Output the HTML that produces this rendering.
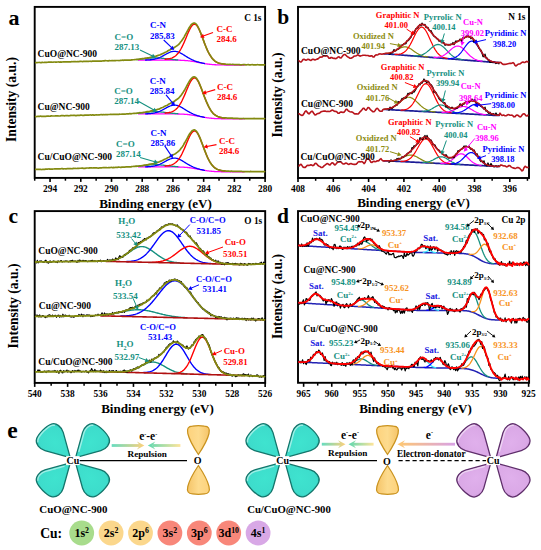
<!DOCTYPE html>
<html><head><meta charset="utf-8"><style>
html,body{margin:0;padding:0;background:#fff;}
svg{display:block;}
</style></head><body>
<svg width="541" height="550" viewBox="0 0 541 550">
<rect x="0" y="0" width="541" height="550" fill="#fff"/>
<g font-family="Liberation Serif" font-weight="bold">
<text x="8.4" y="24.6" font-size="22" fill="#000" text-anchor="start">a</text>
<text x="277.3" y="24.3" font-size="21.5" fill="#000" text-anchor="start">b</text>
<text x="8.6" y="222.8" font-size="21.5" fill="#000" text-anchor="start">c</text>
<text x="277.1" y="223.2" font-size="21.5" fill="#000" text-anchor="start">d</text>
<text x="7.3" y="437.8" font-size="23.5" fill="#000" text-anchor="start">e</text>
<rect x="34.7" y="6.9" width="230.4" height="171" fill="none" stroke="#000" stroke-width="1.9"/>
<line x1="50.06" y1="177.9" x2="50.06" y2="181.9" stroke="#000" stroke-width="1.6"/>
<text x="50.06" y="192" font-size="9.4" fill="#000" text-anchor="middle">294</text>
<line x1="80.78" y1="177.9" x2="80.78" y2="181.9" stroke="#000" stroke-width="1.6"/>
<text x="80.78" y="192" font-size="9.4" fill="#000" text-anchor="middle">292</text>
<line x1="111.5" y1="177.9" x2="111.5" y2="181.9" stroke="#000" stroke-width="1.6"/>
<text x="111.5" y="192" font-size="9.4" fill="#000" text-anchor="middle">290</text>
<line x1="142.22" y1="177.9" x2="142.22" y2="181.9" stroke="#000" stroke-width="1.6"/>
<text x="142.22" y="192" font-size="9.4" fill="#000" text-anchor="middle">288</text>
<line x1="172.94" y1="177.9" x2="172.94" y2="181.9" stroke="#000" stroke-width="1.6"/>
<text x="172.94" y="192" font-size="9.4" fill="#000" text-anchor="middle">286</text>
<line x1="203.66" y1="177.9" x2="203.66" y2="181.9" stroke="#000" stroke-width="1.6"/>
<text x="203.66" y="192" font-size="9.4" fill="#000" text-anchor="middle">284</text>
<line x1="234.38" y1="177.9" x2="234.38" y2="181.9" stroke="#000" stroke-width="1.6"/>
<text x="234.38" y="192" font-size="9.4" fill="#000" text-anchor="middle">282</text>
<line x1="265.1" y1="177.9" x2="265.1" y2="181.9" stroke="#000" stroke-width="1.6"/>
<text x="265.1" y="192" font-size="9.4" fill="#000" text-anchor="middle">280</text>
<line x1="34.7" y1="177.9" x2="34.7" y2="180.7" stroke="#000" stroke-width="1.5"/>
<line x1="65.42" y1="177.9" x2="65.42" y2="180.7" stroke="#000" stroke-width="1.5"/>
<line x1="96.14" y1="177.9" x2="96.14" y2="180.7" stroke="#000" stroke-width="1.5"/>
<line x1="126.86" y1="177.9" x2="126.86" y2="180.7" stroke="#000" stroke-width="1.5"/>
<line x1="157.58" y1="177.9" x2="157.58" y2="180.7" stroke="#000" stroke-width="1.5"/>
<line x1="188.3" y1="177.9" x2="188.3" y2="180.7" stroke="#000" stroke-width="1.5"/>
<line x1="219.02" y1="177.9" x2="219.02" y2="180.7" stroke="#000" stroke-width="1.5"/>
<line x1="249.74" y1="177.9" x2="249.74" y2="180.7" stroke="#000" stroke-width="1.5"/>
<text x="155.5" y="207.6" font-size="13.1" fill="#000" text-anchor="middle">Binding energy (eV)</text>
<text x="16.3" y="99.5" font-size="13.6" fill="#000" text-anchor="middle" transform="rotate(-90 16.3 99.5)">Intensity (a.u.)</text>
<text x="261.5" y="20.6" font-size="9.3" fill="#000" text-anchor="end">C 1s</text>
<polyline points="138.6,60.13 139.3,60.12 140,60.1 140.7,60.1 141.4,60.1 142.1,60.1 142.8,60.1 143.5,60.1 144.2,60.1 144.9,60.1 145.6,60.1 146.3,60.1 147,60.1 147.7,60.1 148.4,60.1 149.1,60.1 149.8,60.1 150.5,60.1 151.2,60.1 151.9,60.1 152.6,60.1 153.3,60.1 154,60.1 154.7,60.1 155.4,60.1 156.1,60.1 156.8,60.1 157.5,60.1 158.2,60.1 158.9,60.1 159.6,60.1 160.3,60.1 161,60.1 161.7,60.1 162.4,60.1 163.1,60.1 163.8,60.1 164.5,60.1 165.2,60.1 165.9,60.1 166.6,60.1 167.3,60.1 168,60.1 168.7,60.11 169.4,60.11 170.1,60.11 170.8,60.11 171.5,60.11 172.2,60.12 172.9,60.12 173.6,60.13 174.3,60.13 175,60.14 175.7,60.15 176.4,60.16 177.1,60.17 177.8,60.18 178.5,60.2 179.2,60.22 179.9,60.24 180.6,60.26 181.3,60.29 182,60.32 182.7,60.35 183.4,60.39 184.1,60.43 184.8,60.48 185.5,60.53 186.2,60.59 186.9,60.65 187.6,60.72 188.3,60.8 189,60.88 189.7,60.96 190.4,61.05 191.1,61.15 191.8,61.26 192.5,61.36 193.2,61.48 193.9,61.59 194.6,61.72 195.3,61.84 196,61.97 196.7,62.1 197.4,62.24 198.1,62.37 198.8,62.51 199.5,62.65 200.2,62.78 200.9,62.92 201.6,63.05 202.3,63.18 203,63.31 203.7,63.44 204.4,63.56 205.1,63.67 205.8,63.78 206.5,63.89 207.2,63.99 207.9,64.09 208.6,64.17 209.3,64.26 210,64.34 210.7,64.41 211.4,64.47 212.1,64.53 212.8,64.59 213.5,64.64 214.2,64.69 214.9,64.73 215.6,64.76 216.3,64.8 217,64.82 217.7,64.85 218.4,64.87 219.1,64.89 219.8,64.91 220.5,64.92 221.2,64.94 221.9,64.95 222.6,64.96 223.3,64.96 224,64.97 224.7,64.98 225.4,64.98 226.1,64.98 226.8,64.99 227.5,64.99 228.2,64.99 228.9,64.99 229.6,64.99 230.3,65 231,65 231.7,65 232.4,65 233.1,65 233.8,65 234.5,65 235.2,65 235.9,65 236.6,65 237.3,65 238,65 238.7,65 239.4,65 240.1,65 240.8,65 241.5,65 242.2,65 242.9,65 243.6,65 244.3,65" fill="none" stroke="#ff00ff" stroke-width="1.3" stroke-linejoin="round" stroke-linecap="round"/>
<polyline points="136.5,59.68 137.2,59.6 137.9,59.52 138.6,59.44 139.3,59.35 140,59.26 140.7,59.19 141.4,59.11 142.1,59.03 142.8,58.95 143.5,58.86 144.2,58.78 144.9,58.69 145.6,58.61 146.3,58.53 147,58.45 147.7,58.37 148.4,58.29 149.1,58.22 149.8,58.16 150.5,58.1 151.2,58.05 151.9,58 152.6,57.97 153.3,57.94 154,57.92 154.7,57.9 155.4,57.9 156.1,57.91 156.8,57.92 157.5,57.94 158.2,57.98 158.9,58.01 159.6,58.06 160.3,58.12 161,58.18 161.7,58.24 162.4,58.31 163.1,58.39 163.8,58.47 164.5,58.55 165.2,58.63 165.9,58.72 166.6,58.8 167.3,58.89 168,58.98 168.7,59.06 169.4,59.14 170.1,59.22 170.8,59.3 171.5,59.37 172.2,59.44 172.9,59.51 173.6,59.58 174.3,59.64 175,59.7 175.7,59.75 176.4,59.81 177.1,59.86 177.8,59.91" fill="none" stroke="#15907f" stroke-width="1.3" stroke-linejoin="round" stroke-linecap="round"/>
<polyline points="145.6,60.01 146.3,59.99 147,59.97 147.7,59.94 148.4,59.9 149.1,59.85 149.8,59.8 150.5,59.74 151.2,59.67 151.9,59.58 152.6,59.48 153.3,59.37 154,59.24 154.7,59.1 155.4,58.93 156.1,58.75 156.8,58.55 157.5,58.33 158.2,58.08 158.9,57.81 159.6,57.53 160.3,57.22 161,56.89 161.7,56.55 162.4,56.19 163.1,55.82 163.8,55.43 164.5,55.04 165.2,54.65 165.9,54.26 166.6,53.88 167.3,53.5 168,53.14 168.7,52.8 169.4,52.49 170.1,52.2 170.8,51.95 171.5,51.74 172.2,51.57 172.9,51.45 173.6,51.37 174.3,51.34 175,51.35 175.7,51.42 176.4,51.53 177.1,51.69 177.8,51.9 178.5,52.15 179.2,52.43 179.9,52.75 180.6,53.1 181.3,53.48 182,53.87 182.7,54.29 183.4,54.72 184.1,55.15 184.8,55.59 185.5,56.03 186.2,56.47 186.9,56.9 187.6,57.32 188.3,57.73 189,58.13 189.7,58.52 190.4,58.89 191.1,59.24 191.8,59.58 192.5,59.9 193.2,60.21 193.9,60.5 194.6,60.78 195.3,61.04 196,61.29 196.7,61.53 197.4,61.76 198.1,61.97 198.8,62.18 199.5,62.37 200.2,62.56 200.9,62.73 201.6,62.9 202.3,63.06 203,63.21 203.7,63.36 204.4,63.49" fill="none" stroke="#0000ff" stroke-width="1.3" stroke-linejoin="round" stroke-linecap="round"/>
<polyline points="165.2,59.26 165.9,59.19 166.6,59.12 167.3,59.03 168,58.93 168.7,58.81 169.4,58.66 170.1,58.5 170.8,58.3 171.5,58.07 172.2,57.8 172.9,57.49 173.6,57.13 174.3,56.71 175,56.23 175.7,55.69 176.4,55.06 177.1,54.36 177.8,53.58 178.5,52.71 179.2,51.74 179.9,50.68 180.6,49.52 181.3,48.27 182,46.93 182.7,45.51 183.4,44.01 184.1,42.44 184.8,40.81 185.5,39.15 186.2,37.46 186.9,35.77 187.6,34.1 188.3,32.47 189,30.91 189.7,29.45 190.4,28.11 191.1,26.93 191.8,25.92 192.5,25.12 193.2,24.54 193.9,24.21 194.6,24.13 195.3,24.31 196,24.75 196.7,25.43 197.4,26.36 198.1,27.49 198.8,28.81 199.5,30.3 200.2,31.92 200.9,33.65 201.6,35.45 202.3,37.3 203,39.18 203.7,41.05 204.4,42.91 205.1,44.73 205.8,46.49 206.5,48.18 207.2,49.78 207.9,51.3 208.6,52.72 209.3,54.04 210,55.25 210.7,56.36 211.4,57.37 212.1,58.28 212.8,59.1 213.5,59.83 214.2,60.47 214.9,61.03 215.6,61.53 216.3,61.96 217,62.33 217.7,62.66 218.4,62.93 219.1,63.17 219.8,63.37 220.5,63.54 221.2,63.69 221.9,63.81 222.6,63.92 223.3,64.01 224,64.09 224.7,64.15" fill="none" stroke="#ff0000" stroke-width="1.4" stroke-linejoin="round" stroke-linecap="round"/>
<polyline points="35.7,62.64 36.4,62.64 37.1,62.61 37.8,62.52 38.5,62.49 39.2,62.47 39.9,62.48 40.6,62.6 41.3,62.55 42,62.42 42.7,62.46 43.4,62.5 44.1,62.46 44.8,62.36 45.5,62.34 46.2,62.42 46.9,62.32 47.6,62.24 48.3,62.18 49,62.12 49.7,62.1 50.4,62.15 51.1,62.17 51.8,62.18 52.5,62.25 53.2,62.2 53.9,62.02 54.6,61.98 55.3,62.12 56,62.14 56.7,62.03 57.4,61.98 58.1,61.99 58.8,61.95 59.5,62.06 60.2,62.04 60.9,61.96 61.6,62.04 62.3,61.99 63,61.91 63.7,61.94 64.4,61.93 65.1,61.83 65.8,61.82 66.5,61.95 67.2,61.84 67.9,61.79 68.6,61.87 69.3,61.77 70,61.86 70.7,61.93 71.4,61.72 72.1,61.66 72.8,61.75 73.5,61.71 74.2,61.7 74.9,61.69 75.6,61.67 76.3,61.74 77,61.65 77.7,61.55 78.4,61.55 79.1,61.53 79.8,61.47 80.5,61.41 81.2,61.45 81.9,61.52 82.6,61.58 83.3,61.43 84,61.29 84.7,61.39 85.4,61.3 86.1,61.22 86.8,61.32 87.5,61.4 88.2,61.43 88.9,61.32 89.6,61.24 90.3,61.22 91,61.32 91.7,61.29 92.4,61.16 93.1,61.19 93.8,61.18 94.5,61.13 95.2,61.05 95.9,61.05 96.6,61.07 97.3,61.12 98,61.17 98.7,61.08 99.4,61.06 100.1,61.02 100.8,61.03 101.5,61.03 102.2,60.98 102.9,60.89 103.6,60.85 104.3,60.81 105,60.65 105.7,60.71 106.4,60.76 107.1,60.77 107.8,60.94 108.5,60.86 109.2,60.67 109.9,60.72 110.6,60.76 111.3,60.72 112,60.66 112.7,60.7 113.4,60.72 114.1,60.6 114.8,60.54 115.5,60.58 116.2,60.51 116.9,60.5 117.6,60.49 118.3,60.51 119,60.55 119.7,60.48 120.4,60.41 121.1,60.37 121.8,60.27 122.5,60.18 123.2,60.3 123.9,60.21 124.6,60.21 125.3,60.21 126,60.17 126.7,60.19 127.4,60.16 128.1,60.18 128.8,60.01 129.5,60.03 130.2,60.17 130.9,60.05 131.6,59.89 132.3,59.84 133,59.74 133.7,59.75 134.4,59.71 135.1,59.58 135.8,59.49 136.5,59.38 137.2,59.27 137.9,59.3 138.6,59.28 139.3,59.16 140,59.08 140.7,58.89 141.4,58.78 142.1,58.7 142.8,58.62 143.5,58.53 144.2,58.41 144.9,58.24 145.6,58.1 146.3,58.17 147,58.07 147.7,57.79 148.4,57.73 149.1,57.75 149.8,57.52 150.5,57.29 151.2,57.2 151.9,56.97 152.6,56.9 153.3,56.85 154,56.65 154.7,56.44 155.4,56.28 156.1,56.1 156.8,55.86 157.5,55.61 158.2,55.31 158.9,55.21 159.6,54.99 160.3,54.65 161,54.39 161.7,54.03 162.4,53.68 163.1,53.41 163.8,53.08 164.5,52.68 165.2,52.33 165.9,52.04 166.6,51.7 167.3,51.28 168,50.82 168.7,50.34 169.4,50.05 170.1,49.82 170.8,49.38 171.5,48.98 172.2,48.66 172.9,48.3 173.6,47.92 174.3,47.45 175,47.07 175.7,46.58 176.4,46.07 177.1,45.66 177.8,45.1 178.5,44.58 179.2,43.95 179.9,43.03 180.6,42.04 181.3,41.28 182,40.36 182.7,39.29 183.4,38.3 184.1,37.04 184.8,35.64 185.5,34.48 186.2,33.31 186.9,31.97 187.6,30.65 188.3,29.33 189,28 189.7,26.89 190.4,25.86 191.1,24.85 191.8,24.17 192.5,23.67 193.2,23.29 193.9,23.07 194.6,23.09 195.3,23.41 196,23.95 196.7,24.82 197.4,25.84 198.1,27.06 198.8,28.52 199.5,30.17 200.2,31.73 200.9,33.43 201.6,35.35 202.3,37.17 203,38.99 203.7,40.86 204.4,42.86 205.1,44.72 205.8,46.45 206.5,48.13 207.2,49.81 207.9,51.35 208.6,52.57 209.3,53.85 210,55.08 210.7,56.04 211.4,57.14 212.1,58.33 212.8,59.18 213.5,59.76 214.2,60.34 214.9,61.04 215.6,61.61 216.3,61.97 217,62.33 217.7,62.65 218.4,62.98 219.1,63.25 219.8,63.42 220.5,63.49 221.2,63.66 221.9,63.8 222.6,63.94 223.3,64 224,64 224.7,64.14 225.4,64.13 226.1,64.28 226.8,64.49 227.5,64.4 228.2,64.39 228.9,64.47 229.6,64.3 230.3,64.31 231,64.49 231.7,64.5 232.4,64.46 233.1,64.45 233.8,64.52 234.5,64.63 235.2,64.67 235.9,64.61 236.6,64.7 237.3,64.68 238,64.57 238.7,64.51 239.4,64.64 240.1,64.82 240.8,64.79 241.5,64.78 242.2,64.74 242.9,64.72 243.6,64.71 244.3,64.69 245,64.71 245.7,64.82 246.4,64.86 247.1,64.77 247.8,64.71 248.5,64.68 249.2,64.82 249.9,64.9 250.6,64.81 251.3,64.76 252,64.7 252.7,64.72 253.4,64.84 254.1,64.83 254.8,64.77 255.5,64.78 256.2,64.81 256.9,64.73 257.6,64.71 258.3,64.76 259,64.83 259.7,64.84 260.4,64.82 261.1,64.96 261.8,64.91 262.5,64.79 263.2,64.82 263.9,64.86 264.6,64.79" fill="none" stroke="#838a10" stroke-width="1.7" stroke-linejoin="round" stroke-linecap="round"/>
<polyline points="138.6,113.93 139.3,113.92 140,113.9 140.7,113.9 141.4,113.9 142.1,113.9 142.8,113.9 143.5,113.9 144.2,113.9 144.9,113.9 145.6,113.9 146.3,113.9 147,113.9 147.7,113.9 148.4,113.9 149.1,113.9 149.8,113.9 150.5,113.9 151.2,113.9 151.9,113.9 152.6,113.9 153.3,113.9 154,113.9 154.7,113.9 155.4,113.9 156.1,113.9 156.8,113.9 157.5,113.9 158.2,113.9 158.9,113.9 159.6,113.9 160.3,113.9 161,113.9 161.7,113.9 162.4,113.9 163.1,113.9 163.8,113.9 164.5,113.9 165.2,113.9 165.9,113.9 166.6,113.9 167.3,113.9 168,113.9 168.7,113.91 169.4,113.91 170.1,113.91 170.8,113.91 171.5,113.91 172.2,113.92 172.9,113.92 173.6,113.93 174.3,113.93 175,113.94 175.7,113.95 176.4,113.96 177.1,113.97 177.8,113.98 178.5,114 179.2,114.02 179.9,114.04 180.6,114.06 181.3,114.09 182,114.12 182.7,114.15 183.4,114.19 184.1,114.23 184.8,114.28 185.5,114.33 186.2,114.39 186.9,114.45 187.6,114.52 188.3,114.6 189,114.68 189.7,114.76 190.4,114.85 191.1,114.95 191.8,115.06 192.5,115.16 193.2,115.28 193.9,115.39 194.6,115.52 195.3,115.64 196,115.77 196.7,115.9 197.4,116.04 198.1,116.17 198.8,116.31 199.5,116.45 200.2,116.58 200.9,116.72 201.6,116.85 202.3,116.98 203,117.11 203.7,117.24 204.4,117.36 205.1,117.47 205.8,117.58 206.5,117.69 207.2,117.79 207.9,117.89 208.6,117.97 209.3,118.06 210,118.14 210.7,118.21 211.4,118.27 212.1,118.33 212.8,118.39 213.5,118.44 214.2,118.49 214.9,118.53 215.6,118.56 216.3,118.6 217,118.62 217.7,118.65 218.4,118.67 219.1,118.69 219.8,118.71 220.5,118.72 221.2,118.74 221.9,118.75 222.6,118.76 223.3,118.76 224,118.77 224.7,118.78 225.4,118.78 226.1,118.78 226.8,118.79 227.5,118.79 228.2,118.79 228.9,118.79 229.6,118.79 230.3,118.8 231,118.8 231.7,118.8 232.4,118.8 233.1,118.8 233.8,118.8 234.5,118.8 235.2,118.8 235.9,118.8 236.6,118.8 237.3,118.8 238,118.8 238.7,118.8 239.4,118.8 240.1,118.8 240.8,118.8 241.5,118.8 242.2,118.8 242.9,118.8 243.6,118.8 244.3,118.8" fill="none" stroke="#ff00ff" stroke-width="1.3" stroke-linejoin="round" stroke-linecap="round"/>
<polyline points="136.5,113.48 137.2,113.4 137.9,113.32 138.6,113.24 139.3,113.15 140,113.06 140.7,112.99 141.4,112.91 142.1,112.83 142.8,112.75 143.5,112.66 144.2,112.58 144.9,112.49 145.6,112.41 146.3,112.33 147,112.25 147.7,112.17 148.4,112.09 149.1,112.02 149.8,111.96 150.5,111.9 151.2,111.85 151.9,111.8 152.6,111.77 153.3,111.74 154,111.72 154.7,111.7 155.4,111.7 156.1,111.71 156.8,111.72 157.5,111.74 158.2,111.78 158.9,111.81 159.6,111.86 160.3,111.92 161,111.98 161.7,112.04 162.4,112.11 163.1,112.19 163.8,112.27 164.5,112.35 165.2,112.43 165.9,112.52 166.6,112.6 167.3,112.69 168,112.78 168.7,112.86 169.4,112.94 170.1,113.02 170.8,113.1 171.5,113.17 172.2,113.24 172.9,113.31 173.6,113.38 174.3,113.44 175,113.5 175.7,113.55 176.4,113.61 177.1,113.66 177.8,113.71" fill="none" stroke="#15907f" stroke-width="1.3" stroke-linejoin="round" stroke-linecap="round"/>
<polyline points="145.6,113.81 146.3,113.79 147,113.77 147.7,113.74 148.4,113.7 149.1,113.65 149.8,113.6 150.5,113.54 151.2,113.47 151.9,113.38 152.6,113.28 153.3,113.17 154,113.04 154.7,112.9 155.4,112.73 156.1,112.55 156.8,112.35 157.5,112.13 158.2,111.88 158.9,111.61 159.6,111.33 160.3,111.02 161,110.69 161.7,110.35 162.4,109.99 163.1,109.62 163.8,109.23 164.5,108.84 165.2,108.45 165.9,108.06 166.6,107.68 167.3,107.3 168,106.94 168.7,106.6 169.4,106.29 170.1,106 170.8,105.75 171.5,105.54 172.2,105.37 172.9,105.25 173.6,105.17 174.3,105.14 175,105.15 175.7,105.22 176.4,105.33 177.1,105.49 177.8,105.7 178.5,105.95 179.2,106.23 179.9,106.55 180.6,106.9 181.3,107.28 182,107.67 182.7,108.09 183.4,108.52 184.1,108.95 184.8,109.39 185.5,109.83 186.2,110.27 186.9,110.7 187.6,111.12 188.3,111.53 189,111.93 189.7,112.32 190.4,112.69 191.1,113.04 191.8,113.38 192.5,113.7 193.2,114.01 193.9,114.3 194.6,114.58 195.3,114.84 196,115.09 196.7,115.33 197.4,115.56 198.1,115.77 198.8,115.98 199.5,116.17 200.2,116.36 200.9,116.53 201.6,116.7 202.3,116.86 203,117.01 203.7,117.16 204.4,117.29" fill="none" stroke="#0000ff" stroke-width="1.3" stroke-linejoin="round" stroke-linecap="round"/>
<polyline points="165.2,113.06 165.9,112.99 166.6,112.92 167.3,112.83 168,112.73 168.7,112.61 169.4,112.46 170.1,112.3 170.8,112.1 171.5,111.87 172.2,111.6 172.9,111.29 173.6,110.93 174.3,110.51 175,110.03 175.7,109.49 176.4,108.86 177.1,108.16 177.8,107.38 178.5,106.51 179.2,105.54 179.9,104.48 180.6,103.32 181.3,102.07 182,100.73 182.7,99.31 183.4,97.81 184.1,96.24 184.8,94.61 185.5,92.95 186.2,91.26 186.9,89.57 187.6,87.9 188.3,86.27 189,84.71 189.7,83.25 190.4,81.91 191.1,80.73 191.8,79.72 192.5,78.92 193.2,78.34 193.9,78.01 194.6,77.93 195.3,78.11 196,78.55 196.7,79.23 197.4,80.16 198.1,81.29 198.8,82.61 199.5,84.1 200.2,85.72 200.9,87.45 201.6,89.25 202.3,91.1 203,92.98 203.7,94.85 204.4,96.71 205.1,98.53 205.8,100.29 206.5,101.98 207.2,103.58 207.9,105.1 208.6,106.52 209.3,107.84 210,109.05 210.7,110.16 211.4,111.17 212.1,112.08 212.8,112.9 213.5,113.63 214.2,114.27 214.9,114.83 215.6,115.33 216.3,115.76 217,116.13 217.7,116.46 218.4,116.73 219.1,116.97 219.8,117.17 220.5,117.34 221.2,117.49 221.9,117.61 222.6,117.72 223.3,117.81 224,117.89 224.7,117.95" fill="none" stroke="#ff0000" stroke-width="1.4" stroke-linejoin="round" stroke-linecap="round"/>
<polyline points="35.7,116.47 36.4,116.57 37.1,116.51 37.8,116.36 38.5,116.3 39.2,116.31 39.9,116.28 40.6,116.18 41.3,116.31 42,116.31 42.7,116.28 43.4,116.41 44.1,116.34 44.8,116.26 45.5,116.35 46.2,116.28 46.9,116.11 47.6,116.03 48.3,116.05 49,116.2 49.7,116.24 50.4,116.07 51.1,115.95 51.8,115.96 52.5,116.01 53.2,116.01 53.9,115.99 54.6,116 55.3,115.95 56,115.91 56.7,115.92 57.4,115.9 58.1,115.9 58.8,116 59.5,115.99 60.2,115.87 60.9,115.71 61.6,115.71 62.3,115.68 63,115.55 63.7,115.71 64.4,115.81 65.1,115.74 65.8,115.57 66.5,115.54 67.2,115.59 67.9,115.63 68.6,115.79 69.3,115.75 70,115.55 70.7,115.44 71.4,115.47 72.1,115.51 72.8,115.43 73.5,115.43 74.2,115.41 74.9,115.45 75.6,115.57 76.3,115.55 77,115.44 77.7,115.39 78.4,115.39 79.1,115.32 79.8,115.29 80.5,115.21 81.2,115.13 81.9,115.24 82.6,115.29 83.3,115.24 84,115.29 84.7,115.16 85.4,115.03 86.1,115.13 86.8,115.18 87.5,115.13 88.2,115.15 88.9,115.17 89.6,115.02 90.3,114.93 91,115.03 91.7,115.1 92.4,114.92 93.1,114.95 93.8,115.08 94.5,115.07 95.2,114.99 95.9,114.87 96.6,114.81 97.3,114.96 98,115 98.7,114.92 99.4,114.88 100.1,114.77 100.8,114.69 101.5,114.64 102.2,114.78 102.9,114.71 103.6,114.7 104.3,114.78 105,114.63 105.7,114.56 106.4,114.58 107.1,114.59 107.8,114.56 108.5,114.5 109.2,114.49 109.9,114.46 110.6,114.38 111.3,114.42 112,114.53 112.7,114.43 113.4,114.35 114.1,114.39 114.8,114.31 115.5,114.38 116.2,114.39 116.9,114.41 117.6,114.37 118.3,114.28 119,114.29 119.7,114.2 120.4,114.23 121.1,114.24 121.8,114.22 122.5,114.2 123.2,114.08 123.9,114.05 124.6,114.09 125.3,114.12 126,114.03 126.7,113.94 127.4,113.86 128.1,113.87 128.8,113.87 129.5,113.68 130.2,113.7 130.9,113.83 131.6,113.69 132.3,113.5 133,113.5 133.7,113.43 134.4,113.44 135.1,113.39 135.8,113.25 136.5,113.26 137.2,113.17 137.9,113.08 138.6,112.98 139.3,112.79 140,112.64 140.7,112.73 141.4,112.74 142.1,112.55 142.8,112.47 143.5,112.36 144.2,112.26 144.9,112.26 145.6,112.09 146.3,111.77 147,111.65 147.7,111.55 148.4,111.53 149.1,111.54 149.8,111.31 150.5,111.05 151.2,110.95 151.9,110.97 152.6,110.68 153.3,110.47 154,110.41 154.7,110.27 155.4,110.09 156.1,109.82 156.8,109.59 157.5,109.33 158.2,109.27 158.9,109.13 159.6,108.76 160.3,108.39 161,108 161.7,107.73 162.4,107.52 163.1,107.2 163.8,106.85 164.5,106.43 165.2,106.07 165.9,105.76 166.6,105.47 167.3,105.2 168,104.74 168.7,104.2 169.4,103.83 170.1,103.46 170.8,103.05 171.5,102.71 172.2,102.32 172.9,101.98 173.6,101.65 174.3,101.23 175,100.81 175.7,100.31 176.4,99.79 177.1,99.31 177.8,98.78 178.5,98.19 179.2,97.56 179.9,96.73 180.6,95.93 181.3,95.05 182,94.06 182.7,93.09 183.4,91.91 184.1,90.76 184.8,89.68 185.5,88.39 186.2,87.06 186.9,85.73 187.6,84.39 188.3,83.11 189,81.9 189.7,80.76 190.4,79.66 191.1,78.75 191.8,78.06 192.5,77.45 193.2,77.03 193.9,76.91 194.6,76.92 195.3,77.23 196,77.91 196.7,78.69 197.4,79.71 198.1,80.87 198.8,82.23 199.5,83.85 200.2,85.56 200.9,87.3 201.6,89.02 202.3,90.92 203,92.98 203.7,94.91 204.4,96.72 205.1,98.4 205.8,100.21 206.5,101.99 207.2,103.4 207.9,104.95 208.6,106.44 209.3,107.66 210,108.93 210.7,110.19 211.4,111.22 212.1,112.07 212.8,113.02 213.5,113.82 214.2,114.36 214.9,114.81 215.6,115.24 216.3,115.64 217,116.12 217.7,116.5 218.4,116.76 219.1,117.04 219.8,117.18 220.5,117.29 221.2,117.53 221.9,117.69 222.6,117.82 223.3,117.9 224,117.89 224.7,117.96 225.4,117.97 226.1,117.9 226.8,118.04 227.5,118.17 228.2,118.19 228.9,118.12 229.6,118.11 230.3,118.2 231,118.19 231.7,118.11 232.4,118.16 233.1,118.37 233.8,118.43 234.5,118.35 235.2,118.34 235.9,118.44 236.6,118.29 237.3,118.25 238,118.46 238.7,118.52 239.4,118.6 240.1,118.63 240.8,118.56 241.5,118.52 242.2,118.56 242.9,118.51 243.6,118.47 244.3,118.57 245,118.7 245.7,118.64 246.4,118.53 247.1,118.55 247.8,118.64 248.5,118.64 249.2,118.65 249.9,118.6 250.6,118.51 251.3,118.56 252,118.62 252.7,118.7 253.4,118.57 254.1,118.45 254.8,118.57 255.5,118.59 256.2,118.48 256.9,118.59 257.6,118.71 258.3,118.68 259,118.63 259.7,118.66 260.4,118.68 261.1,118.69 261.8,118.65 262.5,118.54 263.2,118.61 263.9,118.62 264.6,118.65" fill="none" stroke="#838a10" stroke-width="1.7" stroke-linejoin="round" stroke-linecap="round"/>
<polyline points="138.6,166.93 139.3,166.92 140,166.9 140.7,166.9 141.4,166.9 142.1,166.9 142.8,166.9 143.5,166.9 144.2,166.9 144.9,166.9 145.6,166.9 146.3,166.9 147,166.9 147.7,166.9 148.4,166.9 149.1,166.9 149.8,166.9 150.5,166.9 151.2,166.9 151.9,166.9 152.6,166.9 153.3,166.9 154,166.9 154.7,166.9 155.4,166.9 156.1,166.9 156.8,166.9 157.5,166.9 158.2,166.9 158.9,166.9 159.6,166.9 160.3,166.9 161,166.9 161.7,166.9 162.4,166.9 163.1,166.9 163.8,166.9 164.5,166.9 165.2,166.9 165.9,166.9 166.6,166.9 167.3,166.9 168,166.9 168.7,166.91 169.4,166.91 170.1,166.91 170.8,166.91 171.5,166.91 172.2,166.92 172.9,166.92 173.6,166.93 174.3,166.93 175,166.94 175.7,166.95 176.4,166.96 177.1,166.97 177.8,166.98 178.5,167 179.2,167.02 179.9,167.04 180.6,167.06 181.3,167.09 182,167.12 182.7,167.15 183.4,167.19 184.1,167.23 184.8,167.28 185.5,167.33 186.2,167.39 186.9,167.45 187.6,167.52 188.3,167.6 189,167.68 189.7,167.76 190.4,167.85 191.1,167.95 191.8,168.06 192.5,168.16 193.2,168.28 193.9,168.39 194.6,168.52 195.3,168.64 196,168.77 196.7,168.9 197.4,169.04 198.1,169.17 198.8,169.31 199.5,169.45 200.2,169.58 200.9,169.72 201.6,169.85 202.3,169.98 203,170.11 203.7,170.24 204.4,170.36 205.1,170.47 205.8,170.58 206.5,170.69 207.2,170.79 207.9,170.89 208.6,170.97 209.3,171.06 210,171.14 210.7,171.21 211.4,171.27 212.1,171.33 212.8,171.39 213.5,171.44 214.2,171.49 214.9,171.53 215.6,171.56 216.3,171.6 217,171.62 217.7,171.65 218.4,171.67 219.1,171.69 219.8,171.71 220.5,171.72 221.2,171.74 221.9,171.75 222.6,171.76 223.3,171.76 224,171.77 224.7,171.78 225.4,171.78 226.1,171.78 226.8,171.79 227.5,171.79 228.2,171.79 228.9,171.79 229.6,171.79 230.3,171.8 231,171.8 231.7,171.8 232.4,171.8 233.1,171.8 233.8,171.8 234.5,171.8 235.2,171.8 235.9,171.8 236.6,171.8 237.3,171.8 238,171.8 238.7,171.8 239.4,171.8 240.1,171.8 240.8,171.8 241.5,171.8 242.2,171.8 242.9,171.8 243.6,171.8 244.3,171.8" fill="none" stroke="#ff00ff" stroke-width="1.3" stroke-linejoin="round" stroke-linecap="round"/>
<polyline points="136.5,166.48 137.2,166.4 137.9,166.32 138.6,166.24 139.3,166.15 140,166.06 140.7,165.99 141.4,165.91 142.1,165.83 142.8,165.75 143.5,165.66 144.2,165.58 144.9,165.49 145.6,165.41 146.3,165.33 147,165.25 147.7,165.17 148.4,165.09 149.1,165.02 149.8,164.96 150.5,164.9 151.2,164.85 151.9,164.8 152.6,164.77 153.3,164.74 154,164.72 154.7,164.7 155.4,164.7 156.1,164.71 156.8,164.72 157.5,164.74 158.2,164.78 158.9,164.81 159.6,164.86 160.3,164.92 161,164.98 161.7,165.04 162.4,165.11 163.1,165.19 163.8,165.27 164.5,165.35 165.2,165.43 165.9,165.52 166.6,165.6 167.3,165.69 168,165.78 168.7,165.86 169.4,165.94 170.1,166.02 170.8,166.1 171.5,166.17 172.2,166.24 172.9,166.31 173.6,166.38 174.3,166.44 175,166.5 175.7,166.55 176.4,166.61 177.1,166.66 177.8,166.71" fill="none" stroke="#15907f" stroke-width="1.3" stroke-linejoin="round" stroke-linecap="round"/>
<polyline points="145.6,166.81 146.3,166.79 147,166.77 147.7,166.74 148.4,166.7 149.1,166.65 149.8,166.6 150.5,166.54 151.2,166.47 151.9,166.38 152.6,166.28 153.3,166.17 154,166.04 154.7,165.9 155.4,165.73 156.1,165.55 156.8,165.35 157.5,165.13 158.2,164.88 158.9,164.61 159.6,164.33 160.3,164.02 161,163.69 161.7,163.35 162.4,162.99 163.1,162.62 163.8,162.23 164.5,161.84 165.2,161.45 165.9,161.06 166.6,160.68 167.3,160.3 168,159.94 168.7,159.6 169.4,159.29 170.1,159 170.8,158.75 171.5,158.54 172.2,158.37 172.9,158.25 173.6,158.17 174.3,158.14 175,158.15 175.7,158.22 176.4,158.33 177.1,158.49 177.8,158.7 178.5,158.95 179.2,159.23 179.9,159.55 180.6,159.9 181.3,160.28 182,160.67 182.7,161.09 183.4,161.52 184.1,161.95 184.8,162.39 185.5,162.83 186.2,163.27 186.9,163.7 187.6,164.12 188.3,164.53 189,164.93 189.7,165.32 190.4,165.69 191.1,166.04 191.8,166.38 192.5,166.7 193.2,167.01 193.9,167.3 194.6,167.58 195.3,167.84 196,168.09 196.7,168.33 197.4,168.56 198.1,168.77 198.8,168.98 199.5,169.17 200.2,169.36 200.9,169.53 201.6,169.7 202.3,169.86 203,170.01 203.7,170.16 204.4,170.29" fill="none" stroke="#0000ff" stroke-width="1.3" stroke-linejoin="round" stroke-linecap="round"/>
<polyline points="165.2,166.06 165.9,165.99 166.6,165.92 167.3,165.83 168,165.73 168.7,165.61 169.4,165.46 170.1,165.3 170.8,165.1 171.5,164.87 172.2,164.6 172.9,164.29 173.6,163.93 174.3,163.51 175,163.03 175.7,162.49 176.4,161.86 177.1,161.16 177.8,160.38 178.5,159.51 179.2,158.54 179.9,157.48 180.6,156.32 181.3,155.07 182,153.73 182.7,152.31 183.4,150.81 184.1,149.24 184.8,147.61 185.5,145.95 186.2,144.26 186.9,142.57 187.6,140.9 188.3,139.27 189,137.71 189.7,136.25 190.4,134.91 191.1,133.73 191.8,132.72 192.5,131.92 193.2,131.34 193.9,131.01 194.6,130.93 195.3,131.11 196,131.55 196.7,132.23 197.4,133.16 198.1,134.29 198.8,135.61 199.5,137.1 200.2,138.72 200.9,140.45 201.6,142.25 202.3,144.1 203,145.98 203.7,147.85 204.4,149.71 205.1,151.53 205.8,153.29 206.5,154.98 207.2,156.58 207.9,158.1 208.6,159.52 209.3,160.84 210,162.05 210.7,163.16 211.4,164.17 212.1,165.08 212.8,165.9 213.5,166.63 214.2,167.27 214.9,167.83 215.6,168.33 216.3,168.76 217,169.13 217.7,169.46 218.4,169.73 219.1,169.97 219.8,170.17 220.5,170.34 221.2,170.49 221.9,170.61 222.6,170.72 223.3,170.81 224,170.89 224.7,170.95" fill="none" stroke="#ff0000" stroke-width="1.4" stroke-linejoin="round" stroke-linecap="round"/>
<polyline points="35.7,169.46 36.4,169.38 37.1,169.36 37.8,169.37 38.5,169.41 39.2,169.37 39.9,169.27 40.6,169.37 41.3,169.51 42,169.54 42.7,169.39 43.4,169.27 44.1,169.34 44.8,169.3 45.5,169.13 46.2,169.13 46.9,169.2 47.6,169.12 48.3,168.98 49,168.92 49.7,169.04 50.4,169.07 51.1,169 51.8,169.04 52.5,169.07 53.2,169.02 53.9,169 54.6,168.94 55.3,168.88 56,168.85 56.7,168.92 57.4,168.96 58.1,168.83 58.8,168.8 59.5,168.81 60.2,168.86 60.9,168.76 61.6,168.63 62.3,168.69 63,168.89 63.7,168.95 64.4,168.77 65.1,168.74 65.8,168.85 66.5,168.78 67.2,168.61 67.9,168.68 68.6,168.72 69.3,168.67 70,168.59 70.7,168.65 71.4,168.76 72.1,168.66 72.8,168.58 73.5,168.41 74.2,168.39 74.9,168.48 75.6,168.45 76.3,168.49 77,168.42 77.7,168.26 78.4,168.29 79.1,168.32 79.8,168.26 80.5,168.26 81.2,168.24 81.9,168.12 82.6,168.19 83.3,168.33 84,168.3 84.7,168.39 85.4,168.31 86.1,168.06 86.8,167.99 87.5,168.01 88.2,168.01 88.9,168.07 89.6,167.96 90.3,167.96 91,167.97 91.7,167.95 92.4,168.02 93.1,167.96 93.8,167.94 94.5,167.91 95.2,167.86 95.9,167.78 96.6,167.79 97.3,167.99 98,168.09 98.7,168.04 99.4,167.94 100.1,167.81 100.8,167.83 101.5,167.85 102.2,167.74 102.9,167.71 103.6,167.7 104.3,167.67 105,167.64 105.7,167.58 106.4,167.55 107.1,167.73 107.8,167.73 108.5,167.56 109.2,167.58 109.9,167.62 110.6,167.5 111.3,167.42 112,167.53 112.7,167.54 113.4,167.47 114.1,167.53 114.8,167.46 115.5,167.35 116.2,167.34 116.9,167.4 117.6,167.3 118.3,167.15 119,167.21 119.7,167.27 120.4,167.32 121.1,167.34 121.8,167.18 122.5,167.12 123.2,167.17 123.9,167.06 124.6,167.08 125.3,167.04 126,166.85 126.7,166.85 127.4,166.85 128.1,166.8 128.8,166.88 129.5,166.89 130.2,166.92 130.9,166.85 131.6,166.61 132.3,166.52 133,166.5 133.7,166.42 134.4,166.43 135.1,166.4 135.8,166.18 136.5,166.19 137.2,166.22 137.9,166.11 138.6,166.04 139.3,165.96 140,165.86 140.7,165.81 141.4,165.74 142.1,165.6 142.8,165.5 143.5,165.29 144.2,165.15 144.9,165.12 145.6,165.03 146.3,164.85 147,164.82 147.7,164.79 148.4,164.5 149.1,164.27 149.8,164.2 150.5,164.16 151.2,164 151.9,163.87 152.6,163.73 153.3,163.6 154,163.44 154.7,163.23 155.4,163.15 156.1,163.12 156.8,162.79 157.5,162.39 158.2,162.17 158.9,162 159.6,161.72 160.3,161.36 161,161.14 161.7,160.8 162.4,160.42 163.1,160.12 163.8,159.71 164.5,159.29 165.2,159.03 165.9,158.75 166.6,158.39 167.3,157.89 168,157.5 168.7,157.27 169.4,156.96 170.1,156.53 170.8,156.07 171.5,155.74 172.2,155.38 172.9,154.9 173.6,154.5 174.3,154.26 175,153.9 175.7,153.44 176.4,152.93 177.1,152.41 177.8,151.84 178.5,151.17 179.2,150.68 179.9,150.01 180.6,149.02 181.3,148.09 182,147.19 182.7,146.24 183.4,145.09 184.1,143.75 184.8,142.54 185.5,141.38 186.2,140.1 186.9,138.86 187.6,137.56 188.3,136.25 189,134.93 189.7,133.77 190.4,132.91 191.1,131.98 191.8,131.1 192.5,130.47 193.2,130.18 193.9,129.96 194.6,129.92 195.3,130.33 196,130.94 196.7,131.68 197.4,132.67 198.1,133.89 198.8,135.27 199.5,136.82 200.2,138.42 200.9,140.19 201.6,142.15 202.3,143.97 203,145.81 203.7,147.8 204.4,149.62 205.1,151.42 205.8,153.19 206.5,154.95 207.2,156.77 207.9,158.34 208.6,159.61 209.3,160.86 210,162.09 210.7,163.17 211.4,164.27 212.1,165.09 212.8,165.88 213.5,166.68 214.2,167.35 214.9,167.93 215.6,168.3 216.3,168.74 217,169.19 217.7,169.5 218.4,169.76 219.1,169.97 219.8,170.01 220.5,170.27 221.2,170.59 221.9,170.66 222.6,170.73 223.3,170.88 224,170.92 224.7,170.88 225.4,170.96 226.1,171.12 226.8,171.09 227.5,171.13 228.2,171.21 228.9,171.1 229.6,171.24 230.3,171.33 231,171.19 231.7,171.2 232.4,171.35 233.1,171.46 233.8,171.4 234.5,171.37 235.2,171.45 235.9,171.4 236.6,171.39 237.3,171.44 238,171.4 238.7,171.38 239.4,171.43 240.1,171.47 240.8,171.44 241.5,171.42 242.2,171.53 242.9,171.58 243.6,171.57 244.3,171.64 245,171.63 245.7,171.7 246.4,171.62 247.1,171.54 247.8,171.58 248.5,171.65 249.2,171.78 249.9,171.55 250.6,171.4 251.3,171.56 252,171.67 252.7,171.68 253.4,171.63 254.1,171.62 254.8,171.67 255.5,171.64 256.2,171.67 256.9,171.54 257.6,171.52 258.3,171.6 259,171.62 259.7,171.68 260.4,171.57 261.1,171.61 261.8,171.61 262.5,171.54 263.2,171.5 263.9,171.56 264.6,171.68" fill="none" stroke="#838a10" stroke-width="1.7" stroke-linejoin="round" stroke-linecap="round"/>
<text x="114.6" y="39.6" font-size="9" fill="#15907f" text-anchor="start">C=O</text>
<text x="114.6" y="49.8" font-size="9" fill="#15907f" text-anchor="start">287.13</text>
<text x="150" y="27.6" font-size="9" fill="#0000ff" text-anchor="start">C-N</text>
<text x="150" y="38.6" font-size="9" fill="#0000ff" text-anchor="start">285.83</text>
<text x="216.5" y="32.3" font-size="9" fill="#ff0000" text-anchor="start">C-C</text>
<text x="216.5" y="42" font-size="9" fill="#ff0000" text-anchor="start">284.6</text>
<line x1="140" y1="50" x2="152.54" y2="55.99" stroke="#15907f" stroke-width="1.1"/>
<polygon points="155.7,57.5 151.14,57.76 153.04,53.79" fill="#15907f"/>
<line x1="163.7" y1="40" x2="171.68" y2="47.67" stroke="#0000ff" stroke-width="1.1"/>
<polygon points="174.2,50.1 169.79,48.91 172.84,45.74" fill="#0000ff"/>
<line x1="213" y1="32.6" x2="203.3" y2="36.03" stroke="#ff0000" stroke-width="1.1"/>
<polygon points="200,37.2 203.04,33.79 204.5,37.94" fill="#ff0000"/>
<text x="114.2" y="94" font-size="9" fill="#15907f" text-anchor="start">C=O</text>
<text x="114.2" y="104" font-size="9" fill="#15907f" text-anchor="start">287.14</text>
<text x="149.7" y="84.4" font-size="9" fill="#0000ff" text-anchor="start">C-N</text>
<text x="149.7" y="94.2" font-size="9" fill="#0000ff" text-anchor="start">285.84</text>
<text x="217" y="89.6" font-size="9" fill="#ff0000" text-anchor="start">C-C</text>
<text x="217" y="100" font-size="9" fill="#ff0000" text-anchor="start">284.6</text>
<line x1="138.3" y1="101.2" x2="153.94" y2="109.9" stroke="#15907f" stroke-width="1.1"/>
<polygon points="157,111.6 152.43,111.58 154.57,107.73" fill="#15907f"/>
<line x1="166" y1="94.8" x2="172.8" y2="103.18" stroke="#0000ff" stroke-width="1.1"/>
<polygon points="175,105.9 170.77,104.18 174.19,101.41" fill="#0000ff"/>
<line x1="215.2" y1="89.6" x2="205.55" y2="92.49" stroke="#ff0000" stroke-width="1.1"/>
<polygon points="202.2,93.5 205.4,90.24 206.66,94.46" fill="#ff0000"/>
<text x="116" y="146.6" font-size="9" fill="#15907f" text-anchor="start">C=O</text>
<text x="116" y="157" font-size="9" fill="#15907f" text-anchor="start">287.14</text>
<text x="150.5" y="135.6" font-size="9" fill="#0000ff" text-anchor="start">C-N</text>
<text x="150.5" y="146" font-size="9" fill="#0000ff" text-anchor="start">285.86</text>
<text x="219" y="143.6" font-size="9" fill="#ff0000" text-anchor="start">C-C</text>
<text x="219" y="154.2" font-size="9" fill="#ff0000" text-anchor="start">284.6</text>
<line x1="140.1" y1="157.5" x2="154.84" y2="161.73" stroke="#15907f" stroke-width="1.1"/>
<polygon points="158.2,162.7 153.75,163.71 154.96,159.48" fill="#15907f"/>
<line x1="164.7" y1="145.9" x2="171.05" y2="155.39" stroke="#0000ff" stroke-width="1.1"/>
<polygon points="173,158.3 168.95,156.2 172.6,153.75" fill="#0000ff"/>
<line x1="216.5" y1="144.6" x2="206.93" y2="146.51" stroke="#ff0000" stroke-width="1.1"/>
<polygon points="203.5,147.2 206.99,144.26 207.85,148.57" fill="#ff0000"/>
<text x="37.6" y="57.3" font-size="9.5" fill="#000" text-anchor="start">CuO@NC-900</text>
<text x="37.6" y="110" font-size="9.5" fill="#000" text-anchor="start">Cu@NC-900</text>
<text x="37.6" y="160.4" font-size="9.5" fill="#000" text-anchor="start">Cu/CuO@NC-900</text>
<rect x="298" y="6.9" width="231" height="171.1" fill="none" stroke="#000" stroke-width="1.9"/>
<line x1="298" y1="178" x2="298" y2="182" stroke="#000" stroke-width="1.6"/>
<text x="298" y="191.6" font-size="9.4" fill="#000" text-anchor="middle">408</text>
<line x1="333.3" y1="178" x2="333.3" y2="182" stroke="#000" stroke-width="1.6"/>
<text x="333.3" y="191.6" font-size="9.4" fill="#000" text-anchor="middle">406</text>
<line x1="368.6" y1="178" x2="368.6" y2="182" stroke="#000" stroke-width="1.6"/>
<text x="368.6" y="191.6" font-size="9.4" fill="#000" text-anchor="middle">404</text>
<line x1="403.9" y1="178" x2="403.9" y2="182" stroke="#000" stroke-width="1.6"/>
<text x="403.9" y="191.6" font-size="9.4" fill="#000" text-anchor="middle">402</text>
<line x1="439.2" y1="178" x2="439.2" y2="182" stroke="#000" stroke-width="1.6"/>
<text x="439.2" y="191.6" font-size="9.4" fill="#000" text-anchor="middle">400</text>
<line x1="474.5" y1="178" x2="474.5" y2="182" stroke="#000" stroke-width="1.6"/>
<text x="474.5" y="191.6" font-size="9.4" fill="#000" text-anchor="middle">398</text>
<line x1="509.8" y1="178" x2="509.8" y2="182" stroke="#000" stroke-width="1.6"/>
<text x="509.8" y="191.6" font-size="9.4" fill="#000" text-anchor="middle">396</text>
<line x1="315.65" y1="178" x2="315.65" y2="180.8" stroke="#000" stroke-width="1.5"/>
<line x1="350.95" y1="178" x2="350.95" y2="180.8" stroke="#000" stroke-width="1.5"/>
<line x1="386.25" y1="178" x2="386.25" y2="180.8" stroke="#000" stroke-width="1.5"/>
<line x1="421.55" y1="178" x2="421.55" y2="180.8" stroke="#000" stroke-width="1.5"/>
<line x1="456.85" y1="178" x2="456.85" y2="180.8" stroke="#000" stroke-width="1.5"/>
<line x1="492.15" y1="178" x2="492.15" y2="180.8" stroke="#000" stroke-width="1.5"/>
<line x1="527.45" y1="178" x2="527.45" y2="180.8" stroke="#000" stroke-width="1.5"/>
<text x="413.5" y="207.2" font-size="13.1" fill="#000" text-anchor="middle">Binding energy (eV)</text>
<text x="282.3" y="95" font-size="13.6" fill="#000" text-anchor="middle" transform="rotate(-90 282.3 95)">Intensity (a.u.)</text>
<text x="525.5" y="19.6" font-size="9.3" fill="#000" text-anchor="end">N 1s</text>
<polyline points="384,53.8 385,53.8 386,53.8 387,53.88 388,53.96 389,54.04 390,54.12 391,54.2 392,54.28 393,54.35 394,54.43 395,54.51 396,54.59 397,54.67 398,54.75 399,54.83 400,54.91 401,54.99 402,55.07 403,55.15 404,55.23 405,55.31 406,55.39 407,55.46 408,55.54 409,55.62 410,55.7 411,55.78 412,55.86 413,55.94 414,56.02 415,56.1 416,56.18 417,56.26 418,56.34 419,56.42 420,56.5 421,56.57 422,56.65 423,56.73 424,56.81 425,56.89 426,56.97 427,57.05 428,57.13 429,57.21 430,57.29 431,57.37 432,57.45 433,57.53 434,57.61 435,57.68 436,57.76 437,57.84 438,57.92 439,58 440,58.08 441,58.16 442,58.24 443,58.32 444,58.4 445,58.48 446,58.56 447,58.64 448,58.72 449,58.79 450,58.87 451,58.95 452,59.03 453,59.11 454,59.19 455,59.27 456,59.35 457,59.43 458,59.51 459,59.59 460,59.67 461,59.75 462,59.83 463,59.9 464,59.98 465,60.06 466,60.14 467,60.22 468,60.3 469,60.38 470,60.46 471,60.54 472,60.62 473,60.7 474,60.78 475,60.86 476,60.94 477,61.01 478,61.09 479,61.17 480,61.25 481,61.33 482,61.41 483,61.49 484,61.57 485,61.65 486,61.73 487,61.81 488,61.89 489,61.97 490,62.05 491,62.12 492,62.2 493,62.28 494,62.36 495,62.44 496,62.52 497,62.6 498,62.6 499,62.6" fill="none" stroke="#1c1c96" stroke-width="1.7" stroke-linejoin="round" stroke-linecap="round"/>
<polyline points="384,53.57 385,53.48 386,53.36 387,53.29 388,53.18 389,53.02 390,52.82 391,52.55 392,52.23 393,51.85 394,51.41 395,50.92 396,50.39 397,49.84 398,49.27 399,48.72 400,48.2 401,47.73 402,47.34 403,47.05 404,46.88 405,46.82 406,46.9 407,47.11 408,47.45 409,47.9 410,48.45 411,49.07 412,49.75 413,50.46 414,51.19 415,51.9 416,52.59 417,53.23 418,53.83 419,54.37 420,54.85 421,55.27 422,55.64 423,55.96 424,56.23 425,56.46 426,56.65 427,56.82 428,56.97" fill="none" stroke="#8c8c10" stroke-width="1.2" stroke-linejoin="round" stroke-linecap="round"/>
<polyline points="395,54.35 396,54.36 397,54.33 398,54.27 399,54.15 400,53.97 401,53.71 402,53.35 403,52.88 404,52.27 405,51.5 406,50.57 407,49.45 408,48.14 409,46.64 410,44.96 411,43.13 412,41.17 413,39.12 414,37.05 415,35.01 416,33.07 417,31.3 418,29.77 419,28.55 420,27.68 421,27.21 422,27.16 423,27.54 424,28.33 425,29.5 426,31.02 427,32.81 428,34.81 429,36.96 430,39.18 431,41.41 432,43.58 433,45.66 434,47.59 435,49.36 436,50.94 437,52.33 438,53.53 439,54.56 440,55.42 441,56.13 442,56.71 443,57.19 444,57.57 445,57.88 446,58.14 447,58.34 448,58.51" fill="none" stroke="#ff0000" stroke-width="1.2" stroke-linejoin="round" stroke-linecap="round"/>
<polyline points="414,55.85 415,55.85 416,55.84 417,55.79 418,55.7 419,55.56 420,55.37 421,55.11 422,54.78 423,54.37 424,53.88 425,53.3 426,52.63 427,51.88 428,51.06 429,50.2 430,49.3 431,48.39 432,47.51 433,46.69 434,45.95 435,45.33 436,44.86 437,44.56 438,44.45 439,44.53 440,44.8 441,45.26 442,45.89 443,46.66 444,47.56 445,48.54 446,49.58 447,50.65 448,51.7 449,52.73 450,53.7 451,54.61 452,55.44 453,56.18 454,56.83 455,57.4 456,57.89 457,58.3 458,58.65 459,58.95 460,59.2 461,59.4 462,59.58 463,59.73" fill="none" stroke="#15907f" stroke-width="1.2" stroke-linejoin="round" stroke-linecap="round"/>
<polyline points="434,57.4 435,57.39 436,57.36 437,57.29 438,57.18 439,57.02 440,56.8 441,56.5 442,56.13 443,55.68 444,55.14 445,54.52 446,53.81 447,53.03 448,52.18 449,51.3 450,50.39 451,49.49 452,48.64 453,47.85 454,47.17 455,46.62 456,46.24 457,46.03 458,46.01 459,46.19 460,46.55 461,47.1 462,47.81 463,48.64 464,49.59 465,50.6 466,51.66 467,52.72 468,53.77 469,54.77 470,55.71 471,56.58 472,57.36 473,58.06 474,58.67 475,59.2 476,59.65 477,60.03 478,60.35 479,60.62 480,60.85 481,61.04 482,61.2" fill="none" stroke="#ff00ff" stroke-width="1.2" stroke-linejoin="round" stroke-linecap="round"/>
<polyline points="448,58.54 449,58.54 450,58.51 451,58.43 452,58.3 453,58.11 454,57.83 455,57.46 456,56.97 457,56.36 458,55.61 459,54.73 460,53.7 461,52.53 462,51.25 463,49.88 464,48.46 465,47.03 466,45.64 467,44.34 468,43.2 469,42.27 470,41.59 471,41.2 472,41.12 473,41.36 474,41.91 475,42.75 476,43.84 477,45.14 478,46.59 479,48.14 480,49.73 481,51.31 482,52.84 483,54.28 484,55.6 485,56.79 486,57.83 487,58.74 488,59.51 489,60.15 490,60.68 491,61.12 492,61.48 493,61.76 494,62 495,62.19 496,62.35" fill="none" stroke="#0000ff" stroke-width="1.2" stroke-linejoin="round" stroke-linecap="round"/>
<polyline points="389,53.76 390,54.3 391,52.5 392,53.16 393,51.54 394,49.58 395,50.9 396,50.56 397,49.11 398,49.06 399,48.56 400,46.48 401,45.13 402,45.43 403,44.59 404,43.6 405,43.9 406,43.63 407,40.71 408,40.66 409,39.74 410,38.31 411,37.31 412,34.63 413,34.19 414,33.87 415,31.29 416,28.58 417,28.35 418,27.76 419,25.98 420,24.4 421,25.84 422,23.15 423,24.85 424,24.79 425,24.39 426,27.44 427,27.71 428,27.51 429,30.34 430,30.68 431,30.6 432,32.89 433,34.89 434,36.29 435,36.85 436,37.67 437,38.92 438,39.12 439,41.15 440,40.98 441,41.83 442,42.73 443,41.93 444,42.81 445,45.32 446,44.64 447,44.37 448,45.1 449,44.41 450,45.01 451,43.97 452,44.52 453,42.47 454,44.63 455,42.47 456,40.97 457,41.63 458,40.92 459,40.82 460,39.08 461,39.9 462,42.25 463,37.3 464,38.25 465,37.2 466,37.27 467,35.18 468,35.61 469,37.06 470,36.8 471,38.7 472,37.22 473,38.87 474,42.42 475,40.4 476,41.74 477,44.12 478,45.81 479,48.35 480,49.44 481,50.34 482,52.82 483,56.51 484,56.64 485,54.21 486,57.66 487,57.92 488,60.05 489,59.98 490,62.42 491,61.95 492,62.27 493,61.93 494,61.96 495,62.49 496,63.51 497,62.97 498,62.27 499,63.82" fill="none" stroke="#000" stroke-width="1.3" stroke-linejoin="round" stroke-linecap="round"/>
<polyline points="299,60.74 300,61.76 301,62.08 302,60.99 303,59.5 304,59.18 305,59.69 306,60.22 307,59.76 308,59.18 309,59.49 310,60.23 311,60.35 312,59.55 313,59.17 314,59.44 315,59.92 316,59.6 317,59.14 318,58.88 319,57.99 320,57.06 321,57.11 322,57.06 323,56.13 324,55.67 325,56.11 326,56.01 327,55.75 328,56.75 329,58.17 330,58.24 331,57.5 332,57.66 333,58.26 334,58.33 335,58.41 336,58.64 337,58.02 338,56.99 339,56.89 340,57.8 341,57.92 342,56.74 343,55.44 344,54.56 345,54.48 346,55.29 347,56.34 348,56.97 349,57.56 350,58.27 351,58.25 352,57.82 353,57.12 354,56.21 355,56.05 356,55.92 357,55.31 358,54.8 359,55.52 360,56.13 361,55.84 362,55.59 363,55.3 364,55.19 365,55.2 366,55.55 367,55.56 368,55.46 369,55.92 370,56.15 371,55.88 372,55.89 373,56.93 374,56.91 375,55.56 376,54.76 377,54.98 378,54.64 379,53.98 380,53.91 381,53.93 382,54.32 383,53.86 384,53.72 385,53.55 386,53.36 387,53.29 388,53.17 389,53.01 390,52.8 391,52.52 392,52.18 393,51.78 394,51.3 395,50.76 396,50.16 397,49.5 398,48.79 399,48.04 400,47.26 401,46.46 402,45.63 403,44.78 404,43.91 405,43.02 406,42.08 407,41.09 408,40.03 409,38.89 410,37.67 411,36.36 412,34.98 413,33.53 414,32.04 415,30.56 416,29.13 417,27.8 418,26.63 419,25.65 420,24.91 421,24.45 422,24.28 423,24.4 424,24.81 425,25.47 426,26.35 427,27.4 428,28.56 429,29.8 430,31.07 431,32.31 432,33.51 433,34.65 434,35.71 435,36.7 436,37.63 437,38.49 438,39.31 439,40.09 440,40.84 441,41.56 442,42.24 443,42.88 444,43.45 445,43.94 446,44.34 447,44.63 448,44.8 449,44.84 450,44.76 451,44.57 452,44.27 453,43.89 454,43.43 455,42.93 456,42.39 457,41.83 458,41.26 459,40.68 460,40.11 461,39.54 462,38.99 463,38.45 464,37.94 465,37.48 466,37.1 467,36.81 468,36.65 469,36.65 470,36.83 471,37.23 472,37.86 473,38.72 474,39.8 475,41.09 476,42.55 477,44.15 478,45.85 479,47.59 480,49.33 481,51.02 482,52.63 483,54.13 484,55.5 485,56.72 486,57.79 487,58.71 488,59.49 489,60.14 490,60.68 491,61.12 492,61.47 493,61.76 494,62 495,62.19 496,62.35 497,62.49 498,62.59 499,62.68 500,62.28 501,62.42 502,63.64 503,64.4 504,64.35 505,64.34 506,64.31 507,63.94 508,63.75 509,63.56 510,63.39 511,63.39 512,63.05 513,62.68 514,63.48 515,65.41 516,65.96 517,65.09 518,64.25 519,63.95 520,63.84 521,63.07 522,62.32 523,62.1 524,62.5 525,62.44 526,61.67 527,61.37 528,61.94" fill="none" stroke="#b8141c" stroke-width="1.6" stroke-linejoin="round" stroke-linecap="round"/>
<polyline points="384,109.5 385,109.5 386,109.5 387,109.55 388,109.61 389,109.66 390,109.72 391,109.77 392,109.82 393,109.88 394,109.93 395,109.99 396,110.04 397,110.09 398,110.15 399,110.2 400,110.26 401,110.31 402,110.36 403,110.42 404,110.47 405,110.53 406,110.58 407,110.64 408,110.69 409,110.74 410,110.8 411,110.85 412,110.91 413,110.96 414,111.01 415,111.07 416,111.12 417,111.18 418,111.23 419,111.28 420,111.34 421,111.39 422,111.45 423,111.5 424,111.55 425,111.61 426,111.66 427,111.72 428,111.77 429,111.82 430,111.88 431,111.93 432,111.99 433,112.04 434,112.09 435,112.15 436,112.2 437,112.26 438,112.31 439,112.36 440,112.42 441,112.47 442,112.53 443,112.58 444,112.64 445,112.69 446,112.74 447,112.8 448,112.85 449,112.91 450,112.96 451,113.01 452,113.07 453,113.12 454,113.18 455,113.23 456,113.28 457,113.34 458,113.39 459,113.45 460,113.5 461,113.55 462,113.61 463,113.66 464,113.72 465,113.77 466,113.82 467,113.88 468,113.93 469,113.99 470,114.04 471,114.09 472,114.15 473,114.2 474,114.26 475,114.31 476,114.36 477,114.42 478,114.47 479,114.53 480,114.58 481,114.64 482,114.69 483,114.74 484,114.8 485,114.85 486,114.91 487,114.96 488,115.01 489,115.07 490,115.12 491,115.18 492,115.23 493,115.28 494,115.34 495,115.39 496,115.45 497,115.5 498,115.5 499,115.5" fill="none" stroke="#1c1c96" stroke-width="1.7" stroke-linejoin="round" stroke-linecap="round"/>
<polyline points="384,109.22 385,109.11 386,108.98 387,108.87 388,108.72 389,108.52 390,108.26 391,107.94 392,107.56 393,107.1 394,106.57 395,105.96 396,105.28 397,104.54 398,103.75 399,102.92 400,102.07 401,101.22 402,100.39 403,99.61 404,98.9 405,98.3 406,97.81 407,97.46 408,97.27 409,97.24 410,97.38 411,97.68 412,98.13 413,98.73 414,99.44 415,100.26 416,101.15 417,102.08 418,103.04 419,104 420,104.94 421,105.84 422,106.69 423,107.47 424,108.19 425,108.83 426,109.39 427,109.89 428,110.32 429,110.68 430,110.99 431,111.25 432,111.47 433,111.65 434,111.81 435,111.94" fill="none" stroke="#8c8c10" stroke-width="1.2" stroke-linejoin="round" stroke-linecap="round"/>
<polyline points="401,110.1 402,110.05 403,109.97 404,109.83 405,109.63 406,109.35 407,108.97 408,108.46 409,107.82 410,107.01 411,106.02 412,104.85 413,103.48 414,101.92 415,100.19 416,98.3 417,96.3 418,94.25 419,92.19 420,90.2 421,88.36 422,86.74 423,85.4 424,84.42 425,83.83 426,83.66 427,83.93 428,84.63 429,85.73 430,87.17 431,88.9 432,90.85 433,92.95 434,95.11 435,97.28 436,99.38 437,101.38 438,103.22 439,104.89 440,106.36 441,107.65 442,108.74 443,109.65 444,110.41 445,111.02 446,111.51 447,111.9 448,112.21 449,112.46 450,112.65 451,112.8" fill="none" stroke="#ff0000" stroke-width="1.2" stroke-linejoin="round" stroke-linecap="round"/>
<polyline points="422,111.26 423,111.23 424,111.16 425,111.06 426,110.91 427,110.7 428,110.43 429,110.1 430,109.7 431,109.23 432,108.7 433,108.14 434,107.55 435,106.95 436,106.39 437,105.89 438,105.47 439,105.16 440,105 441,104.97 442,105.1 443,105.38 444,105.79 445,106.32 446,106.93 447,107.6 448,108.3 449,109 450,109.68 451,110.31 452,110.89 453,111.4 454,111.84 455,112.21 456,112.53 457,112.79 458,113 459,113.17 460,113.31" fill="none" stroke="#15907f" stroke-width="1.2" stroke-linejoin="round" stroke-linecap="round"/>
<polyline points="442,112.36 443,112.35 444,112.32 445,112.26 446,112.17 447,112.04 448,111.88 449,111.66 450,111.4 451,111.09 452,110.73 453,110.32 454,109.88 455,109.41 456,108.92 457,108.43 458,107.96 459,107.52 460,107.15 461,106.84 462,106.63 463,106.52 464,106.52 465,106.63 466,106.85 467,107.17 468,107.58 469,108.06 470,108.61 471,109.18 472,109.78 473,110.38 474,110.96 475,111.51 476,112.03 477,112.5 478,112.92 479,113.29 480,113.61 481,113.88 482,114.12 483,114.31 484,114.48 485,114.62 486,114.74" fill="none" stroke="#ff00ff" stroke-width="1.2" stroke-linejoin="round" stroke-linecap="round"/>
<polyline points="453,112.96 454,112.95 455,112.91 456,112.84 457,112.74 458,112.6 459,112.4 460,112.15 461,111.83 462,111.45 463,110.99 464,110.47 465,109.88 466,109.25 467,108.57 468,107.87 469,107.17 470,106.49 471,105.87 472,105.32 473,104.88 474,104.56 475,104.39 476,104.36 477,104.5 478,104.78 479,105.21 480,105.76 481,106.41 482,107.14 483,107.92 484,108.73 485,109.54 486,110.33 487,111.07 488,111.77 489,112.4 490,112.96 491,113.45 492,113.88 493,114.24 494,114.54 495,114.8 496,115.01 497,115.18 498,115.27 499,115.34" fill="none" stroke="#0000ff" stroke-width="1.2" stroke-linejoin="round" stroke-linecap="round"/>
<polyline points="389,110.26 390,107.07 391,108.72 392,108.47 393,107.61 394,106.32 395,105.83 396,104.95 397,105.21 398,101.59 399,102.37 400,102.06 401,100.48 402,98.44 403,98.94 404,97.59 405,98.12 406,97.84 407,95.86 408,93.3 409,94.14 410,92.76 411,93.47 412,93.6 413,91.53 414,92.18 415,90.73 416,88.94 417,86.42 418,86.21 419,83.65 420,84.76 421,82.9 422,83.14 423,81.48 424,79.03 425,81.2 426,81.61 427,82.72 428,81.1 429,82.16 430,84.29 431,84.7 432,85.94 433,87.8 434,92.73 435,91.42 436,92.6 437,94.58 438,96.37 439,98.84 440,99.77 441,100.81 442,101.26 443,102.44 444,102.76 445,102.95 446,107.04 447,105.62 448,107.67 449,107.08 450,107.76 451,108.05 452,107.14 453,108.36 454,108.68 455,108.86 456,108.23 457,108.27 458,107.11 459,106.27 460,103.91 461,104.59 462,105.86 463,103.98 464,104.03 465,102.61 466,101.72 467,103.77 468,101.91 469,102.66 470,101.61 471,100.77 472,99.01 473,101.21 474,99.93 475,99.67 476,103.22 477,103.3 478,103.88 479,104.08 480,104.82 481,106.11 482,106.78 483,107.63 484,109.15 485,107.17 486,111.04 487,110.46 488,112.52 489,113.47 490,112.23 491,114.2 492,114.62 493,113.64 494,114.1 495,114.92 496,113.02 497,114.8 498,115.43 499,114.91" fill="none" stroke="#000" stroke-width="1.3" stroke-linejoin="round" stroke-linecap="round"/>
<polyline points="299,113.73 300,114.45 301,115.03 302,115.41 303,114.98 304,113.52 305,111.66 306,110.94 307,111.94 308,113.22 309,113.87 310,112.94 311,111.68 312,111.15 313,112.05 314,113.79 315,114.9 316,114.76 317,113.85 318,113.56 319,113.39 320,112.73 321,111.87 322,111.48 323,111.29 324,111.1 325,110.99 326,111.37 327,111.47 328,111.41 329,111.43 330,111.38 331,110.76 332,110.02 333,110.31 334,111.06 335,111.47 336,111.37 337,112.03 338,113.19 339,113.28 340,112.4 341,111.91 342,112.15 343,112.36 344,112.19 345,111.02 346,109.42 347,109.37 348,110.52 349,111.32 350,111.7 351,111.91 352,111.97 353,112.48 354,113.51 355,114.01 356,113.69 357,113.89 358,114.04 359,113.14 360,111.84 361,110.86 362,109.75 363,108.35 364,108.24 365,109.61 366,110.23 367,108.9 368,107.48 369,107.78 370,109.09 371,110.09 372,111.01 373,111.73 374,111.71 375,110.73 376,109.18 377,108.27 378,108.87 379,110.35 380,111.16 381,111.24 382,111.24 383,109.42 384,109.3 385,109.16 386,108.98 387,108.87 388,108.72 389,108.52 390,108.26 391,107.94 392,107.55 393,107.09 394,106.56 395,105.94 396,105.26 397,104.51 398,103.69 399,102.83 400,101.93 401,101 402,100.08 403,99.16 404,98.27 405,97.4 406,96.58 407,95.8 408,95.04 409,94.31 410,93.59 411,92.85 412,92.08 413,91.25 414,90.35 415,89.37 416,88.31 417,87.19 418,86.02 419,84.85 420,83.72 421,82.68 422,81.79 423,81.1 424,80.66 425,80.5 426,80.64 427,81.09 428,81.84 429,82.86 430,84.1 431,85.51 432,87.05 433,88.65 434,90.27 435,91.87 436,93.41 437,94.88 438,96.27 439,97.58 440,98.82 441,100 442,101.13 443,102.21 444,103.24 445,104.21 446,105.12 447,105.94 448,106.67 449,107.28 450,107.76 451,108.1 452,108.29 453,108.34 454,108.25 455,108.03 456,107.7 457,107.27 458,106.76 459,106.2 460,105.6 461,104.99 462,104.38 463,103.79 464,103.24 465,102.72 466,102.25 467,101.85 468,101.51 469,101.24 470,101.06 471,100.96 472,100.96 473,101.06 474,101.27 475,101.59 476,102.03 477,102.57 478,103.22 479,103.96 480,104.78 481,105.66 482,106.57 483,107.49 484,108.42 485,109.31 486,110.16 487,110.96 488,111.69 489,112.34 490,112.92 491,113.43 492,113.86 493,114.23 494,114.54 495,114.79 496,115 497,115.18 498,115.25 499,115.3 500,113.18 501,114.54 502,115.36 503,115.16 504,115.15 505,115.8 506,115.82 507,115.21 508,114.61 509,114.84 510,115.28 511,115.19 512,115.15 513,115.88 514,116.84 515,116.63 516,115.53 517,114.99 518,115.32 519,116.26 520,116.88 521,116.51 522,115.11 523,114 524,113.71 525,114.42 526,115.74 527,116.03 528,115.17" fill="none" stroke="#b8141c" stroke-width="1.6" stroke-linejoin="round" stroke-linecap="round"/>
<polyline points="384,160.8 385,160.8 386,160.8 387,160.85 388,160.9 389,160.95 390,161 391,161.05 392,161.1 393,161.15 394,161.2 395,161.25 396,161.3 397,161.35 398,161.41 399,161.46 400,161.51 401,161.56 402,161.61 403,161.66 404,161.71 405,161.76 406,161.81 407,161.86 408,161.91 409,161.96 410,162.01 411,162.06 412,162.11 413,162.16 414,162.21 415,162.26 416,162.31 417,162.36 418,162.41 419,162.46 420,162.52 421,162.57 422,162.62 423,162.67 424,162.72 425,162.77 426,162.82 427,162.87 428,162.92 429,162.97 430,163.02 431,163.07 432,163.12 433,163.17 434,163.22 435,163.27 436,163.32 437,163.37 438,163.42 439,163.47 440,163.52 441,163.57 442,163.63 443,163.68 444,163.73 445,163.78 446,163.83 447,163.88 448,163.93 449,163.98 450,164.03 451,164.08 452,164.13 453,164.18 454,164.23 455,164.28 456,164.33 457,164.38 458,164.43 459,164.48 460,164.53 461,164.58 462,164.63 463,164.68 464,164.74 465,164.79 466,164.84 467,164.89 468,164.94 469,164.99 470,165.04 471,165.09 472,165.14 473,165.19 474,165.24 475,165.29 476,165.34 477,165.39 478,165.44 479,165.49 480,165.54 481,165.59 482,165.64 483,165.69 484,165.74 485,165.79 486,165.85 487,165.9 488,165.95 489,166 490,166.05 491,166.1 492,166.15 493,166.2 494,166.25 495,166.3 496,166.35 497,166.4 498,166.4 499,166.4" fill="none" stroke="#1c1c96" stroke-width="1.7" stroke-linejoin="round" stroke-linecap="round"/>
<polyline points="389,160.79 390,160.78 391,160.74 392,160.69 393,160.6 394,160.47 395,160.31 396,160.1 397,159.84 398,159.54 399,159.18 400,158.79 401,158.35 402,157.89 403,157.41 404,156.93 405,156.47 406,156.05 407,155.68 408,155.39 409,155.18 410,155.07 411,155.06 412,155.17 413,155.38 414,155.69 415,156.09 416,156.56 417,157.08 418,157.64 419,158.22 420,158.8 421,159.36 422,159.9 423,160.39 424,160.85 425,161.25 426,161.61 427,161.92 428,162.19 429,162.41 430,162.6 431,162.76 432,162.9 433,163.01" fill="none" stroke="#8c8c10" stroke-width="1.2" stroke-linejoin="round" stroke-linecap="round"/>
<polyline points="401,161.36 402,161.32 403,161.24 404,161.12 405,160.94 406,160.69 407,160.34 408,159.89 409,159.31 410,158.6 411,157.73 412,156.69 413,155.49 414,154.13 415,152.61 416,150.98 417,149.26 418,147.49 419,145.74 420,144.06 421,142.52 422,141.18 423,140.09 424,139.32 425,138.89 426,138.83 427,139.14 428,139.81 429,140.81 430,142.11 431,143.64 432,145.35 433,147.16 434,149.03 435,150.88 436,152.68 437,154.37 438,155.92 439,157.32 440,158.56 441,159.63 442,160.54 443,161.3 444,161.92 445,162.43 446,162.84 447,163.16 448,163.42 449,163.62 450,163.78 451,163.91" fill="none" stroke="#ff0000" stroke-width="1.2" stroke-linejoin="round" stroke-linecap="round"/>
<polyline points="423,162.46 424,162.42 425,162.34 426,162.23 427,162.07 428,161.86 429,161.59 430,161.26 431,160.86 432,160.41 433,159.92 434,159.39 435,158.85 436,158.33 437,157.84 438,157.42 439,157.09 440,156.88 441,156.79 442,156.84 443,157.03 444,157.35 445,157.78 446,158.3 447,158.88 448,159.51 449,160.15 450,160.78 451,161.37 452,161.92 453,162.42 454,162.85 455,163.22 456,163.54 457,163.8 458,164.01 459,164.18 460,164.33" fill="none" stroke="#15907f" stroke-width="1.2" stroke-linejoin="round" stroke-linecap="round"/>
<polyline points="441,163.42 442,163.39 443,163.33 444,163.23 445,163.08 446,162.87 447,162.58 448,162.2 449,161.73 450,161.16 451,160.5 452,159.75 453,158.92 454,158.05 455,157.17 456,156.31 457,155.52 458,154.83 459,154.3 460,153.95 461,153.8 462,153.87 463,154.16 464,154.66 465,155.32 466,156.13 467,157.04 468,158.01 469,159 470,159.96 471,160.87 472,161.71 473,162.45 474,163.1 475,163.65 476,164.11 477,164.49 478,164.79 479,165.03 480,165.23 481,165.38" fill="none" stroke="#ff00ff" stroke-width="1.2" stroke-linejoin="round" stroke-linecap="round"/>
<polyline points="451,163.9 452,163.86 453,163.78 454,163.66 455,163.47 456,163.21 457,162.86 458,162.42 459,161.86 460,161.19 461,160.4 462,159.52 463,158.55 464,157.53 465,156.49 466,155.48 467,154.55 468,153.74 469,153.11 470,152.69 471,152.51 472,152.58 473,152.91 474,153.48 475,154.25 476,155.19 477,156.24 478,157.36 479,158.5 480,159.62 481,160.67 482,161.64 483,162.5 484,163.25 485,163.89 486,164.41 487,164.84 488,165.19 489,165.46 490,165.68 491,165.85 492,165.98" fill="none" stroke="#0000ff" stroke-width="1.2" stroke-linejoin="round" stroke-linecap="round"/>
<polyline points="389,162.33 390,161.56 391,159.88 392,161.09 393,161.17 394,160.52 395,160.2 396,160.2 397,158.45 398,159.59 399,158.23 400,159.01 401,158.54 402,156.8 403,157.55 404,156.67 405,155.62 406,155.58 407,153.88 408,153.11 409,152.6 410,151.6 411,151.75 412,147.61 413,148.42 414,145.78 415,145.96 416,145.42 417,143.94 418,143.54 419,141.71 420,137.78 421,138.18 422,139.68 423,138.98 424,137.2 425,135.51 426,138.94 427,135.46 428,138.24 429,138.78 430,140.09 431,140.01 432,141.99 433,144.65 434,144.57 435,145.06 436,147.53 437,148.78 438,149.66 439,150.07 440,152.21 441,152.49 442,152.38 443,154.42 444,154.94 445,155.78 446,154.71 447,156.06 448,157.56 449,158.23 450,157.78 451,157.52 452,157.75 453,157.52 454,157.59 455,155.65 456,153.82 457,153.79 458,150.59 459,151.39 460,149.96 461,149.43 462,149.08 463,147.99 464,146.08 465,146.66 466,146.02 467,146.66 468,147.12 469,146.23 470,148.26 471,149.45 472,148.9 473,150.83 474,150 475,152.12 476,154.82 477,153.75 478,156.25 479,157.23 480,160.33 481,161.49 482,160.93 483,162.52 484,160.84 485,164.61 486,164.7 487,166.02 488,163.03 489,165.77 490,165.35 491,163.49 492,165.35 493,166.01 494,166.9 495,166.43 496,165.85 497,166.78 498,166.34 499,165.92" fill="none" stroke="#000" stroke-width="1.3" stroke-linejoin="round" stroke-linecap="round"/>
<polyline points="299,165.97 300,164.78 301,164.34 302,165.61 303,166.98 304,167.39 305,167.56 306,166.68 307,165.57 308,165.28 309,165.54 310,165.13 311,164.8 312,165.36 313,165.71 314,165.03 315,163.55 316,163.22 317,164.24 318,165.56 319,166.14 320,166.49 321,167.36 322,167.48 323,167.03 324,165.9 325,165.14 326,164.33 327,163.61 328,163.84 329,164.64 330,164.93 331,163.77 332,162.72 333,162.97 334,164.26 335,165 336,163.99 337,162.77 338,162.32 339,162.07 340,161.62 341,161.94 342,163.1 343,163.87 344,164.04 345,163.49 346,163 347,163.41 348,164.25 349,164.39 350,163.73 351,163.49 352,163.88 353,164.29 354,164.34 355,164.35 356,164.29 357,163.46 358,162.12 359,161.58 360,161.89 361,161.71 362,161.53 363,162.32 364,163.56 365,162.7 366,160.19 367,158.6 368,158.68 369,159.32 370,160.58 371,162.26 372,162.42 373,161.54 374,161.34 375,161.82 376,161.51 377,160.84 378,160.86 379,160.61 380,159.3 381,158.66 382,160.18 383,160.95 384,160.89 385,160.82 386,160.75 387,160.77 388,160.79 389,160.79 390,160.78 391,160.74 392,160.68 393,160.59 394,160.46 395,160.29 396,160.07 397,159.8 398,159.48 399,159.1 400,158.65 401,158.16 402,157.6 403,157 404,156.35 405,155.66 406,154.93 407,154.16 408,153.37 409,152.53 410,151.65 411,150.73 412,149.74 413,148.7 414,147.6 415,146.43 416,145.21 417,143.96 418,142.7 419,141.46 420,140.28 421,139.22 422,138.32 423,137.61 424,137.15 425,136.95 426,137.03 427,137.39 428,138.02 429,138.88 430,139.93 431,141.12 432,142.41 433,143.75 434,145.08 435,146.38 436,147.61 437,148.77 438,149.86 439,150.86 440,151.8 441,152.68 442,153.52 443,154.3 444,155.04 445,155.72 446,156.33 447,156.84 448,157.22 449,157.47 450,157.54 451,157.44 452,157.16 453,156.69 454,156.05 455,155.27 456,154.38 457,153.4 458,152.39 459,151.37 460,150.39 461,149.48 462,148.67 463,147.97 464,147.41 465,147 466,146.76 467,146.69 468,146.81 469,147.11 470,147.61 471,148.29 472,149.15 473,150.18 474,151.34 475,152.61 476,153.96 477,155.34 478,156.71 479,158.05 480,159.3 481,160.46 482,161.5 483,162.41 484,163.19 485,163.85 486,164.39 487,164.83 488,165.18 489,165.46 490,165.68 491,165.85 492,165.98 493,166.09 494,166.18 495,166.26 496,166.32 497,166.38 498,166.45 499,166.51 500,165.83 501,164.9 502,165.18 503,165.84 504,166.06 505,165.84 506,166.51 507,166.9 508,166.31 509,165.47 510,165.78 511,166.89 512,167.41 513,167.86 514,168.1 515,168.52 516,168.16 517,167.61 518,167.49 519,167.89 520,168.73 521,169.7 522,170.91 523,170.22 524,167.76 525,166.34 526,166.82 527,167.54 528,167.39" fill="none" stroke="#b8141c" stroke-width="1.6" stroke-linejoin="round" stroke-linecap="round"/>
<text x="301" y="54.3" font-size="9.5" fill="#000" text-anchor="start">CuO@NC-900</text>
<text x="301" y="106.6" font-size="9.5" fill="#000" text-anchor="start">Cu@NC-900</text>
<text x="300.5" y="159.7" font-size="9.5" fill="#000" text-anchor="start">Cu/CuO@NC-900</text>
<text x="375.8" y="17.6" font-size="8.5" fill="#ff0000" text-anchor="start">Graphitic N</text>
<text x="384.6" y="28" font-size="8.5" fill="#ff0000" text-anchor="start">401.00</text>
<text x="423.7" y="20" font-size="8.5" fill="#15907f" text-anchor="start">Pyrrolic N</text>
<text x="432.2" y="30.4" font-size="8.5" fill="#15907f" text-anchor="start">400.14</text>
<text x="463.1" y="24.8" font-size="8.5" fill="#ff00ff" text-anchor="start">Cu-N</text>
<text x="460.7" y="35.5" font-size="8.5" fill="#ff00ff" text-anchor="start">399.02</text>
<text x="484.7" y="35.8" font-size="8.5" fill="#0000ff" text-anchor="start">Pyridinic N</text>
<text x="492.8" y="46.7" font-size="8.5" fill="#0000ff" text-anchor="start">398.20</text>
<text x="353" y="39" font-size="8.5" fill="#8c8c10" text-anchor="start">Oxidized N</text>
<text x="361.6" y="49.1" font-size="8.5" fill="#8c8c10" text-anchor="start">401.94</text>
<text x="380.8" y="70" font-size="8.5" fill="#ff0000" text-anchor="start">Graphitic N</text>
<text x="390" y="80" font-size="8.5" fill="#ff0000" text-anchor="start">400.82</text>
<text x="426.5" y="75.6" font-size="8.5" fill="#15907f" text-anchor="start">Pyrrolic N</text>
<text x="435.9" y="86.4" font-size="8.5" fill="#15907f" text-anchor="start">399.94</text>
<text x="460.7" y="89.4" font-size="8.5" fill="#ff00ff" text-anchor="start">Cu-N</text>
<text x="459" y="101" font-size="8.5" fill="#ff00ff" text-anchor="start">398.64</text>
<text x="484.7" y="97.8" font-size="8.5" fill="#0000ff" text-anchor="start">Pyridinic N</text>
<text x="491.6" y="107.8" font-size="8.5" fill="#0000ff" text-anchor="start">398.00</text>
<text x="356.7" y="90" font-size="8.5" fill="#8c8c10" text-anchor="start">Oxidized N</text>
<text x="365.8" y="100.8" font-size="8.5" fill="#8c8c10" text-anchor="start">401.76</text>
<text x="387.9" y="124.6" font-size="8.5" fill="#ff0000" text-anchor="start">Graphitic N</text>
<text x="396.9" y="135.3" font-size="8.5" fill="#ff0000" text-anchor="start">400.82</text>
<text x="435.2" y="127.2" font-size="8.5" fill="#15907f" text-anchor="start">Pyrrolic N</text>
<text x="444" y="138" font-size="8.5" fill="#15907f" text-anchor="start">400.04</text>
<text x="476.9" y="129.8" font-size="8.5" fill="#ff00ff" text-anchor="start">Cu-N</text>
<text x="475.3" y="140.5" font-size="8.5" fill="#ff00ff" text-anchor="start">398.96</text>
<text x="482.6" y="151.6" font-size="8.5" fill="#0000ff" text-anchor="start">Pyridinic N</text>
<text x="491.2" y="161.8" font-size="8.5" fill="#0000ff" text-anchor="start">398.18</text>
<text x="355.8" y="141.1" font-size="8.5" fill="#8c8c10" text-anchor="start">Oxidized N</text>
<text x="365.8" y="151.6" font-size="8.5" fill="#8c8c10" text-anchor="start">401.72</text>
<line x1="406.6" y1="29.1" x2="411.98" y2="32.67" stroke="#ff0000" stroke-width="1.0"/>
<polygon points="414.9,34.6 410.35,34.22 412.78,30.56" fill="#ff0000"/>
<line x1="444.4" y1="33.5" x2="442.4" y2="40.24" stroke="#15907f" stroke-width="1.0"/>
<polygon points="441.4,43.6 440.43,39.14 444.65,40.39" fill="#15907f"/>
<line x1="463.7" y1="35.5" x2="462.37" y2="42.27" stroke="#ff00ff" stroke-width="1.0"/>
<polygon points="461.7,45.7 460.31,41.35 464.63,42.2" fill="#ff00ff"/>
<line x1="486" y1="39.6" x2="476.71" y2="41.8" stroke="#0000ff" stroke-width="1.0"/>
<polygon points="473.3,42.6 476.69,39.54 477.7,43.82" fill="#0000ff"/>
<line x1="389.9" y1="43.6" x2="398.16" y2="45.15" stroke="#8c8c10" stroke-width="1.0"/>
<polygon points="401.6,45.8 397.26,47.22 398.08,42.9" fill="#8c8c10"/>
<line x1="404.9" y1="82.5" x2="414.15" y2="86.2" stroke="#ff0000" stroke-width="1.0"/>
<polygon points="417.4,87.5 412.87,88.06 414.5,83.97" fill="#ff0000"/>
<line x1="445.4" y1="90.5" x2="443.24" y2="99.3" stroke="#15907f" stroke-width="1.0"/>
<polygon points="442.4,102.7 441.22,98.29 445.49,99.34" fill="#15907f"/>
<line x1="467.8" y1="100.6" x2="467.33" y2="102.32" stroke="#ff00ff" stroke-width="1.0"/>
<polygon points="466.4,105.7 465.34,101.26 469.58,102.43" fill="#ff00ff"/>
<line x1="491.2" y1="103.7" x2="477.38" y2="105.3" stroke="#0000ff" stroke-width="1.0"/>
<polygon points="473.9,105.7 477.62,103.06 478.13,107.43" fill="#0000ff"/>
<line x1="387.4" y1="97.4" x2="395.26" y2="101.87" stroke="#8c8c10" stroke-width="1.0"/>
<polygon points="398.3,103.6 393.74,103.53 395.91,99.71" fill="#8c8c10"/>
<line x1="409.9" y1="136.6" x2="416.93" y2="140.96" stroke="#ff0000" stroke-width="1.0"/>
<polygon points="419.9,142.8 415.34,142.56 417.66,138.82" fill="#ff0000"/>
<line x1="446.4" y1="140.5" x2="442.48" y2="151.41" stroke="#15907f" stroke-width="1.0"/>
<polygon points="441.3,154.7 440.58,150.19 444.72,151.68" fill="#15907f"/>
<line x1="474.9" y1="138.4" x2="465.95" y2="149.02" stroke="#ff00ff" stroke-width="1.0"/>
<polygon points="463.7,151.7 464.59,147.22 467.96,150.06" fill="#ff00ff"/>
<line x1="486" y1="155.7" x2="480.31" y2="157.66" stroke="#0000ff" stroke-width="1.0"/>
<polygon points="477,158.8 480.07,155.42 481.5,159.58" fill="#0000ff"/>
<line x1="389.9" y1="151.6" x2="398.26" y2="154.24" stroke="#8c8c10" stroke-width="1.0"/>
<polygon points="401.6,155.3 397.12,156.19 398.45,152" fill="#8c8c10"/>
<rect x="34.7" y="211.1" width="230.5" height="171.8" fill="none" stroke="#000" stroke-width="1.9"/>
<line x1="34.7" y1="382.9" x2="34.7" y2="386.9" stroke="#000" stroke-width="1.6"/>
<text x="34.7" y="397.3" font-size="9.4" fill="#000" text-anchor="middle">540</text>
<line x1="67.62" y1="382.9" x2="67.62" y2="386.9" stroke="#000" stroke-width="1.6"/>
<text x="67.62" y="397.3" font-size="9.4" fill="#000" text-anchor="middle">538</text>
<line x1="100.54" y1="382.9" x2="100.54" y2="386.9" stroke="#000" stroke-width="1.6"/>
<text x="100.54" y="397.3" font-size="9.4" fill="#000" text-anchor="middle">536</text>
<line x1="133.46" y1="382.9" x2="133.46" y2="386.9" stroke="#000" stroke-width="1.6"/>
<text x="133.46" y="397.3" font-size="9.4" fill="#000" text-anchor="middle">534</text>
<line x1="166.38" y1="382.9" x2="166.38" y2="386.9" stroke="#000" stroke-width="1.6"/>
<text x="166.38" y="397.3" font-size="9.4" fill="#000" text-anchor="middle">532</text>
<line x1="199.3" y1="382.9" x2="199.3" y2="386.9" stroke="#000" stroke-width="1.6"/>
<text x="199.3" y="397.3" font-size="9.4" fill="#000" text-anchor="middle">530</text>
<line x1="232.22" y1="382.9" x2="232.22" y2="386.9" stroke="#000" stroke-width="1.6"/>
<text x="232.22" y="397.3" font-size="9.4" fill="#000" text-anchor="middle">528</text>
<line x1="265.14" y1="382.9" x2="265.14" y2="386.9" stroke="#000" stroke-width="1.6"/>
<text x="265.14" y="397.3" font-size="9.4" fill="#000" text-anchor="middle">526</text>
<line x1="51.16" y1="382.9" x2="51.16" y2="385.7" stroke="#000" stroke-width="1.5"/>
<line x1="84.08" y1="382.9" x2="84.08" y2="385.7" stroke="#000" stroke-width="1.5"/>
<line x1="117" y1="382.9" x2="117" y2="385.7" stroke="#000" stroke-width="1.5"/>
<line x1="149.92" y1="382.9" x2="149.92" y2="385.7" stroke="#000" stroke-width="1.5"/>
<line x1="182.84" y1="382.9" x2="182.84" y2="385.7" stroke="#000" stroke-width="1.5"/>
<line x1="215.76" y1="382.9" x2="215.76" y2="385.7" stroke="#000" stroke-width="1.5"/>
<line x1="248.68" y1="382.9" x2="248.68" y2="385.7" stroke="#000" stroke-width="1.5"/>
<text x="157.5" y="412.7" font-size="13.1" fill="#000" text-anchor="middle">Binding energy (eV)</text>
<text x="18.3" y="306" font-size="13.6" fill="#000" text-anchor="middle" transform="rotate(-90 18.3 306)">Intensity (a.u.)</text>
<text x="262.2" y="223.9" font-size="9.3" fill="#000" text-anchor="end">O 1s</text>
<polyline points="103.7,261.08 104.5,261.06 105.3,261.03 106.1,261 106.9,260.95 107.7,260.9 108.5,260.84 109.3,260.76 110.1,260.67 110.9,260.56 111.7,260.44 112.5,260.3 113.3,260.15 114.1,259.97 114.9,259.77 115.7,259.55 116.5,259.31 117.3,259.04 118.1,258.75 118.9,258.43 119.7,258.08 120.5,257.71 121.3,257.31 122.1,256.88 122.9,256.44 123.7,255.96 124.5,255.47 125.3,254.96 126.1,254.43 126.9,253.88 127.7,253.33 128.5,252.77 129.3,252.21 130.1,251.65 130.9,251.09 131.7,250.55 132.5,250.02 133.3,249.51 134.1,249.03 134.9,248.58 135.7,248.17 136.5,247.79 137.3,247.46 138.1,247.18 138.9,246.95 139.7,246.77 140.5,246.65 141.3,246.59 142.1,246.59 142.9,246.64 143.7,246.76 144.5,246.93 145.3,247.16 146.1,247.44 146.9,247.77 147.7,248.15 148.5,248.57 149.3,249.03 150.1,249.53 150.9,250.05 151.7,250.6 152.5,251.17 153.3,251.76 154.1,252.35 154.9,252.95 155.7,253.55 156.5,254.15 157.3,254.74 158.1,255.32 158.9,255.88 159.7,256.43 160.5,256.95 161.3,257.46 162.1,257.94 162.9,258.39 163.7,258.82 164.5,259.22 165.3,259.6 166.1,259.95 166.9,260.28 167.7,260.58 168.5,260.85 169.3,261.11 170.1,261.34 170.9,261.54 171.7,261.73 172.5,261.9 173.3,262.06 174.1,262.2 174.9,262.32 175.7,262.43 176.5,262.53 177.3,262.62 178.1,262.7 178.9,262.77 179.7,262.84" fill="none" stroke="#15907f" stroke-width="1.4" stroke-linejoin="round" stroke-linecap="round"/>
<polyline points="126.1,261.58 126.9,261.55 127.7,261.52 128.5,261.47 129.3,261.41 130.1,261.34 130.9,261.26 131.7,261.16 132.5,261.05 133.3,260.91 134.1,260.75 134.9,260.57 135.7,260.36 136.5,260.12 137.3,259.85 138.1,259.55 138.9,259.21 139.7,258.83 140.5,258.41 141.3,257.95 142.1,257.44 142.9,256.89 143.7,256.29 144.5,255.63 145.3,254.93 146.1,254.18 146.9,253.37 147.7,252.52 148.5,251.62 149.3,250.68 150.1,249.69 150.9,248.67 151.7,247.61 152.5,246.53 153.3,245.42 154.1,244.3 154.9,243.16 155.7,242.03 156.5,240.9 157.3,239.79 158.1,238.7 158.9,237.65 159.7,236.64 160.5,235.69 161.3,234.79 162.1,233.97 162.9,233.22 163.7,232.56 164.5,231.99 165.3,231.52 166.1,231.15 166.9,230.89 167.7,230.74 168.5,230.71 169.3,230.78 170.1,230.97 170.9,231.27 171.7,231.67 172.5,232.18 173.3,232.78 174.1,233.48 174.9,234.27 175.7,235.13 176.5,236.06 177.3,237.06 178.1,238.1 178.9,239.19 179.7,240.32 180.5,241.46 181.3,242.63 182.1,243.8 182.9,244.97 183.7,246.13 184.5,247.28 185.3,248.4 186.1,249.5 186.9,250.56 187.7,251.58 188.5,252.56 189.3,253.5 190.1,254.39 190.9,255.23 191.7,256.02 192.5,256.76 193.3,257.45 194.1,258.09 194.9,258.68 195.7,259.23 196.5,259.73 197.3,260.18 198.1,260.6 198.9,260.98 199.7,261.32 200.5,261.62 201.3,261.9 202.1,262.14 202.9,262.36 203.7,262.56 204.5,262.73 205.3,262.89 206.1,263.02 206.9,263.14 207.7,263.25 208.5,263.35 209.3,263.43 210.1,263.5 210.9,263.57" fill="none" stroke="#0000ff" stroke-width="1.4" stroke-linejoin="round" stroke-linecap="round"/>
<polyline points="152.5,262.2 153.3,262.17 154.1,262.14 154.9,262.09 155.7,262.04 156.5,261.97 157.3,261.89 158.1,261.8 158.9,261.69 159.7,261.57 160.5,261.42 161.3,261.26 162.1,261.08 162.9,260.87 163.7,260.63 164.5,260.38 165.3,260.09 166.1,259.78 166.9,259.43 167.7,259.06 168.5,258.66 169.3,258.23 170.1,257.77 170.9,257.28 171.7,256.76 172.5,256.22 173.3,255.66 174.1,255.08 174.9,254.48 175.7,253.87 176.5,253.25 177.3,252.62 178.1,252 178.9,251.38 179.7,250.77 180.5,250.18 181.3,249.61 182.1,249.07 182.9,248.57 183.7,248.1 184.5,247.68 185.3,247.31 186.1,246.99 186.9,246.73 187.7,246.53 188.5,246.39 189.3,246.32 190.1,246.31 190.9,246.37 191.7,246.5 192.5,246.69 193.3,246.94 194.1,247.26 194.9,247.63 195.7,248.05 196.5,248.52 197.3,249.03 198.1,249.58 198.9,250.17 199.7,250.78 200.5,251.41 201.3,252.06 202.1,252.72 202.9,253.38 203.7,254.04 204.5,254.7 205.3,255.35 206.1,255.98 206.9,256.6 207.7,257.19 208.5,257.76 209.3,258.31 210.1,258.83 210.9,259.32 211.7,259.78 212.5,260.21 213.3,260.61 214.1,260.99 214.9,261.33 215.7,261.65 216.5,261.94 217.3,262.2 218.1,262.44 218.9,262.66 219.7,262.86 220.5,263.03 221.3,263.19 222.1,263.33 222.9,263.46 223.7,263.57 224.5,263.67 225.3,263.76 226.1,263.84 226.9,263.91 227.7,263.97" fill="none" stroke="#ff0000" stroke-width="1.4" stroke-linejoin="round" stroke-linecap="round"/>
<polyline points="100.5,261.21 101.3,261.23 102.1,261.25 102.9,261.27 103.7,261.29 104.5,261.31 105.3,261.32 106.1,261.34 106.9,261.36 107.7,261.38 108.5,261.4 109.3,261.42 110.1,261.44 110.9,261.46 111.7,261.47 112.5,261.49 113.3,261.51 114.1,261.53 114.9,261.55 115.7,261.57 116.5,261.59 117.3,261.61 118.1,261.62 118.9,261.64 119.7,261.66 120.5,261.68 121.3,261.7 122.1,261.72 122.9,261.74 123.7,261.76 124.5,261.77 125.3,261.79 126.1,261.81 126.9,261.83 127.7,261.85 128.5,261.87 129.3,261.89 130.1,261.91 130.9,261.92 131.7,261.94 132.5,261.96 133.3,261.98 134.1,262 134.9,262.02 135.7,262.04 136.5,262.06 137.3,262.07 138.1,262.09 138.9,262.11 139.7,262.13 140.5,262.15 141.3,262.17 142.1,262.19 142.9,262.21 143.7,262.22 144.5,262.24 145.3,262.26 146.1,262.28 146.9,262.3 147.7,262.32 148.5,262.34 149.3,262.36 150.1,262.37 150.9,262.39 151.7,262.41 152.5,262.43 153.3,262.45 154.1,262.47 154.9,262.49 155.7,262.51 156.5,262.52 157.3,262.54 158.1,262.56 158.9,262.58 159.7,262.6 160.5,262.62 161.3,262.64 162.1,262.66 162.9,262.67 163.7,262.69 164.5,262.71 165.3,262.73 166.1,262.75 166.9,262.77 167.7,262.79 168.5,262.81 169.3,262.82 170.1,262.84 170.9,262.86 171.7,262.88 172.5,262.9 173.3,262.92 174.1,262.94 174.9,262.96 175.7,262.98 176.5,262.99 177.3,263.01 178.1,263.03 178.9,263.05 179.7,263.07 180.5,263.09 181.3,263.11 182.1,263.13 182.9,263.14 183.7,263.16 184.5,263.18 185.3,263.2 186.1,263.22 186.9,263.24 187.7,263.26 188.5,263.28 189.3,263.29 190.1,263.31 190.9,263.33 191.7,263.35 192.5,263.37 193.3,263.39 194.1,263.41 194.9,263.43 195.7,263.44 196.5,263.46 197.3,263.48 198.1,263.5 198.9,263.52 199.7,263.54 200.5,263.56 201.3,263.58 202.1,263.59 202.9,263.61 203.7,263.63 204.5,263.65 205.3,263.67 206.1,263.69 206.9,263.71 207.7,263.73 208.5,263.74 209.3,263.76 210.1,263.78 210.9,263.8 211.7,263.82 212.5,263.84 213.3,263.86 214.1,263.88 214.9,263.89 215.7,263.91 216.5,263.93 217.3,263.95 218.1,263.97 218.9,263.99 219.7,264.01 220.5,264.03 221.3,264.04 222.1,264.06 222.9,264.08 223.7,264.1 224.5,264.12 225.3,264.14 226.1,264.16 226.9,264.18 227.7,264.19 228.5,264.21 229.3,264.23 230.1,264.25 230.9,264.27 231.7,264.29 232.5,264.31 233.3,264.33 234.1,264.34 234.9,264.36 235.7,264.38 236.5,264.4 237.3,264.42 238.1,264.44 238.9,264.46 239.7,264.48 240.5,264.49 241.3,264.51 242.1,264.53 242.9,264.55 243.7,264.57 244.5,264.59" fill="none" stroke="#b01010" stroke-width="1.6" stroke-linejoin="round" stroke-linecap="round"/>
<polyline points="35.7,261.94 36.5,262.74 37.3,260.42 38.1,262.84 38.9,261.62 39.7,261.08 40.5,261.07 41.3,260.86 42.1,261.45 42.9,262.18 43.7,262 44.5,262.03 45.3,260.38 46.1,260.46 46.9,262.64 47.7,262.22 48.5,263.06 49.3,262.37 50.1,260.79 50.9,262.4 51.7,261.93 52.5,261.63 53.3,260.9 54.1,261.46 54.9,261.35 55.7,262.07 56.5,261.52 57.3,262.53 58.1,260.87 58.9,261.73 59.7,261.74 60.5,260.78 61.3,260.55 62.1,262.07 62.9,261.72 63.7,261.23 64.5,261.61 65.3,260.85 66.1,261.48 66.9,260.88 67.7,261.43 68.5,261.98 69.3,261.04 70.1,261.86 70.9,260.53 71.7,261.04 72.5,260.28 73.3,261.16 74.1,261.27 74.9,261.07 75.7,261.01 76.5,262.13 77.3,262.17 78.1,260.32 78.9,261.98 79.7,259.94 80.5,260.62 81.3,261.01 82.1,261.2 82.9,260.38 83.7,260.59 84.5,261.14 85.3,260.59 86.1,260.62 86.9,261.52 87.7,261.7 88.5,261 89.3,261.04 90.1,261 90.9,260.69 91.7,260.63 92.5,260.25 93.3,261.42 94.1,260.9 94.9,260.84 95.7,261.07 96.5,261.28 97.3,261.89 98.1,260.68 98.9,260.57 99.7,260.97 100.5,260.22 101.3,261.7 102.1,261.46 102.9,261.28 103.7,260.7 104.5,261.28 105.3,261.47 106.1,261.05 106.9,260.46 107.7,259.42 108.5,261.2 109.3,260.21 110.1,259.78 110.9,260.88 111.7,260.37 112.5,259.01 113.3,259.77 114.1,259.47 114.9,260.16 115.7,257.91 116.5,258.72 117.3,258.62 118.1,259.41 118.9,257.33 119.7,255.67 120.5,256.38 121.3,257.12 122.1,257.06 122.9,257.24 123.7,255.81 124.5,254.45 125.3,255.08 126.1,253.89 126.9,253.17 127.7,252.71 128.5,252.96 129.3,250.8 130.1,250.07 130.9,250.08 131.7,249.42 132.5,248.23 133.3,247.52 134.1,247.74 134.9,247.76 135.7,246.68 136.5,246.03 137.3,245.81 138.1,242.94 138.9,242.69 139.7,242.67 140.5,241.77 141.3,241.37 142.1,241.58 142.9,240.11 143.7,240.18 144.5,238.56 145.3,238.81 146.1,239.93 146.9,238.11 147.7,238.21 148.5,237.96 149.3,236.6 150.1,236.82 150.9,236.02 151.7,235.8 152.5,234.29 153.3,233.14 154.1,232.83 154.9,232.54 155.7,232.68 156.5,231.53 157.3,230.76 158.1,230.27 158.9,230.53 159.7,228.73 160.5,229.58 161.3,227.07 162.1,226.95 162.9,227.43 163.7,226.69 164.5,225.27 165.3,225.37 166.1,224.58 166.9,225.36 167.7,224.88 168.5,223.81 169.3,224.44 170.1,223.83 170.9,224.01 171.7,224.15 172.5,223.81 173.3,224.66 174.1,224.91 174.9,225.15 175.7,225.95 176.5,225.36 177.3,224.94 178.1,226.1 178.9,227.08 179.7,227.5 180.5,228.47 181.3,229.24 182.1,229.23 182.9,229.91 183.7,229.99 184.5,232.13 185.3,231.96 186.1,232.16 186.9,232.93 187.7,234.23 188.5,236.44 189.3,236.74 190.1,235.89 190.9,237.87 191.7,239.04 192.5,240.21 193.3,240.94 194.1,241.19 194.9,242.87 195.7,243.14 196.5,242.91 197.3,244.94 198.1,245.9 198.9,247.99 199.7,249 200.5,248.45 201.3,250.21 202.1,251.03 202.9,250.83 203.7,251.23 204.5,253.42 205.3,254.36 206.1,254.6 206.9,253.84 207.7,256.4 208.5,256.66 209.3,257.05 210.1,258.02 210.9,258 211.7,259.68 212.5,259.76 213.3,259.79 214.1,260.78 214.9,260.92 215.7,260.21 216.5,261.48 217.3,261.54 218.1,260.89 218.9,261.87 219.7,262.83 220.5,262.28 221.3,263.86 222.1,264.21 222.9,262.93 223.7,263.65 224.5,264.76 225.3,263.22 226.1,262.91 226.9,263.31 227.7,262.71 228.5,262.78 229.3,263.92 230.1,263.53 230.9,264.04 231.7,264.25 232.5,263.4 233.3,263.83 234.1,263.81 234.9,263.56 235.7,263.47 236.5,264.3 237.3,264 238.1,264.36 238.9,264.85 239.7,264.88 240.5,263.41 241.3,263.61 242.1,264.05 242.9,264.33 243.7,264.92 244.5,263.61 245.3,263.98 246.1,264.43 246.9,265.08 247.7,265.16 248.5,263.46 249.3,263.98 250.1,263.53 250.9,264.66 251.7,264.35 252.5,263.75 253.3,263.54 254.1,264.15 254.9,264.59 255.7,263.34 256.5,263.62 257.3,263.89 258.1,263.79 258.9,263.99 259.7,263.02 260.5,263.27 261.3,262.18 262.1,263.66 262.9,264.34 263.7,262.12 264.5,263.09" fill="none" stroke="#000" stroke-width="1.2" stroke-linejoin="round" stroke-linecap="round"/>
<polyline points="35.7,261.99 36.5,261.98 37.3,261.97 38.1,261.96 38.9,261.95 39.7,261.94 40.5,261.93 41.3,261.92 42.1,261.91 42.9,261.9 43.7,261.89 44.5,261.88 45.3,261.87 46.1,261.86 46.9,261.85 47.7,261.84 48.5,261.83 49.3,261.82 50.1,261.81 50.9,261.8 51.7,261.79 52.5,261.78 53.3,261.77 54.1,261.76 54.9,261.75 55.7,261.74 56.5,261.73 57.3,261.72 58.1,261.71 58.9,261.7 59.7,261.69 60.5,261.68 61.3,261.67 62.1,261.66 62.9,261.65 63.7,261.64 64.5,261.63 65.3,261.63 66.1,261.62 66.9,261.61 67.7,261.6 68.5,261.59 69.3,261.58 70.1,261.57 70.9,261.56 71.7,261.55 72.5,261.54 73.3,261.53 74.1,261.52 74.9,261.51 75.7,261.5 76.5,261.49 77.3,261.48 78.1,261.47 78.9,261.46 79.7,261.45 80.5,261.44 81.3,261.43 82.1,261.42 82.9,261.41 83.7,261.4 84.5,261.39 85.3,261.38 86.1,261.37 86.9,261.36 87.7,261.35 88.5,261.34 89.3,261.33 90.1,261.32 90.9,261.3 91.7,261.29 92.5,261.28 93.3,261.27 94.1,261.25 94.9,261.24 95.7,261.23 96.5,261.21 97.3,261.19 98.1,261.17 98.9,261.15 99.7,261.13 100.5,261.12 101.3,261.11 102.1,261.11 102.9,261.1 103.7,261.08 104.5,261.06 105.3,261.03 106.1,261 106.9,260.95 107.7,260.9 108.5,260.83 109.3,260.76 110.1,260.67 110.9,260.56 111.7,260.44 112.5,260.3 113.3,260.14 114.1,259.96 114.9,259.76 115.7,259.54 116.5,259.29 117.3,259.02 118.1,258.72 118.9,258.39 119.7,258.03 120.5,257.65 121.3,257.24 122.1,256.8 122.9,256.33 123.7,255.83 124.5,255.31 125.3,254.77 126.1,254.2 126.9,253.61 127.7,253 128.5,252.37 129.3,251.73 130.1,251.08 130.9,250.43 131.7,249.76 132.5,249.1 133.3,248.44 134.1,247.78 134.9,247.13 135.7,246.49 136.5,245.85 137.3,245.24 138.1,244.63 138.9,244.04 139.7,243.47 140.5,242.91 141.3,242.36 142.1,241.83 142.9,241.31 143.7,240.79 144.5,240.29 145.3,239.79 146.1,239.29 146.9,238.79 147.7,238.28 148.5,237.77 149.3,237.25 150.1,236.72 150.9,236.17 151.7,235.61 152.5,235.04 153.3,234.45 154.1,233.85 154.9,233.23 155.7,232.61 156.5,231.97 157.3,231.34 158.1,230.7 158.9,230.06 159.7,229.44 160.5,228.83 161.3,228.23 162.1,227.67 162.9,227.13 163.7,226.63 164.5,226.17 165.3,225.75 166.1,225.38 166.9,225.07 167.7,224.81 168.5,224.61 169.3,224.46 170.1,224.38 170.9,224.36 171.7,224.41 172.5,224.51 173.3,224.67 174.1,224.88 174.9,225.16 175.7,225.48 176.5,225.85 177.3,226.27 178.1,226.74 178.9,227.24 179.7,227.78 180.5,228.36 181.3,228.97 182.1,229.61 182.9,230.28 183.7,230.98 184.5,231.7 185.3,232.45 186.1,233.22 186.9,234.01 187.7,234.82 188.5,235.65 189.3,236.5 190.1,237.37 190.9,238.26 191.7,239.16 192.5,240.07 193.3,241 194.1,241.93 194.9,242.88 195.7,243.83 196.5,244.78 197.3,245.73 198.1,246.68 198.9,247.63 199.7,248.56 200.5,249.48 201.3,250.38 202.1,251.27 202.9,252.13 203.7,252.97 204.5,253.78 205.3,254.57 206.1,255.32 206.9,256.03 207.7,256.72 208.5,257.36 209.3,257.97 210.1,258.55 210.9,259.09 211.7,259.59 212.5,260.05 213.3,260.48 214.1,260.88 214.9,261.24 215.7,261.58 216.5,261.88 217.3,262.16 218.1,262.4 218.9,262.63 219.7,262.83 220.5,263.01 221.3,263.17 222.1,263.32 222.9,263.45 223.7,263.56 224.5,263.66 225.3,263.75 226.1,263.83 226.9,263.91 227.7,263.97 228.5,264.03 229.3,264.08 230.1,264.12 230.9,264.17 231.7,264.2 232.5,264.24 233.3,264.27 234.1,264.3 234.9,264.33 235.7,264.35 236.5,264.38 237.3,264.4 238.1,264.42 238.9,264.45 239.7,264.47 240.5,264.49 241.3,264.51 242.1,264.53 242.9,264.55 243.7,264.57 244.5,264.59 245.3,264.59 246.1,264.56 246.9,264.52 247.7,264.49 248.5,264.46 249.3,264.43 250.1,264.4 250.9,264.37 251.7,264.33 252.5,264.3 253.3,264.27 254.1,264.24 254.9,264.21 255.7,264.18 256.5,264.14 257.3,264.11 258.1,264.08 258.9,264.05 259.7,264.02 260.5,263.99 261.3,263.95 262.1,263.92 262.9,263.89 263.7,263.86 264.5,263.83" fill="none" stroke="#838a10" stroke-width="1.8" stroke-linejoin="round" stroke-linecap="round"/>
<polyline points="100.5,315.1 101.3,315.05 102.1,314.99 102.9,314.93 103.7,314.87 104.5,314.79 105.3,314.72 106.1,314.63 106.9,314.54 107.7,314.44 108.5,314.34 109.3,314.23 110.1,314.12 110.9,313.99 111.7,313.87 112.5,313.73 113.3,313.6 114.1,313.45 114.9,313.3 115.7,313.15 116.5,313 117.3,312.83 118.1,312.67 118.9,312.51 119.7,312.34 120.5,312.17 121.3,312 122.1,311.83 122.9,311.66 123.7,311.5 124.5,311.33 125.3,311.17 126.1,311.02 126.9,310.87 127.7,310.72 128.5,310.59 129.3,310.46 130.1,310.34 130.9,310.22 131.7,310.12 132.5,310.03 133.3,309.95 134.1,309.88 134.9,309.83 135.7,309.78 136.5,309.75 137.3,309.74 138.1,309.73 138.9,309.74 139.7,309.77 140.5,309.81 141.3,309.86 142.1,309.92 142.9,310 143.7,310.09 144.5,310.2 145.3,310.31 146.1,310.44 146.9,310.58 147.7,310.73 148.5,310.89 149.3,311.05 150.1,311.23 150.9,311.41 151.7,311.6 152.5,311.79 153.3,311.99 154.1,312.19 154.9,312.39 155.7,312.6 156.5,312.81 157.3,313.01 158.1,313.22 158.9,313.43 159.7,313.63 160.5,313.84 161.3,314.04 162.1,314.23 162.9,314.43 163.7,314.61 164.5,314.8 165.3,314.98 166.1,315.15 166.9,315.32 167.7,315.48 168.5,315.63 169.3,315.78 170.1,315.93 170.9,316.06 171.7,316.19 172.5,316.32 173.3,316.44 174.1,316.55 174.9,316.66 175.7,316.76 176.5,316.86 177.3,316.95 178.1,317.03 178.9,317.11 179.7,317.19 180.5,317.26 181.3,317.33 182.1,317.39 182.9,317.45 183.7,317.51 184.5,317.56 185.3,317.61 186.1,317.66 186.9,317.7" fill="none" stroke="#15907f" stroke-width="1.4" stroke-linejoin="round" stroke-linecap="round"/>
<polyline points="120.5,316.08 121.3,316.07 122.1,316.05 122.9,316.02 123.7,315.99 124.5,315.95 125.3,315.9 126.1,315.85 126.9,315.78 127.7,315.7 128.5,315.62 129.3,315.52 130.1,315.4 130.9,315.28 131.7,315.13 132.5,314.97 133.3,314.79 134.1,314.59 134.9,314.37 135.7,314.12 136.5,313.85 137.3,313.56 138.1,313.23 138.9,312.88 139.7,312.5 140.5,312.09 141.3,311.64 142.1,311.16 142.9,310.65 143.7,310.1 144.5,309.52 145.3,308.9 146.1,308.24 146.9,307.55 147.7,306.82 148.5,306.06 149.3,305.26 150.1,304.43 150.9,303.56 151.7,302.67 152.5,301.75 153.3,300.8 154.1,299.83 154.9,298.84 155.7,297.83 156.5,296.81 157.3,295.79 158.1,294.76 158.9,293.73 159.7,292.7 160.5,291.69 161.3,290.69 162.1,289.71 162.9,288.76 163.7,287.84 164.5,286.95 165.3,286.11 166.1,285.32 166.9,284.57 167.7,283.88 168.5,283.25 169.3,282.69 170.1,282.2 170.9,281.77 171.7,281.43 172.5,281.15 173.3,280.96 174.1,280.85 174.9,280.82 175.7,280.87 176.5,281 177.3,281.21 178.1,281.5 178.9,281.87 179.7,282.31 180.5,282.83 181.3,283.41 182.1,284.06 182.9,284.78 183.7,285.55 184.5,286.37 185.3,287.24 186.1,288.15 186.9,289.1 187.7,290.09 188.5,291.1 189.3,292.13 190.1,293.18 190.9,294.24 191.7,295.31 192.5,296.38 193.3,297.45 194.1,298.5 194.9,299.55 195.7,300.59 196.5,301.6 197.3,302.59 198.1,303.56 198.9,304.5 199.7,305.41 200.5,306.29 201.3,307.14 202.1,307.95 202.9,308.72 203.7,309.46 204.5,310.17 205.3,310.84 206.1,311.47 206.9,312.06 207.7,312.62 208.5,313.15 209.3,313.64 210.1,314.1 210.9,314.53 211.7,314.93 212.5,315.3 213.3,315.64 214.1,315.95 214.9,316.24 215.7,316.51 216.5,316.75 217.3,316.98 218.1,317.18 218.9,317.37 219.7,317.54 220.5,317.7 221.3,317.84 222.1,317.97 222.9,318.08 223.7,318.19 224.5,318.29 225.3,318.38 226.1,318.46 226.9,318.53 227.7,318.59 228.5,318.66 229.3,318.71" fill="none" stroke="#0000ff" stroke-width="1.4" stroke-linejoin="round" stroke-linecap="round"/>
<polyline points="100.5,315.81 101.3,315.83 102.1,315.85 102.9,315.87 103.7,315.89 104.5,315.91 105.3,315.93 106.1,315.95 106.9,315.97 107.7,315.99 108.5,316.01 109.3,316.03 110.1,316.04 110.9,316.06 111.7,316.08 112.5,316.1 113.3,316.12 114.1,316.14 114.9,316.16 115.7,316.18 116.5,316.2 117.3,316.22 118.1,316.24 118.9,316.26 119.7,316.28 120.5,316.3 121.3,316.32 122.1,316.34 122.9,316.36 123.7,316.37 124.5,316.39 125.3,316.41 126.1,316.43 126.9,316.45 127.7,316.47 128.5,316.49 129.3,316.51 130.1,316.53 130.9,316.55 131.7,316.57 132.5,316.59 133.3,316.61 134.1,316.63 134.9,316.65 135.7,316.67 136.5,316.68 137.3,316.7 138.1,316.72 138.9,316.74 139.7,316.76 140.5,316.78 141.3,316.8 142.1,316.82 142.9,316.84 143.7,316.86 144.5,316.88 145.3,316.9 146.1,316.92 146.9,316.94 147.7,316.96 148.5,316.98 149.3,317 150.1,317.01 150.9,317.03 151.7,317.05 152.5,317.07 153.3,317.09 154.1,317.11 154.9,317.13 155.7,317.15 156.5,317.17 157.3,317.19 158.1,317.21 158.9,317.23 159.7,317.25 160.5,317.27 161.3,317.29 162.1,317.31 162.9,317.32 163.7,317.34 164.5,317.36 165.3,317.38 166.1,317.4 166.9,317.42 167.7,317.44 168.5,317.46 169.3,317.48 170.1,317.5 170.9,317.52 171.7,317.54 172.5,317.56 173.3,317.58 174.1,317.6 174.9,317.62 175.7,317.64 176.5,317.65 177.3,317.67 178.1,317.69 178.9,317.71 179.7,317.73 180.5,317.75 181.3,317.77 182.1,317.79 182.9,317.81 183.7,317.83 184.5,317.85 185.3,317.87 186.1,317.89 186.9,317.91 187.7,317.93 188.5,317.95 189.3,317.96 190.1,317.98 190.9,318 191.7,318.02 192.5,318.04 193.3,318.06 194.1,318.08 194.9,318.1 195.7,318.12 196.5,318.14 197.3,318.16 198.1,318.18 198.9,318.2 199.7,318.22 200.5,318.24 201.3,318.26 202.1,318.28 202.9,318.29 203.7,318.31 204.5,318.33 205.3,318.35 206.1,318.37 206.9,318.39 207.7,318.41 208.5,318.43 209.3,318.45 210.1,318.47 210.9,318.49 211.7,318.51 212.5,318.53 213.3,318.55 214.1,318.57 214.9,318.59 215.7,318.6 216.5,318.62 217.3,318.64 218.1,318.66 218.9,318.68 219.7,318.7 220.5,318.72 221.3,318.74 222.1,318.76 222.9,318.78 223.7,318.8 224.5,318.82 225.3,318.84 226.1,318.86 226.9,318.88 227.7,318.9 228.5,318.92 229.3,318.93 230.1,318.95 230.9,318.97 231.7,318.99 232.5,319.01 233.3,319.03 234.1,319.05 234.9,319.07 235.7,319.09 236.5,319.11 237.3,319.13 238.1,319.15 238.9,319.17 239.7,319.19 240.5,319.21 241.3,319.23 242.1,319.24 242.9,319.26 243.7,319.28 244.5,319.3 245.3,319.32 246.1,319.34 246.9,319.36 247.7,319.38 248.5,319.4 249.3,319.42 250.1,319.44 250.9,319.46 251.7,319.48 252.5,319.5 253.3,319.52 254.1,319.54 254.9,319.56 255.7,319.57 256.5,319.59 257.3,319.61 258.1,319.63 258.9,319.65 259.7,319.67 260.5,319.69 261.3,319.71 262.1,319.73 262.9,319.75 263.7,319.77 264.5,319.79" fill="none" stroke="#b01010" stroke-width="1.6" stroke-linejoin="round" stroke-linecap="round"/>
<polyline points="35.7,315.11 36.5,315.24 37.3,315.16 38.1,315.63 38.9,317.07 39.7,314.93 40.5,316.71 41.3,316.92 42.1,315.78 42.9,315.53 43.7,316.35 44.5,316.86 45.3,317.51 46.1,316.62 46.9,317.1 47.7,315.67 48.5,315.36 49.3,314.76 50.1,315.15 50.9,315.7 51.7,316.08 52.5,315.02 53.3,316.5 54.1,315.85 54.9,315.46 55.7,315.37 56.5,317.31 57.3,316.01 58.1,315.26 58.9,315.21 59.7,317.16 60.5,315.46 61.3,316.69 62.1,316.84 62.9,314.21 63.7,316.78 64.5,315.68 65.3,315.06 66.1,315.43 66.9,316.19 67.7,316.06 68.5,316.08 69.3,315.27 70.1,316.67 70.9,316.81 71.7,317.04 72.5,316.45 73.3,317.06 74.1,317.19 74.9,316.21 75.7,316.33 76.5,316.11 77.3,316.07 78.1,316.28 78.9,314.47 79.7,315.43 80.5,315.99 81.3,314.16 82.1,314.61 82.9,316.71 83.7,314.85 84.5,315.25 85.3,315.82 86.1,315.2 86.9,314.91 87.7,315.13 88.5,315.17 89.3,315.04 90.1,315.54 90.9,316.51 91.7,315.6 92.5,316.46 93.3,315.8 94.1,315.83 94.9,315.61 95.7,314.94 96.5,315.4 97.3,315.26 98.1,314.21 98.9,315.45 99.7,315.26 100.5,315.06 101.3,314.36 102.1,312.85 102.9,315.66 103.7,314.51 104.5,312.96 105.3,314.86 106.1,313.83 106.9,314.71 107.7,314.06 108.5,314.82 109.3,314.07 110.1,313.99 110.9,313.77 111.7,314.39 112.5,312.48 113.3,314.07 114.1,313.58 114.9,312.55 115.7,312.77 116.5,312.28 117.3,312.46 118.1,312.89 118.9,311.57 119.7,312.37 120.5,312.31 121.3,311.9 122.1,312.33 122.9,310.98 123.7,311.29 124.5,312.32 125.3,310.38 126.1,310.03 126.9,309.9 127.7,310.07 128.5,308.98 129.3,308.99 130.1,307.68 130.9,307.92 131.7,307.67 132.5,307.3 133.3,307.52 134.1,308.03 134.9,306.98 135.7,306.01 136.5,306.79 137.3,306.41 138.1,304.96 138.9,305.69 139.7,304.45 140.5,304.37 141.3,303.88 142.1,304.54 142.9,302.94 143.7,302.81 144.5,302.66 145.3,302.74 146.1,302.29 146.9,300.18 147.7,301.12 148.5,299.87 149.3,299.85 150.1,299.07 150.9,297.26 151.7,296.94 152.5,295.96 153.3,295.65 154.1,295.76 154.9,293.84 155.7,292.52 156.5,293.92 157.3,290.62 158.1,290.47 158.9,289.62 159.7,287.9 160.5,288.51 161.3,287.88 162.1,286.28 162.9,285.6 163.7,284.69 164.5,282.85 165.3,283.57 166.1,281.89 166.9,281.5 167.7,281.9 168.5,281.77 169.3,280.09 170.1,281.12 170.9,281.25 171.7,279.9 172.5,279.56 173.3,279.66 174.1,279.22 174.9,278.96 175.7,280.14 176.5,280.4 177.3,279.83 178.1,280.26 178.9,280.54 179.7,280.98 180.5,281.36 181.3,281.62 182.1,284 182.9,283.88 183.7,284.97 184.5,287.04 185.3,286.35 186.1,288.03 186.9,287.66 187.7,289.17 188.5,291.12 189.3,291.51 190.1,291.76 190.9,292.76 191.7,295.14 192.5,295.34 193.3,297.54 194.1,298.33 194.9,298.97 195.7,300.18 196.5,301.77 197.3,302.27 198.1,302.56 198.9,304.4 199.7,304.83 200.5,305.8 201.3,307.21 202.1,307.85 202.9,309.11 203.7,309.02 204.5,309.54 205.3,310.29 206.1,311.42 206.9,311.2 207.7,312.07 208.5,312.26 209.3,312.8 210.1,313.67 210.9,315.89 211.7,314.36 212.5,315.17 213.3,315.4 214.1,315.53 214.9,315.96 215.7,317.55 216.5,316.27 217.3,317.77 218.1,317.33 218.9,316.47 219.7,316.8 220.5,317.08 221.3,316.79 222.1,318.45 222.9,318.07 223.7,318.25 224.5,317.28 225.3,318.39 226.1,317.79 226.9,319.89 227.7,318.23 228.5,318.55 229.3,318.69 230.1,318.14 230.9,318.24 231.7,318.28 232.5,319.17 233.3,318.13 234.1,318.55 234.9,318.92 235.7,318.45 236.5,317.82 237.3,317.97 238.1,318.53 238.9,318.17 239.7,319.51 240.5,318.89 241.3,318.89 242.1,318.24 242.9,319.31 243.7,318.73 244.5,318.34 245.3,318.58 246.1,320.65 246.9,318.64 247.7,318.48 248.5,319.87 249.3,319.61 250.1,318.94 250.9,320.09 251.7,318.17 252.5,318.86 253.3,318.09 254.1,320.15 254.9,319.27 255.7,321.02 256.5,319.6 257.3,319.62 258.1,318.55 258.9,318.53 259.7,319.02 260.5,319.98 261.3,318.68 262.1,317.78 262.9,319.99 263.7,320.05 264.5,318.83" fill="none" stroke="#000" stroke-width="1.2" stroke-linejoin="round" stroke-linecap="round"/>
<polyline points="35.7,316.39 36.5,316.38 37.3,316.38 38.1,316.37 38.9,316.36 39.7,316.35 40.5,316.35 41.3,316.34 42.1,316.33 42.9,316.32 43.7,316.32 44.5,316.31 45.3,316.3 46.1,316.3 46.9,316.29 47.7,316.28 48.5,316.27 49.3,316.27 50.1,316.26 50.9,316.25 51.7,316.24 52.5,316.24 53.3,316.23 54.1,316.22 54.9,316.21 55.7,316.21 56.5,316.2 57.3,316.19 58.1,316.18 58.9,316.18 59.7,316.17 60.5,316.16 61.3,316.15 62.1,316.15 62.9,316.14 63.7,316.13 64.5,316.12 65.3,316.12 66.1,316.11 66.9,316.1 67.7,316.09 68.5,316.09 69.3,316.08 70.1,316.07 70.9,316.06 71.7,316.05 72.5,316.05 73.3,316.04 74.1,316.03 74.9,316.02 75.7,316.01 76.5,316 77.3,315.99 78.1,315.98 78.9,315.97 79.7,315.96 80.5,315.94 81.3,315.93 82.1,315.92 82.9,315.9 83.7,315.89 84.5,315.87 85.3,315.85 86.1,315.83 86.9,315.81 87.7,315.79 88.5,315.77 89.3,315.74 90.1,315.72 90.9,315.69 91.7,315.65 92.5,315.62 93.3,315.58 94.1,315.54 94.9,315.5 95.7,315.45 96.5,315.4 97.3,315.35 98.1,315.29 98.9,315.22 99.7,315.16 100.5,315.1 101.3,315.05 102.1,314.99 102.9,314.93 103.7,314.86 104.5,314.79 105.3,314.71 106.1,314.62 106.9,314.53 107.7,314.43 108.5,314.32 109.3,314.21 110.1,314.09 110.9,313.96 111.7,313.83 112.5,313.69 113.3,313.55 114.1,313.39 114.9,313.23 115.7,313.07 116.5,312.9 117.3,312.72 118.1,312.54 118.9,312.35 119.7,312.15 120.5,311.95 121.3,311.75 122.1,311.54 122.9,311.33 123.7,311.11 124.5,310.89 125.3,310.66 126.1,310.43 126.9,310.2 127.7,309.96 128.5,309.71 129.3,309.46 130.1,309.21 130.9,308.95 131.7,308.69 132.5,308.41 133.3,308.13 134.1,307.84 134.9,307.55 135.7,307.24 136.5,306.92 137.3,306.59 138.1,306.24 138.9,305.88 139.7,305.51 140.5,305.11 141.3,304.7 142.1,304.27 142.9,303.81 143.7,303.34 144.5,302.84 145.3,302.31 146.1,301.77 146.9,301.19 147.7,300.59 148.5,299.97 149.3,299.31 150.1,298.64 150.9,297.94 151.7,297.21 152.5,296.46 153.3,295.69 154.1,294.9 154.9,294.1 155.7,293.28 156.5,292.45 157.3,291.61 158.1,290.77 158.9,289.93 159.7,289.09 160.5,288.26 161.3,287.44 162.1,286.64 162.9,285.86 163.7,285.11 164.5,284.39 165.3,283.7 166.1,283.06 166.9,282.46 167.7,281.92 168.5,281.43 169.3,280.99 170.1,280.62 170.9,280.32 171.7,280.08 172.5,279.91 173.3,279.82 174.1,279.8 174.9,279.86 175.7,279.99 176.5,280.2 177.3,280.48 178.1,280.84 178.9,281.27 179.7,281.77 180.5,282.34 181.3,282.97 182.1,283.67 182.9,284.42 183.7,285.23 184.5,286.08 185.3,286.98 186.1,287.92 186.9,288.9 187.7,289.91 188.5,290.94 189.3,291.99 190.1,293.06 190.9,294.13 191.7,295.21 192.5,296.29 193.3,297.37 194.1,298.44 194.9,299.5 195.7,300.54 196.5,301.56 197.3,302.56 198.1,303.53 198.9,304.47 199.7,305.39 200.5,306.27 201.3,307.12 202.1,307.93 202.9,308.71 203.7,309.45 204.5,310.16 205.3,310.83 206.1,311.46 206.9,312.06 207.7,312.62 208.5,313.15 209.3,313.64 210.1,314.1 210.9,314.53 211.7,314.93 212.5,315.3 213.3,315.64 214.1,315.95 214.9,316.24 215.7,316.51 216.5,316.75 217.3,316.98 218.1,317.18 218.9,317.37 219.7,317.54 220.5,317.7 221.3,317.84 222.1,317.97 222.9,318.08 223.7,318.19 224.5,318.29 225.3,318.38 226.1,318.46 226.9,318.53 227.7,318.59 228.5,318.65 229.3,318.71 230.1,318.76 230.9,318.81 231.7,318.85 232.5,318.89 233.3,318.93 234.1,318.96 234.9,319 235.7,319.03 236.5,319.06 237.3,319.08 238.1,319.11 238.9,319.14 239.7,319.16 240.5,319.18 241.3,319.21 242.1,319.23 242.9,319.25 243.7,319.27 244.5,319.29 245.3,319.32 246.1,319.34 246.9,319.36 247.7,319.38 248.5,319.4 249.3,319.42 250.1,319.44 250.9,319.46 251.7,319.48 252.5,319.5 253.3,319.52 254.1,319.54 254.9,319.55 255.7,319.57 256.5,319.59 257.3,319.61 258.1,319.63 258.9,319.65 259.7,319.67 260.5,319.69 261.3,319.71 262.1,319.73 262.9,319.75 263.7,319.77 264.5,319.79" fill="none" stroke="#838a10" stroke-width="1.8" stroke-linejoin="round" stroke-linecap="round"/>
<polyline points="119.7,371.91 120.5,371.88 121.3,371.85 122.1,371.81 122.9,371.76 123.7,371.7 124.5,371.62 125.3,371.53 126.1,371.43 126.9,371.31 127.7,371.17 128.5,371.02 129.3,370.84 130.1,370.65 130.9,370.43 131.7,370.2 132.5,369.94 133.3,369.66 134.1,369.36 134.9,369.04 135.7,368.69 136.5,368.33 137.3,367.95 138.1,367.56 138.9,367.16 139.7,366.74 140.5,366.32 141.3,365.9 142.1,365.48 142.9,365.06 143.7,364.66 144.5,364.27 145.3,363.9 146.1,363.55 146.9,363.23 147.7,362.94 148.5,362.68 149.3,362.47 150.1,362.3 150.9,362.17 151.7,362.09 152.5,362.06 153.3,362.07 154.1,362.14 154.9,362.25 155.7,362.41 156.5,362.62 157.3,362.86 158.1,363.15 158.9,363.48 159.7,363.83 160.5,364.22 161.3,364.63 162.1,365.06 162.9,365.51 163.7,365.97 164.5,366.43 165.3,366.9 166.1,367.36 166.9,367.82 167.7,368.27 168.5,368.71 169.3,369.14 170.1,369.55 170.9,369.94 171.7,370.31 172.5,370.66 173.3,370.99 174.1,371.3 174.9,371.59 175.7,371.85 176.5,372.09 177.3,372.32 178.1,372.52 178.9,372.71 179.7,372.87 180.5,373.02 181.3,373.16 182.1,373.28 182.9,373.39 183.7,373.49 184.5,373.58 185.3,373.66 186.1,373.73 186.9,373.79" fill="none" stroke="#15907f" stroke-width="1.4" stroke-linejoin="round" stroke-linecap="round"/>
<polyline points="143.7,372.57 144.5,372.53 145.3,372.47 146.1,372.4 146.9,372.31 147.7,372.19 148.5,372.05 149.3,371.88 150.1,371.67 150.9,371.42 151.7,371.13 152.5,370.79 153.3,370.39 154.1,369.94 154.9,369.42 155.7,368.83 156.5,368.17 157.3,367.44 158.1,366.64 158.9,365.75 159.7,364.79 160.5,363.76 161.3,362.66 162.1,361.49 162.9,360.27 163.7,359 164.5,357.69 165.3,356.36 166.1,355.02 166.9,353.69 167.7,352.37 168.5,351.1 169.3,349.89 170.1,348.75 170.9,347.71 171.7,346.78 172.5,345.97 173.3,345.3 174.1,344.78 174.9,344.43 175.7,344.24 176.5,344.22 177.3,344.37 178.1,344.68 178.9,345.17 179.7,345.81 180.5,346.59 181.3,347.5 182.1,348.54 182.9,349.68 183.7,350.9 184.5,352.18 185.3,353.52 186.1,354.89 186.9,356.27 187.7,357.66 188.5,359.02 189.3,360.36 190.1,361.65 190.9,362.89 191.7,364.07 192.5,365.18 193.3,366.22 194.1,367.18 194.9,368.07 195.7,368.89 196.5,369.63 197.3,370.29 198.1,370.89 198.9,371.42 199.7,371.89 200.5,372.3 201.3,372.66 202.1,372.98 202.9,373.25 203.7,373.48 204.5,373.68 205.3,373.85 206.1,374 206.9,374.13 207.7,374.23 208.5,374.33 209.3,374.4" fill="none" stroke="#0000ff" stroke-width="1.4" stroke-linejoin="round" stroke-linecap="round"/>
<polyline points="174.1,373.43 174.9,373.38 175.7,373.31 176.5,373.22 177.3,373.09 178.1,372.93 178.9,372.72 179.7,372.46 180.5,372.13 181.3,371.74 182.1,371.26 182.9,370.68 183.7,370.01 184.5,369.22 185.3,368.31 186.1,367.27 186.9,366.09 187.7,364.78 188.5,363.33 189.3,361.75 190.1,360.04 190.9,358.23 191.7,356.32 192.5,354.34 193.3,352.32 194.1,350.29 194.9,348.28 195.7,346.33 196.5,344.47 197.3,342.75 198.1,341.2 198.9,339.86 199.7,338.77 200.5,337.93 201.3,337.38 202.1,337.14 202.9,337.2 203.7,337.57 204.5,338.23 205.3,339.18 206.1,340.38 206.9,341.82 207.7,343.46 208.5,345.26 209.3,347.19 210.1,349.2 210.9,351.26 211.7,353.34 212.5,355.4 213.3,357.41 214.1,359.34 214.9,361.17 215.7,362.89 216.5,364.48 217.3,365.94 218.1,367.26 218.9,368.45 219.7,369.5 220.5,370.43 221.3,371.23 222.1,371.92 222.9,372.52 223.7,373.02 224.5,373.44 225.3,373.79 226.1,374.09 226.9,374.33 227.7,374.52 228.5,374.69 229.3,374.82 230.1,374.93" fill="none" stroke="#ff0000" stroke-width="1.4" stroke-linejoin="round" stroke-linecap="round"/>
<polyline points="100.5,371.61 101.3,371.64 102.1,371.66 102.9,371.68 103.7,371.7 104.5,371.72 105.3,371.75 106.1,371.77 106.9,371.79 107.7,371.81 108.5,371.83 109.3,371.86 110.1,371.88 110.9,371.9 111.7,371.92 112.5,371.94 113.3,371.97 114.1,371.99 114.9,372.01 115.7,372.03 116.5,372.06 117.3,372.08 118.1,372.1 118.9,372.12 119.7,372.14 120.5,372.17 121.3,372.19 122.1,372.21 122.9,372.23 123.7,372.25 124.5,372.28 125.3,372.3 126.1,372.32 126.9,372.34 127.7,372.36 128.5,372.39 129.3,372.41 130.1,372.43 130.9,372.45 131.7,372.47 132.5,372.5 133.3,372.52 134.1,372.54 134.9,372.56 135.7,372.58 136.5,372.61 137.3,372.63 138.1,372.65 138.9,372.67 139.7,372.7 140.5,372.72 141.3,372.74 142.1,372.76 142.9,372.78 143.7,372.81 144.5,372.83 145.3,372.85 146.1,372.87 146.9,372.89 147.7,372.92 148.5,372.94 149.3,372.96 150.1,372.98 150.9,373 151.7,373.03 152.5,373.05 153.3,373.07 154.1,373.09 154.9,373.11 155.7,373.14 156.5,373.16 157.3,373.18 158.1,373.2 158.9,373.22 159.7,373.25 160.5,373.27 161.3,373.29 162.1,373.31 162.9,373.34 163.7,373.36 164.5,373.38 165.3,373.4 166.1,373.42 166.9,373.45 167.7,373.47 168.5,373.49 169.3,373.51 170.1,373.53 170.9,373.56 171.7,373.58 172.5,373.6 173.3,373.62 174.1,373.64 174.9,373.67 175.7,373.69 176.5,373.71 177.3,373.73 178.1,373.75 178.9,373.78 179.7,373.8 180.5,373.82 181.3,373.84 182.1,373.86 182.9,373.89 183.7,373.91 184.5,373.93 185.3,373.95 186.1,373.98 186.9,374 187.7,374.02 188.5,374.04 189.3,374.06 190.1,374.09 190.9,374.11 191.7,374.13 192.5,374.15 193.3,374.17 194.1,374.2 194.9,374.22 195.7,374.24 196.5,374.26 197.3,374.28 198.1,374.31 198.9,374.33 199.7,374.35 200.5,374.37 201.3,374.39 202.1,374.42 202.9,374.44 203.7,374.46 204.5,374.48 205.3,374.5 206.1,374.53 206.9,374.55 207.7,374.57 208.5,374.59 209.3,374.62 210.1,374.64 210.9,374.66 211.7,374.68 212.5,374.7 213.3,374.73 214.1,374.75 214.9,374.77 215.7,374.79 216.5,374.81 217.3,374.84 218.1,374.86 218.9,374.88 219.7,374.9 220.5,374.92 221.3,374.95 222.1,374.97 222.9,374.99 223.7,375.01 224.5,375.03 225.3,375.06 226.1,375.08 226.9,375.1 227.7,375.12 228.5,375.14 229.3,375.17 230.1,375.19 230.9,375.21 231.7,375.23 232.5,375.26 233.3,375.28 234.1,375.3 234.9,375.32 235.7,375.34 236.5,375.37 237.3,375.39 238.1,375.41 238.9,375.43 239.7,375.45 240.5,375.48 241.3,375.5 242.1,375.52 242.9,375.54 243.7,375.56 244.5,375.59" fill="none" stroke="#b01010" stroke-width="1.6" stroke-linejoin="round" stroke-linecap="round"/>
<polyline points="35.7,371.88 36.5,371.65 37.3,371.45 38.1,369.87 38.9,371.79 39.7,370 40.5,372.12 41.3,371.9 42.1,372.06 42.9,372.05 43.7,371.68 44.5,371.1 45.3,371.25 46.1,372.52 46.9,371.06 47.7,371.3 48.5,370.95 49.3,371.09 50.1,371.24 50.9,371.63 51.7,371.24 52.5,371.2 53.3,371.01 54.1,371.5 54.9,370.5 55.7,371.47 56.5,372.35 57.3,370.89 58.1,371.4 58.9,373.4 59.7,370.73 60.5,370.29 61.3,371.12 62.1,372.68 62.9,372.84 63.7,370.56 64.5,371.81 65.3,371.41 66.1,370.99 66.9,370.04 67.7,372.12 68.5,370.79 69.3,371.6 70.1,371.45 70.9,372.7 71.7,372.21 72.5,370.58 73.3,371.2 74.1,372.11 74.9,370.44 75.7,371.1 76.5,371.53 77.3,370.24 78.1,370.5 78.9,370.17 79.7,371.56 80.5,370.97 81.3,372.01 82.1,371.43 82.9,371.75 83.7,371.29 84.5,371.87 85.3,371.27 86.1,370.66 86.9,372.17 87.7,372.02 88.5,372.92 89.3,371.23 90.1,370.92 90.9,370.31 91.7,368.62 92.5,370.41 93.3,371.66 94.1,370.7 94.9,369.5 95.7,371.74 96.5,370.9 97.3,371.06 98.1,371 98.9,371.21 99.7,371.63 100.5,370.1 101.3,371.18 102.1,371 102.9,372.17 103.7,370.67 104.5,372.57 105.3,371.87 106.1,372.6 106.9,370.99 107.7,372.07 108.5,371.78 109.3,370.49 110.1,371.38 110.9,371.26 111.7,370.92 112.5,371.07 113.3,370.61 114.1,371.3 114.9,371.87 115.7,371.1 116.5,370.55 117.3,372.38 118.1,371.38 118.9,371.65 119.7,371.45 120.5,371.21 121.3,371.97 122.1,371.14 122.9,371.48 123.7,370.38 124.5,370.17 125.3,370.96 126.1,372.47 126.9,371.14 127.7,372.23 128.5,371.03 129.3,370.86 130.1,369.94 130.9,370.12 131.7,371.15 132.5,370.46 133.3,368.91 134.1,368.72 134.9,369.66 135.7,368.02 136.5,368.65 137.3,366.99 138.1,367.66 138.9,367.87 139.7,366.96 140.5,366.11 141.3,365.58 142.1,364.97 142.9,364.56 143.7,364.95 144.5,364.48 145.3,363.5 146.1,361.89 146.9,361.98 147.7,362.12 148.5,361.53 149.3,360.14 150.1,361.15 150.9,362.11 151.7,359.04 152.5,359.54 153.3,360.23 154.1,358.39 154.9,357.97 155.7,357.92 156.5,357.73 157.3,356.54 158.1,356.97 158.9,354.37 159.7,355.54 160.5,354.67 161.3,353.59 162.1,353.21 162.9,352.17 163.7,352.23 164.5,350.11 165.3,349.52 166.1,347.68 166.9,346.96 167.7,346.7 168.5,344.91 169.3,344.59 170.1,343.5 170.9,343.39 171.7,343.21 172.5,343.28 173.3,340.86 174.1,341.79 174.9,342.37 175.7,342.69 176.5,342.79 177.3,341.01 178.1,341.97 178.9,343.14 179.7,343.9 180.5,344 181.3,344.6 182.1,345.22 182.9,345.14 183.7,346.39 184.5,347.39 185.3,347.04 186.1,348.46 186.9,345.87 187.7,347.72 188.5,349.06 189.3,348.24 190.1,348.22 190.9,346.73 191.7,345.07 192.5,344.66 193.3,345.09 194.1,341.66 194.9,341.14 195.7,339.45 196.5,339.15 197.3,338.15 198.1,337.88 198.9,336.07 199.7,337.2 200.5,336.01 201.3,335.02 202.1,334.7 202.9,334.66 203.7,336.37 204.5,338.52 205.3,338.11 206.1,338.84 206.9,341.06 207.7,342.46 208.5,344.06 209.3,345.35 210.1,348.7 210.9,351.88 211.7,353.8 212.5,355.71 213.3,357.2 214.1,359.32 214.9,361.55 215.7,362.53 216.5,364.36 217.3,365.35 218.1,367.75 218.9,367.5 219.7,369.68 220.5,370.73 221.3,371.52 222.1,372.13 222.9,371.9 223.7,372.33 224.5,372.86 225.3,373.24 226.1,373.01 226.9,373.72 227.7,373.79 228.5,373.73 229.3,374.78 230.1,374.1 230.9,374.9 231.7,375.83 232.5,376.04 233.3,374.92 234.1,375.67 234.9,375.17 235.7,376.7 236.5,376.21 237.3,375.87 238.1,375 238.9,374.96 239.7,375.55 240.5,375.16 241.3,375.04 242.1,375.72 242.9,374.38 243.7,373.87 244.5,374.58 245.3,374.51 246.1,375.31 246.9,374.79 247.7,375.31 248.5,374.06 249.3,376.56 250.1,375.84 250.9,374.99 251.7,375.86 252.5,376.55 253.3,376.31 254.1,375.7 254.9,376.23 255.7,376.46 256.5,375.03 257.3,374.9 258.1,375.54 258.9,376.69 259.7,377.08 260.5,376.17 261.3,377.17 262.1,376.86 262.9,376.14 263.7,375.71 264.5,375.82" fill="none" stroke="#000" stroke-width="1.2" stroke-linejoin="round" stroke-linecap="round"/>
<polyline points="35.7,371.8 36.5,371.79 37.3,371.79 38.1,371.79 38.9,371.79 39.7,371.78 40.5,371.78 41.3,371.78 42.1,371.78 42.9,371.77 43.7,371.77 44.5,371.77 45.3,371.77 46.1,371.77 46.9,371.76 47.7,371.76 48.5,371.76 49.3,371.76 50.1,371.75 50.9,371.75 51.7,371.75 52.5,371.75 53.3,371.74 54.1,371.74 54.9,371.74 55.7,371.74 56.5,371.73 57.3,371.73 58.1,371.73 58.9,371.73 59.7,371.72 60.5,371.72 61.3,371.72 62.1,371.72 62.9,371.71 63.7,371.71 64.5,371.71 65.3,371.71 66.1,371.7 66.9,371.7 67.7,371.7 68.5,371.7 69.3,371.69 70.1,371.69 70.9,371.69 71.7,371.69 72.5,371.68 73.3,371.68 74.1,371.68 74.9,371.68 75.7,371.67 76.5,371.67 77.3,371.67 78.1,371.67 78.9,371.66 79.7,371.66 80.5,371.66 81.3,371.66 82.1,371.65 82.9,371.65 83.7,371.65 84.5,371.65 85.3,371.65 86.1,371.64 86.9,371.64 87.7,371.64 88.5,371.64 89.3,371.63 90.1,371.63 90.9,371.63 91.7,371.63 92.5,371.62 93.3,371.62 94.1,371.62 94.9,371.62 95.7,371.61 96.5,371.61 97.3,371.61 98.1,371.61 98.9,371.6 99.7,371.6 100.5,371.61 101.3,371.63 102.1,371.66 102.9,371.68 103.7,371.7 104.5,371.72 105.3,371.74 106.1,371.76 106.9,371.78 107.7,371.8 108.5,371.82 109.3,371.84 110.1,371.86 110.9,371.88 111.7,371.89 112.5,371.91 113.3,371.92 114.1,371.93 114.9,371.94 115.7,371.95 116.5,371.95 117.3,371.95 118.1,371.94 118.9,371.93 119.7,371.91 120.5,371.88 121.3,371.85 122.1,371.81 122.9,371.76 123.7,371.7 124.5,371.62 125.3,371.53 126.1,371.43 126.9,371.31 127.7,371.17 128.5,371.02 129.3,370.84 130.1,370.65 130.9,370.43 131.7,370.19 132.5,369.93 133.3,369.65 134.1,369.35 134.9,369.02 135.7,368.68 136.5,368.31 137.3,367.93 138.1,367.52 138.9,367.11 139.7,366.68 140.5,366.24 141.3,365.79 142.1,365.33 142.9,364.88 143.7,364.42 144.5,363.97 145.3,363.52 146.1,363.08 146.9,362.64 147.7,362.22 148.5,361.8 149.3,361.39 150.1,360.99 150.9,360.59 151.7,360.19 152.5,359.8 153.3,359.4 154.1,358.98 154.9,358.55 155.7,358.11 156.5,357.63 157.3,357.13 158.1,356.58 158.9,356 159.7,355.38 160.5,354.71 161.3,354 162.1,353.24 162.9,352.44 163.7,351.6 164.5,350.74 165.3,349.85 166.1,348.95 166.9,348.05 167.7,347.16 168.5,346.3 169.3,345.49 170.1,344.72 170.9,344.03 171.7,343.43 172.5,342.92 173.3,342.51 174.1,342.23 174.9,342.06 175.7,342.02 176.5,342.11 177.3,342.31 178.1,342.63 178.9,343.04 179.7,343.54 180.5,344.11 181.3,344.72 182.1,345.35 182.9,345.98 183.7,346.58 184.5,347.12 185.3,347.58 186.1,347.94 186.9,348.16 187.7,348.25 188.5,348.17 189.3,347.93 190.1,347.51 190.9,346.93 191.7,346.2 192.5,345.32 193.3,344.33 194.1,343.25 194.9,342.11 195.7,340.95 196.5,339.82 197.3,338.75 198.1,337.78 198.9,336.95 199.7,336.3 200.5,335.86 201.3,335.65 202.1,335.69 202.9,336.01 203.7,336.58 204.5,337.43 205.3,338.52 206.1,339.86 206.9,341.4 207.7,343.12 208.5,344.99 209.3,346.97 210.1,349.03 210.9,351.14 211.7,353.24 212.5,355.32 213.3,357.35 214.1,359.29 214.9,361.13 215.7,362.86 216.5,364.46 217.3,365.93 218.1,367.25 218.9,368.44 219.7,369.5 220.5,370.42 221.3,371.23 222.1,371.92 222.9,372.52 223.7,373.02 224.5,373.44 225.3,373.79 226.1,374.09 226.9,374.33 227.7,374.52 228.5,374.69 229.3,374.82 230.1,374.93 230.9,375.01 231.7,375.09 232.5,375.15 233.3,375.2 234.1,375.24 234.9,375.28 235.7,375.31 236.5,375.35 237.3,375.37 238.1,375.4 238.9,375.42 239.7,375.45 240.5,375.47 241.3,375.5 242.1,375.52 242.9,375.54 243.7,375.56 244.5,375.59 245.3,375.61 246.1,375.65 246.9,375.69 247.7,375.73 248.5,375.77 249.3,375.81 250.1,375.85 250.9,375.89 251.7,375.93 252.5,375.97 253.3,376.01 254.1,376.05 254.9,376.09 255.7,376.13 256.5,376.17 257.3,376.21 258.1,376.25 258.9,376.29 259.7,376.33 260.5,376.37 261.3,376.41 262.1,376.45 262.9,376.49 263.7,376.53 264.5,376.57" fill="none" stroke="#838a10" stroke-width="1.8" stroke-linejoin="round" stroke-linecap="round"/>
<text x="38.3" y="254.2" font-size="9.5" fill="#000" text-anchor="start">CuO@NC-900</text>
<text x="38.8" y="309.2" font-size="9.5" fill="#000" text-anchor="start">Cu@NC-900</text>
<text x="38.3" y="364.8" font-size="9.5" fill="#000" text-anchor="start">Cu/CuO@NC-900</text>
<text x="118.3" y="223.6" font-size="9" fill="#15907f">H<tspan font-size="6" dy="2.5">2</tspan><tspan dy="-2.5">O</tspan></text>
<text x="116.3" y="238.4" font-size="9" fill="#15907f" text-anchor="start">533.42</text>
<text x="115" y="285.6" font-size="9" fill="#15907f">H<tspan font-size="6" dy="2.5">2</tspan><tspan dy="-2.5">O</tspan></text>
<text x="113" y="299" font-size="9" fill="#15907f" text-anchor="start">533.54</text>
<text x="116.5" y="347.4" font-size="9" fill="#15907f">H<tspan font-size="6" dy="2.5">2</tspan><tspan dy="-2.5">O</tspan></text>
<text x="114.5" y="360.2" font-size="9" fill="#15907f" text-anchor="start">532.97</text>
<text x="189.8" y="222.6" font-size="8.6" fill="#0000ff" text-anchor="start">C-O/C=O</text>
<text x="196.5" y="233.6" font-size="8.9" fill="#0000ff" text-anchor="start">531.85</text>
<text x="224.7" y="245.3" font-size="8.9" fill="#ff0000" text-anchor="start">Cu-O</text>
<text x="223" y="257" font-size="8.9" fill="#ff0000" text-anchor="start">530.51</text>
<text x="196" y="282.2" font-size="8.6" fill="#0000ff" text-anchor="start">C-O/C=O</text>
<text x="202.5" y="292.4" font-size="8.9" fill="#0000ff" text-anchor="start">531.41</text>
<text x="140.1" y="329.8" font-size="8.6" fill="#0000ff" text-anchor="start">C-O/C=O</text>
<text x="147.9" y="340.2" font-size="8.9" fill="#0000ff" text-anchor="start">531.43</text>
<text x="223.7" y="353.7" font-size="8.9" fill="#ff0000" text-anchor="start">Cu-O</text>
<text x="223.2" y="364.8" font-size="8.9" fill="#ff0000" text-anchor="start">529.81</text>
<line x1="131.6" y1="238.6" x2="135.32" y2="243.26" stroke="#15907f" stroke-width="1.0"/>
<polygon points="137.5,246 133.29,244.24 136.73,241.5" fill="#15907f"/>
<line x1="189.8" y1="224.6" x2="179.6" y2="235.45" stroke="#0000ff" stroke-width="1.0"/>
<polygon points="177.2,238 178.34,233.58 181.54,236.59" fill="#0000ff"/>
<line x1="223" y1="247" x2="208.09" y2="252.41" stroke="#ff0000" stroke-width="1.0"/>
<polygon points="204.8,253.6 207.81,250.17 209.31,254.3" fill="#ff0000"/>
<line x1="133.1" y1="298.3" x2="136.72" y2="306.78" stroke="#15907f" stroke-width="1.0"/>
<polygon points="138.1,310 134.51,307.19 138.55,305.46" fill="#15907f"/>
<line x1="199" y1="284.8" x2="191.22" y2="288.12" stroke="#0000ff" stroke-width="1.0"/>
<polygon points="188,289.5 190.81,285.91 192.54,289.95" fill="#0000ff"/>
<line x1="138.8" y1="357.5" x2="145.92" y2="360.17" stroke="#15907f" stroke-width="1.0"/>
<polygon points="149.2,361.4 144.68,362.06 146.23,357.94" fill="#15907f"/>
<line x1="222" y1="350.5" x2="215.19" y2="353.56" stroke="#ff0000" stroke-width="1.0"/>
<polygon points="212,355 214.74,351.35 216.55,355.36" fill="#ff0000"/>
<rect x="298" y="211.1" width="231.1" height="171.7" fill="none" stroke="#000" stroke-width="1.9"/>
<line x1="303.62" y1="382.8" x2="303.62" y2="386.8" stroke="#000" stroke-width="1.6"/>
<text x="303.62" y="397.3" font-size="9.4" fill="#000" text-anchor="middle">965</text>
<line x1="331.75" y1="382.8" x2="331.75" y2="386.8" stroke="#000" stroke-width="1.6"/>
<text x="331.75" y="397.3" font-size="9.4" fill="#000" text-anchor="middle">960</text>
<line x1="359.88" y1="382.8" x2="359.88" y2="386.8" stroke="#000" stroke-width="1.6"/>
<text x="359.88" y="397.3" font-size="9.4" fill="#000" text-anchor="middle">955</text>
<line x1="388" y1="382.8" x2="388" y2="386.8" stroke="#000" stroke-width="1.6"/>
<text x="388" y="397.3" font-size="9.4" fill="#000" text-anchor="middle">950</text>
<line x1="416.12" y1="382.8" x2="416.12" y2="386.8" stroke="#000" stroke-width="1.6"/>
<text x="416.12" y="397.3" font-size="9.4" fill="#000" text-anchor="middle">945</text>
<line x1="444.25" y1="382.8" x2="444.25" y2="386.8" stroke="#000" stroke-width="1.6"/>
<text x="444.25" y="397.3" font-size="9.4" fill="#000" text-anchor="middle">940</text>
<line x1="472.38" y1="382.8" x2="472.38" y2="386.8" stroke="#000" stroke-width="1.6"/>
<text x="472.38" y="397.3" font-size="9.4" fill="#000" text-anchor="middle">935</text>
<line x1="500.5" y1="382.8" x2="500.5" y2="386.8" stroke="#000" stroke-width="1.6"/>
<text x="500.5" y="397.3" font-size="9.4" fill="#000" text-anchor="middle">930</text>
<line x1="528.62" y1="382.8" x2="528.62" y2="386.8" stroke="#000" stroke-width="1.6"/>
<text x="528.62" y="397.3" font-size="9.4" fill="#000" text-anchor="middle">925</text>
<line x1="317.69" y1="382.8" x2="317.69" y2="385.6" stroke="#000" stroke-width="1.5"/>
<line x1="345.81" y1="382.8" x2="345.81" y2="385.6" stroke="#000" stroke-width="1.5"/>
<line x1="373.94" y1="382.8" x2="373.94" y2="385.6" stroke="#000" stroke-width="1.5"/>
<line x1="402.06" y1="382.8" x2="402.06" y2="385.6" stroke="#000" stroke-width="1.5"/>
<line x1="430.19" y1="382.8" x2="430.19" y2="385.6" stroke="#000" stroke-width="1.5"/>
<line x1="458.31" y1="382.8" x2="458.31" y2="385.6" stroke="#000" stroke-width="1.5"/>
<line x1="486.44" y1="382.8" x2="486.44" y2="385.6" stroke="#000" stroke-width="1.5"/>
<line x1="514.56" y1="382.8" x2="514.56" y2="385.6" stroke="#000" stroke-width="1.5"/>
<text x="415.5" y="412.6" font-size="13.1" fill="#000" text-anchor="middle">Binding energy (eV)</text>
<text x="282.3" y="296.5" font-size="13.6" fill="#000" text-anchor="middle" transform="rotate(-90 282.3 296.5)">Intensity (a.u.)</text>
<text x="525.5" y="222.6" font-size="9.3" fill="#000" text-anchor="end">Cu 2p</text>
<polyline points="299,245.56 299.9,245.61 300.8,245.67 301.7,245.72 302.6,245.77 303.5,245.83 304.4,245.88 305.3,245.93 306.2,245.99 307.1,246.04 308,246.09 308.9,246.15 309.8,246.2 310.7,246.26 311.6,246.31 312.5,246.36 313.4,246.42 314.3,246.47 315.2,246.52 316.1,246.58 317,246.63 317.9,246.68 318.8,246.74 319.7,246.79 320.6,246.84 321.5,246.9 322.4,246.95 323.3,247 324.2,247.06 325.1,247.11 326,247.17 326.9,247.22 327.8,247.27 328.7,247.33 329.6,247.38 330.5,247.43 331.4,247.49 332.3,247.54 333.2,247.59 334.1,247.65 335,247.7 335.9,247.75 336.8,247.81 337.7,247.86 338.6,247.91 339.5,247.97 340.4,248.02 341.3,248.08 342.2,248.13 343.1,248.18 344,248.24 344.9,248.29 345.8,248.34 346.7,248.4 347.6,248.45 348.5,248.5 349.4,248.56 350.3,248.61 351.2,248.66 352.1,248.72 353,248.77 353.9,248.83 354.8,248.88 355.7,248.93 356.6,248.99 357.5,249.04 358.4,249.09 359.3,249.15 360.2,249.2 361.1,249.25 362,249.31 362.9,249.36 363.8,249.41 364.7,249.47 365.6,249.52 366.5,249.57 367.4,249.63 368.3,249.68 369.2,249.74 370.1,249.79 371,249.84 371.9,249.9 372.8,249.95 373.7,250 374.6,250.06 375.5,250.11 376.4,250.16 377.3,250.22 378.2,250.27 379.1,250.32 380,250.38 380.9,250.43 381.8,250.48 382.7,250.54 383.6,250.59 384.5,250.65 385.4,250.7 386.3,250.75 387.2,250.81 388.1,250.86 389,250.91 389.9,250.97 390.8,251.02 391.7,251.07 392.6,251.13 393.5,251.18 394.4,251.23 395.3,251.29 396.2,251.34 397.1,251.39 398,251.45 398.9,251.5 399.8,251.56 400.7,251.61 401.6,251.66 402.5,251.72 403.4,251.77 404.3,251.82 405.2,251.88 406.1,251.93 407,251.98 407.9,252.04 408.8,252.09 409.7,252.14 410.6,252.2 411.5,252.25 412.4,252.3 413.3,252.36 414.2,252.4 415.1,252.42 416,252.44 416.9,252.46 417.8,252.48 418.7,252.5 419.6,252.52 420.5,252.54 421.4,252.55 422.3,252.57 423.2,252.59 424.1,252.61 425,252.63 425.9,252.65 426.8,252.67 427.7,252.69 428.6,252.7 429.5,252.72 430.4,252.74 431.3,252.76 432.2,252.78 433.1,252.8 434,252.82 434.9,252.84 435.8,252.85 436.7,252.87 437.6,252.89 438.5,252.91 439.4,252.93 440.3,252.95 441.2,252.97 442.1,252.99 443,253 443.9,253.02 444.8,253.04 445.7,253.06 446.6,253.08 447.5,253.1 448.4,253.12 449.3,253.14 450.2,253.15 451.1,253.17 452,253.19 452.9,253.21 453.8,253.23 454.7,253.25 455.6,253.27 456.5,253.3 457.4,253.32 458.3,253.35 459.2,253.38 460.1,253.42 461,253.46 461.9,253.51 462.8,253.56 463.7,253.62 464.6,253.69 465.5,253.79 466.4,253.91 467.3,254.06 468.2,254.25 469.1,254.47 470,254.73 470.9,255.03 471.8,255.37 472.7,255.76 473.6,256.18 474.5,256.64 475.4,257.13 476.3,257.64 477.2,258.17 478.1,258.71 479,259.25 479.9,259.77 480.8,260.28 481.7,260.77 482.6,261.22 483.5,261.63 484.4,262.01 485.3,262.34 486.2,262.63 487.1,262.88 488,263.1 488.9,263.27 489.8,263.42 490.7,263.53 491.6,263.63 492.5,263.7 493.4,263.75 494.3,263.8 495.2,263.83 496.1,263.85 497,263.87 497.9,263.88 498.8,263.88 499.7,263.89" fill="none" stroke="#2222b4" stroke-width="1.5" stroke-linejoin="round" stroke-linecap="round"/>
<polyline points="347.6,248.18 348.5,248.12 349.4,248.02 350.3,247.88 351.2,247.68 352.1,247.42 353,247.1 353.9,246.71 354.8,246.25 355.7,245.73 356.6,245.16 357.5,244.56 358.4,243.94 359.3,243.34 360.2,242.77 361.1,242.28 362,241.88 362.9,241.6 363.8,241.46 364.7,241.47 365.6,241.63 366.5,241.94 367.4,242.39 368.3,242.94 369.2,243.58 370.1,244.27 371,244.99 371.9,245.71 372.8,246.41 373.7,247.06 374.6,247.66 375.5,248.2 376.4,248.67 377.3,249.07 378.2,249.4 379.1,249.68 380,249.91 380.9,250.1 381.8,250.25" fill="none" stroke="#15907f" stroke-width="1.3" stroke-linejoin="round" stroke-linecap="round"/>
<polyline points="358.4,248.86 359.3,248.8 360.2,248.7 361.1,248.55 362,248.35 362.9,248.09 363.8,247.77 364.7,247.4 365.6,246.98 366.5,246.54 367.4,246.1 368.3,245.69 369.2,245.34 370.1,245.08 371,244.92 371.9,244.9 372.8,245 373.7,245.24 374.6,245.58 375.5,246.03 376.4,246.53 377.3,247.07 378.2,247.62 379.1,248.15 380,248.64 380.9,249.08 381.8,249.46 382.7,249.78 383.6,250.05 384.5,250.27 385.4,250.44" fill="none" stroke="#f7931e" stroke-width="1.3" stroke-linejoin="round" stroke-linecap="round"/>
<polyline points="410.6,251.92 411.5,251.83 412.4,251.67 413.3,251.44 414.2,251.13 415.1,250.7 416,250.19 416.9,249.61 417.8,248.99 418.7,248.35 419.6,247.76 420.5,247.24 421.4,246.85 422.3,246.63 423.2,246.6 424.1,246.75 425,247.09 425.9,247.58 426.8,248.17 427.7,248.83 428.6,249.5 429.5,250.15 430.4,250.73 431.3,251.25 432.2,251.68 433.1,252.02 434,252.28 434.9,252.48 435.8,252.63" fill="none" stroke="#33e6ff" stroke-width="1.3" stroke-linejoin="round" stroke-linecap="round"/>
<polyline points="423.2,252.28 424.1,252.15 425,251.95 425.9,251.69 426.8,251.36 427.7,250.96 428.6,250.5 429.5,249.99 430.4,249.47 431.3,248.96 432.2,248.5 433.1,248.15 434,247.92 434.9,247.84 435.8,247.92 436.7,248.15 437.6,248.52 438.5,249 439.4,249.53 440.3,250.1 441.2,250.65 442.1,251.16 443,251.61 443.9,252 444.8,252.31 445.7,252.55 446.6,252.74 447.5,252.88" fill="none" stroke="#33e6ff" stroke-width="1.3" stroke-linejoin="round" stroke-linecap="round"/>
<polyline points="455.6,253.01 456.5,252.9 457.4,252.72 458.3,252.47 459.2,252.12 460.1,251.64 461,251 461.9,250.19 462.8,249.17 463.7,247.93 464.6,246.49 465.5,244.84 466.4,243.03 467.3,241.11 468.2,239.15 469.1,237.23 470,235.47 470.9,233.95 471.8,232.79 472.7,232.06 473.6,231.84 474.5,232.15 475.4,233.01 476.3,234.38 477.2,236.21 478.1,238.41 479,240.86 479.9,243.48 480.8,246.14 481.7,248.75 482.6,251.22 483.5,253.48 484.4,255.51 485.3,257.26 486.2,258.75 487.1,259.98 488,260.96 488.9,261.74 489.8,262.34 490.7,262.79 491.6,263.13 492.5,263.37 493.4,263.54" fill="none" stroke="#15907f" stroke-width="1.3" stroke-linejoin="round" stroke-linecap="round"/>
<polyline points="469.1,254.22 470,254.33 470.9,254.42 471.8,254.45 472.7,254.4 473.6,254.23 474.5,253.93 475.4,253.45 476.3,252.78 477.2,251.92 478.1,250.89 479,249.71 479.9,248.46 480.8,247.21 481.7,246.06 482.6,245.12 483.5,244.47 484.4,244.2 485.3,244.34 486.2,244.93 487.1,245.93 488,247.28 488.9,248.92 489.8,250.73 490.7,252.62 491.6,254.48 492.5,256.24 493.4,257.83 494.3,259.22 495.2,260.38 496.1,261.32 497,262.06 497.9,262.62 498.8,263.04 499.7,263.33 500.6,263.54 501.5,263.67" fill="none" stroke="#f7931e" stroke-width="1.3" stroke-linejoin="round" stroke-linecap="round"/>
<polyline points="299,244.88 299.9,245.88 300.8,246.38 301.7,243.98 302.6,246.51 303.5,245.62 304.4,246.24 305.3,245.24 306.2,246.27 307.1,242.74 308,246.36 308.9,244.98 309.8,241.7 310.7,242.98 311.6,242.04 312.5,238.16 313.4,241.13 314.3,238.9 315.2,239.07 316.1,238.36 317,238.59 317.9,239.47 318.8,239.81 319.7,237.76 320.6,240.26 321.5,239.29 322.4,240.11 323.3,242.22 324.2,244.74 325.1,245.08 326,243.86 326.9,244.26 327.8,244.57 328.7,246.43 329.6,247.97 330.5,246.87 331.4,248.11 332.3,247.73 333.2,249.66 334.1,244.51 335,244.42 335.9,247.4 336.8,248.73 337.7,247.22 338.6,248.54 339.5,246.2 340.4,246.12 341.3,246.99 342.2,249.37 343.1,249.19 344,247.11 344.9,248.48 345.8,247.24 346.7,248.24 347.6,246.51 348.5,248.05 349.4,246.91 350.3,247.81 351.2,246.7 352.1,246.18 353,247.26 353.9,246.18 354.8,246.25 355.7,245.04 356.6,245.98 357.5,243.18 358.4,244.86 359.3,244.99 360.2,241.87 361.1,244.19 362,243.97 362.9,240.99 363.8,237.78 364.7,236.98 365.6,238.84 366.5,241.59 367.4,239.74 368.3,240.11 369.2,238.84 370.1,238.48 371,240.69 371.9,239.12 372.8,241.27 373.7,243.2 374.6,243.42 375.5,245.12 376.4,244.65 377.3,247.18 378.2,247.81 379.1,245.59 380,247.29 380.9,248.49 381.8,251.2 382.7,251.26 383.6,251.76 384.5,252.08 385.4,253.23 386.3,254.12 387.2,252.28 388.1,251.12 389,254.9 389.9,253.96 390.8,254.71 391.7,254.72 392.6,253.63 393.5,253.32 394.4,257.29 395.3,257.71 396.2,257.64 397.1,256.68 398,256.85 398.9,255.85 399.8,256.56 400.7,255.78 401.6,255.46 402.5,256.43 403.4,258.49 404.3,252.91 405.2,256.4 406.1,256.26 407,253.16 407.9,255.17 408.8,254.57 409.7,253.42 410.6,253.05 411.5,251.34 412.4,255.62 413.3,256.14 414.2,254.5 415.1,251.09 416,251.29 416.9,250.72 417.8,248.2 418.7,248.3 419.6,248.79 420.5,246.75 421.4,244.26 422.3,244.66 423.2,246.77 424.1,245.86 425,246.02 425.9,248.7 426.8,247.03 427.7,246.05 428.6,247.21 429.5,250.66 430.4,245.78 431.3,250.13 432.2,249.57 433.1,247.13 434,246.88 434.9,249.61 435.8,248.06 436.7,247.22 437.6,251.17 438.5,249.21 439.4,250.01 440.3,250.14 441.2,250.19 442.1,251.34 443,251.06 443.9,252.76 444.8,253.89 445.7,254.18 446.6,254.53 447.5,255.12 448.4,254.12 449.3,252.14 450.2,254.54 451.1,250.65 452,252.07 452.9,253.58 453.8,250.6 454.7,255.29 455.6,251.49 456.5,250.65 457.4,251.58 458.3,251.33 459.2,252.08 460.1,251.4 461,252.55 461.9,249.94 462.8,249.43 463.7,246.44 464.6,247.22 465.5,243.65 466.4,240.06 467.3,242.98 468.2,237.41 469.1,235.35 470,233.76 470.9,234.31 471.8,229.58 472.7,230.1 473.6,230.75 474.5,232.29 475.4,228.9 476.3,229.61 477.2,228.66 478.1,233.55 479,231.12 479.9,232.07 480.8,233.29 481.7,232.67 482.6,235.1 483.5,234.43 484.4,239.93 485.3,239.04 486.2,240.8 487.1,244.77 488,243.33 488.9,249.49 489.8,251.94 490.7,250.72 491.6,255.02 492.5,255.76 493.4,258.94 494.3,259.14 495.2,258.95 496.1,262.21 497,261.71 497.9,262.88 498.8,264.49 499.7,265.15 500.6,264.48 501.5,261.54 502.4,264.8 503.3,263.37 504.2,265.46 505.1,263.58 506,266.02 506.9,264.66 507.8,263.9 508.7,264.34 509.6,261.25 510.5,264.76 511.4,264.07 512.3,262.25 513.2,264.51 514.1,264.38 515,264.44 515.9,263.73 516.8,265.08 517.7,265.1 518.6,264.04 519.5,263.81 520.4,263.22 521.3,263.01 522.2,264.82 523.1,263.08 524,261.78 524.9,264.27 525.8,265.56 526.7,263.49 527.6,265.2 528.5,264.62" fill="none" stroke="#000" stroke-width="1.2" stroke-linejoin="round" stroke-linecap="round"/>
<polyline points="299,245.48 299.9,245.49 300.8,245.47 301.7,245.43 302.6,245.36 303.5,245.24 304.4,245.06 305.3,244.83 306.2,244.52 307.1,244.14 308,243.69 308.9,243.17 309.8,242.6 310.7,241.99 311.6,241.37 312.5,240.78 313.4,240.24 314.3,239.78 315.2,239.45 316.1,239.26 317,239.23 317.9,239.37 318.8,239.66 319.7,240.1 320.6,240.66 321.5,241.31 322.4,242.02 323.3,242.74 324.2,243.46 325.1,244.14 326,244.76 326.9,245.32 327.8,245.81 328.7,246.22 329.6,246.56 330.5,246.84 331.4,247.07 332.3,247.25 333.2,247.4 334.1,247.52 335,247.62 335.9,247.7 336.8,247.78 337.7,247.84 338.6,247.9 339.5,247.96 340.4,248.01 341.3,248.06 342.2,248.11 343.1,248.15 344,248.18 344.9,248.2 345.8,248.22 346.7,248.21 347.6,248.18 348.5,248.12 349.4,248.02 350.3,247.87 351.2,247.67 352.1,247.41 353,247.09 353.9,246.69 354.8,246.21 355.7,245.67 356.6,245.06 357.5,244.4 358.4,243.71 359.3,242.99 360.2,242.27 361.1,241.57 362,240.92 362.9,240.33 363.8,239.81 364.7,239.4 365.6,239.09 366.5,238.91 367.4,238.86 368.3,238.95 369.2,239.18 370.1,239.56 371,240.07 371.9,240.71 372.8,241.46 373.7,242.3 374.6,243.19 375.5,244.12 376.4,245.04 377.3,245.92 378.2,246.75 379.1,247.51 380,248.18 380.9,248.75 381.8,249.23 382.7,249.63 383.6,249.94 384.5,250.2 385.4,250.4 386.3,250.55 387.2,250.68 388.1,250.78 389,250.86 389.9,250.94 390.8,251 391.7,251.06 392.6,251.12 393.5,251.18 394.4,251.23 395.3,251.29 396.2,251.34 397.1,251.39 398,251.45 398.9,251.5 399.8,251.56 400.7,251.61 401.6,251.66 402.5,251.71 403.4,251.77 404.3,251.82 405.2,251.87 406.1,251.91 407,251.95 407.9,251.97 408.8,251.98 409.7,251.97 410.6,251.92 411.5,251.83 412.4,251.67 413.3,251.44 414.2,251.13 415.1,250.7 416,250.19 416.9,249.6 417.8,248.97 418.7,248.33 419.6,247.71 420.5,247.17 421.4,246.73 422.3,246.43 423.2,246.29 424.1,246.29 425,246.41 425.9,246.62 426.8,246.87 427.7,247.11 428.6,247.3 429.5,247.42 430.4,247.46 431.3,247.45 432.2,247.4 433.1,247.37 434,247.38 434.9,247.48 435.8,247.69 436.7,248.01 437.6,248.44 438.5,248.95 439.4,249.51 440.3,250.08 441.2,250.64 442.1,251.16 443,251.61 443.9,252 444.8,252.31 445.7,252.55 446.6,252.74 447.5,252.88 448.4,252.97 449.3,253.04 450.2,253.09 451.1,253.12 452,253.14 452.9,253.14 453.8,253.12 454.7,253.08 455.6,253.01 456.5,252.9 457.4,252.72 458.3,252.47 459.2,252.12 460.1,251.64 461,251 461.9,250.19 462.8,249.17 463.7,247.93 464.6,246.47 465.5,244.81 466.4,242.98 467.3,241.02 468.2,239 469.1,236.99 470,235.07 470.9,233.34 471.8,231.86 472.7,230.7 473.6,229.89 474.5,229.44 475.4,229.33 476.3,229.52 477.2,229.96 478.1,230.58 479,231.33 479.9,232.17 480.8,233.07 481.7,234.05 482.6,235.12 483.5,236.32 484.4,237.7 485.3,239.27 486.2,241.04 487.1,243.02 488,245.15 488.9,247.39 489.8,249.65 490.7,251.88 491.6,253.98 492.5,255.91 493.4,257.62 494.3,259.08 495.2,260.3 496.1,261.27 497,262.03 497.9,263.54 498.8,262.59 499.7,264.42 500.6,263.2 501.5,264.34 502.4,264.43 503.3,263.94 504.2,264.45 505.1,264.18 506,265.6 506.9,265.82 507.8,263.65 508.7,264.32 509.6,264.85 510.5,264.38 511.4,265.51 512.3,266.04 513.2,262.34 514.1,263.49 515,265 515.9,264.36 516.8,263.36 517.7,263.74 518.6,264.04 519.5,265.26 520.4,263.17 521.3,264.1 522.2,265.12 523.1,264.78 524,263.83 524.9,263.71 525.8,262.5 526.7,262.56 527.6,263.22 528.5,264.6" fill="none" stroke="#ff0000" stroke-width="1.9" stroke-linejoin="round" stroke-linecap="round"/>
<polyline points="299,302.76 299.9,302.82 300.8,302.88 301.7,302.94 302.6,303 303.5,303.06 304.4,303.12 305.3,303.17 306.2,303.23 307.1,303.29 308,303.35 308.9,303.41 309.8,303.47 310.7,303.53 311.6,303.58 312.5,303.64 313.4,303.7 314.3,303.76 315.2,303.82 316.1,303.88 317,303.93 317.9,303.99 318.8,304.05 319.7,304.11 320.6,304.17 321.5,304.23 322.4,304.29 323.3,304.34 324.2,304.4 325.1,304.46 326,304.52 326.9,304.58 327.8,304.64 328.7,304.7 329.6,304.75 330.5,304.81 331.4,304.87 332.3,304.93 333.2,304.99 334.1,305.05 335,305.1 335.9,305.16 336.8,305.22 337.7,305.28 338.6,305.34 339.5,305.4 340.4,305.46 341.3,305.51 342.2,305.57 343.1,305.63 344,305.69 344.9,305.75 345.8,305.81 346.7,305.87 347.6,305.92 348.5,305.98 349.4,306.04 350.3,306.1 351.2,306.16 352.1,306.22 353,306.27 353.9,306.33 354.8,306.39 355.7,306.45 356.6,306.51 357.5,306.57 358.4,306.63 359.3,306.68 360.2,306.74 361.1,306.8 362,306.86 362.9,306.92 363.8,306.98 364.7,307.04 365.6,307.09 366.5,307.15 367.4,307.21 368.3,307.27 369.2,307.33 370.1,307.39 371,307.44 371.9,307.5 372.8,307.56 373.7,307.62 374.6,307.68 375.5,307.74 376.4,307.8 377.3,307.85 378.2,307.91 379.1,307.97 380,308.03 380.9,308.09 381.8,308.15 382.7,308.21 383.6,308.26 384.5,308.32 385.4,308.38 386.3,308.44 387.2,308.5 388.1,308.56 389,308.61 389.9,308.67 390.8,308.73 391.7,308.79 392.6,308.85 393.5,308.91 394.4,308.97 395.3,309.02 396.2,309.08 397.1,309.14 398,309.2 398.9,309.26 399.8,309.32 400.7,309.38 401.6,309.43 402.5,309.49 403.4,309.55 404.3,309.61 405.2,309.67 406.1,309.73 407,309.78 407.9,309.84 408.8,309.9 409.7,309.96 410.6,310.02 411.5,310.08 412.4,310.14 413.3,310.19 414.2,310.25 415.1,310.31 416,310.37 416.9,310.43 417.8,310.49 418.7,310.5 419.6,310.5 420.5,310.5 421.4,310.5 422.3,310.5 423.2,310.5 424.1,310.5 425,310.5 425.9,310.5 426.8,310.5 427.7,310.5 428.6,310.5 429.5,310.5 430.4,310.5 431.3,310.5 432.2,310.5 433.1,310.5 434,310.5 434.9,310.5 435.8,310.5 436.7,310.5 437.6,310.5 438.5,310.5 439.4,310.5 440.3,310.5 441.2,310.5 442.1,310.5 443,310.5 443.9,310.5 444.8,310.5 445.7,310.5 446.6,310.5 447.5,310.5 448.4,310.5 449.3,310.5 450.2,310.5 451.1,310.5 452,310.5 452.9,310.5 453.8,310.5 454.7,310.5 455.6,310.5 456.5,310.51 457.4,310.51 458.3,310.51 459.2,310.52 460.1,310.53 461,310.55 461.9,310.57 462.8,310.6 463.7,310.64 464.6,310.69 465.5,310.76 466.4,310.84 467.3,310.95 468.2,311.08 469.1,311.25 470,311.44 470.9,311.67 471.8,311.94 472.7,312.25 473.6,312.59 474.5,312.97 475.4,313.38 476.3,313.82 477.2,314.29 478.1,314.76 479,315.25 479.9,315.74 480.8,316.21 481.7,316.68 482.6,317.12 483.5,317.53 484.4,317.91 485.3,318.25 486.2,318.56 487.1,318.83 488,319.06 488.9,319.25 489.8,319.42 490.7,319.55 491.6,319.66 492.5,319.74 493.4,319.81 494.3,319.86 495.2,319.9 496.1,319.93 497,319.95 497.9,319.97 498.8,319.98 499.7,319.99" fill="none" stroke="#2222b4" stroke-width="1.5" stroke-linejoin="round" stroke-linecap="round"/>
<polyline points="348.5,305.7 349.4,305.61 350.3,305.45 351.2,305.21 352.1,304.88 353,304.45 353.9,303.92 354.8,303.31 355.7,302.63 356.6,301.92 357.5,301.24 358.4,300.64 359.3,300.17 360.2,299.88 361.1,299.8 362,299.95 362.9,300.31 363.8,300.86 364.7,301.56 365.6,302.34 366.5,303.16 367.4,303.97 368.3,304.72 369.2,305.38 370.1,305.95 371,306.42 371.9,306.79 372.8,307.09 373.7,307.31" fill="none" stroke="#15907f" stroke-width="1.3" stroke-linejoin="round" stroke-linecap="round"/>
<polyline points="358.4,306.4 359.3,306.33 360.2,306.21 361.1,306.01 362,305.74 362.9,305.36 363.8,304.87 364.7,304.29 365.6,303.61 366.5,302.86 367.4,302.08 368.3,301.32 369.2,300.63 370.1,300.07 371,299.69 371.9,299.53 372.8,299.6 373.7,299.91 374.6,300.42 375.5,301.12 376.4,301.93 377.3,302.82 378.2,303.71 379.1,304.57 380,305.36 380.9,306.05 381.8,306.64 382.7,307.12 383.6,307.51 384.5,307.81 385.4,308.05 386.3,308.23" fill="none" stroke="#f7931e" stroke-width="1.3" stroke-linejoin="round" stroke-linecap="round"/>
<polyline points="410.6,309.72 411.5,309.63 412.4,309.49 413.3,309.28 414.2,309 415.1,308.64 416,308.19 416.9,307.67 417.8,307.08 418.7,306.41 419.6,305.72 420.5,305.06 421.4,304.47 422.3,303.99 423.2,303.66 424.1,303.51 425,303.54 425.9,303.76 426.8,304.14 427.7,304.65 428.6,305.27 429.5,305.95 430.4,306.64 431.3,307.31 432.2,307.94 433.1,308.5 434,308.97 434.9,309.37 435.8,309.68 436.7,309.93 437.6,310.11 438.5,310.24" fill="none" stroke="#33e6ff" stroke-width="1.3" stroke-linejoin="round" stroke-linecap="round"/>
<polyline points="426.8,310.25 427.7,310.12 428.6,309.94 429.5,309.7 430.4,309.4 431.3,309.04 432.2,308.62 433.1,308.15 434,307.66 434.9,307.18 435.8,306.74 436.7,306.38 437.6,306.13 438.5,306.01 439.4,306.03 440.3,306.2 441.2,306.49 442.1,306.88 443,307.34 443.9,307.83 444.8,308.31 445.7,308.76 446.6,309.17 447.5,309.51 448.4,309.79 449.3,310 450.2,310.17 451.1,310.28" fill="none" stroke="#0000ff" stroke-width="1.3" stroke-linejoin="round" stroke-linecap="round"/>
<polyline points="459.2,310.31 460.1,310.16 461,309.92 461.9,309.54 462.8,308.97 463.7,308.18 464.6,307.1 465.5,305.73 466.4,304.05 467.3,302.13 468.2,300.06 469.1,297.98 470,296.08 470.9,294.55 471.8,293.58 472.7,293.29 473.6,293.75 474.5,294.96 475.4,296.8 476.3,299.13 477.2,301.76 478.1,304.49 479,307.13 479.9,309.57 480.8,311.7 481.7,313.5 482.6,314.96 483.5,316.12 484.4,317.03 485.3,317.72 486.2,318.25" fill="none" stroke="#15907f" stroke-width="1.3" stroke-linejoin="round" stroke-linecap="round"/>
<polyline points="471.8,311.6 472.7,311.66 473.6,311.62 474.5,311.43 475.4,311 476.3,310.27 477.2,309.17 478.1,307.63 479,305.64 479.9,303.22 480.8,300.46 481.7,297.49 482.6,294.53 483.5,291.83 484.4,289.63 485.3,288.17 486.2,287.62 487.1,288.06 488,289.48 488.9,291.76 489.8,294.71 490.7,298.08 491.6,301.62 492.5,305.1 493.4,308.31 494.3,311.13 495.2,313.49 496.1,315.38 497,316.83 497.9,317.9 498.8,318.65 499.7,319.16 500.6,319.5 501.5,319.71" fill="none" stroke="#f7931e" stroke-width="1.3" stroke-linejoin="round" stroke-linecap="round"/>
<polyline points="299,304.09 299.9,303.88 300.8,302.73 301.7,303.72 302.6,301.7 303.5,299.8 304.4,304.86 305.3,302.74 306.2,298.49 307.1,299.42 308,299.37 308.9,299.95 309.8,300.47 310.7,297.92 311.6,295.78 312.5,296.18 313.4,294.34 314.3,294.37 315.2,292.78 316.1,291.95 317,295.97 317.9,294.1 318.8,295.48 319.7,295.24 320.6,296.19 321.5,297.3 322.4,299.52 323.3,300.93 324.2,300.34 325.1,298.97 326,304.18 326.9,301.36 327.8,301.63 328.7,299.54 329.6,300.21 330.5,301.78 331.4,298.62 332.3,300.51 333.2,302.75 334.1,306.29 335,303.79 335.9,302.06 336.8,302.21 337.7,305.87 338.6,303.49 339.5,304.44 340.4,308.1 341.3,305.41 342.2,304.91 343.1,304.37 344,307.61 344.9,307.67 345.8,304.72 346.7,303.63 347.6,305.57 348.5,307.77 349.4,306.29 350.3,303.63 351.2,305.71 352.1,306.03 353,304.4 353.9,304.16 354.8,303.28 355.7,301.82 356.6,300.85 357.5,299.05 358.4,298.62 359.3,297.21 360.2,300 361.1,299.73 362,298.9 362.9,299.39 363.8,298.82 364.7,297.64 365.6,299.11 366.5,298.34 367.4,298.48 368.3,295.59 369.2,297.83 370.1,299.21 371,298.08 371.9,297.48 372.8,296.62 373.7,298.53 374.6,302.3 375.5,300.01 376.4,303.4 377.3,302.02 378.2,305.25 379.1,303.74 380,305.93 380.9,307.05 381.8,307.62 382.7,305.81 383.6,307.14 384.5,306.7 385.4,308.1 386.3,308.06 387.2,308.38 388.1,309.87 389,307.56 389.9,308.11 390.8,308.6 391.7,309.28 392.6,308.6 393.5,310.74 394.4,308.5 395.3,312.93 396.2,310.49 397.1,312.31 398,309.03 398.9,310.28 399.8,311.02 400.7,313.54 401.6,311.09 402.5,313.18 403.4,309.9 404.3,313.2 405.2,309.9 406.1,308.2 407,307.85 407.9,311.04 408.8,310.31 409.7,310.89 410.6,310.27 411.5,310.94 412.4,312.42 413.3,309.4 414.2,309.77 415.1,308.35 416,305.85 416.9,307.46 417.8,309.51 418.7,305.34 419.6,309.31 420.5,306.02 421.4,305.26 422.3,305.5 423.2,303.76 424.1,303.63 425,305.55 425.9,302.62 426.8,303.77 427.7,302.6 428.6,304.98 429.5,309.83 430.4,307.44 431.3,304.56 432.2,303.51 433.1,307.1 434,307.3 434.9,305.25 435.8,308.05 436.7,306.56 437.6,306.93 438.5,307.02 439.4,307.65 440.3,305.56 441.2,305.52 442.1,309.03 443,307.24 443.9,306.13 444.8,309 445.7,308.21 446.6,309.8 447.5,314.41 448.4,312.63 449.3,309.5 450.2,308.49 451.1,310.43 452,309.09 452.9,310.93 453.8,311.05 454.7,311.62 455.6,310.64 456.5,308.56 457.4,310.4 458.3,310.67 459.2,310.82 460.1,312.13 461,308.53 461.9,309.46 462.8,308.24 463.7,307.07 464.6,308.2 465.5,304.93 466.4,307.08 467.3,298.49 468.2,302.4 469.1,297.69 470,294.24 470.9,294.73 471.8,293.53 472.7,294.27 473.6,294.76 474.5,292.36 475.4,294.52 476.3,296.19 477.2,297.04 478.1,296.94 479,299.66 479.9,297.6 480.8,294.05 481.7,294.82 482.6,292.1 483.5,290.08 484.4,290.1 485.3,288.7 486.2,287.83 487.1,288.61 488,290.79 488.9,290.88 489.8,294.92 490.7,300.05 491.6,300.81 492.5,304.48 493.4,307.45 494.3,312.77 495.2,312.84 496.1,317.05 497,316.27 497.9,318.25 498.8,319.17 499.7,318.42 500.6,318.04 501.5,321.19 502.4,319.28 503.3,320.72 504.2,320.98 505.1,317.84 506,321.87 506.9,320.22 507.8,319.57 508.7,319.47 509.6,319.31 510.5,320.41 511.4,323.16 512.3,319.88 513.2,318.37 514.1,319.66 515,323.18 515.9,320.17 516.8,322.97 517.7,318.91 518.6,318.89 519.5,318.33 520.4,318.62 521.3,319.94 522.2,320.21 523.1,317.38 524,318.46 524.9,318.81 525.8,319.41 526.7,322.02 527.6,322.24 528.5,320.6" fill="none" stroke="#000" stroke-width="1.2" stroke-linejoin="round" stroke-linecap="round"/>
<polyline points="299,302.73 299.9,302.76 300.8,302.76 301.7,302.74 302.6,302.68 303.5,302.55 304.4,302.34 305.3,302.02 306.2,301.59 307.1,301.01 308,300.29 308.9,299.44 309.8,298.48 310.7,297.46 311.6,296.43 312.5,295.48 313.4,294.67 314.3,294.09 315.2,293.78 316.1,293.77 317,294.04 317.9,294.58 318.8,295.3 319.7,296.14 320.6,297.01 321.5,297.83 322.4,298.54 323.3,299.11 324.2,299.52 325.1,299.8 326,299.98 326.9,300.1 327.8,300.22 328.7,300.36 329.6,300.57 330.5,300.86 331.4,301.23 332.3,301.67 333.2,302.16 334.1,302.66 335,303.15 335.9,303.62 336.8,304.04 337.7,304.4 338.6,304.71 339.5,304.96 340.4,305.16 341.3,305.32 342.2,305.45 343.1,305.55 344,305.63 344.9,305.69 345.8,305.73 346.7,305.75 347.6,305.75 348.5,305.7 349.4,305.61 350.3,305.45 351.2,305.21 352.1,304.88 353,304.44 353.9,303.91 354.8,303.28 355.7,302.58 356.6,301.84 357.5,301.1 358.4,300.42 359.3,299.82 360.2,299.35 361.1,299.02 362,298.82 362.9,298.75 363.8,298.76 364.7,298.81 365.6,298.85 366.5,298.87 367.4,298.83 368.3,298.76 369.2,298.68 370.1,298.64 371,298.67 371.9,298.82 372.8,299.12 373.7,299.6 374.6,300.23 375.5,301 376.4,301.86 377.3,302.78 378.2,303.69 379.1,304.56 380,305.35 380.9,306.05 381.8,306.64 382.7,307.12 383.6,307.51 384.5,307.81 385.4,308.05 386.3,308.23 387.2,308.37 388.1,308.48 389,308.57 389.9,308.65 390.8,308.72 391.7,308.78 392.6,308.85 393.5,308.91 394.4,308.97 395.3,309.02 396.2,309.08 397.1,309.14 398,309.2 398.9,309.26 399.8,309.32 400.7,309.37 401.6,309.43 402.5,309.49 403.4,309.55 404.3,309.6 405.2,309.65 406.1,309.7 407,309.74 407.9,309.77 408.8,309.78 409.7,309.76 410.6,309.72 411.5,309.63 412.4,309.49 413.3,309.28 414.2,309 415.1,308.64 416,308.19 416.9,307.67 417.8,307.08 418.7,306.41 419.6,305.71 420.5,305.05 421.4,304.46 422.3,303.97 423.2,303.63 424.1,303.45 425,303.44 425.9,303.59 426.8,303.88 427.7,304.27 428.6,304.71 429.5,305.15 430.4,305.54 431.3,305.85 432.2,306.06 433.1,306.15 434,306.14 434.9,306.05 435.8,305.92 436.7,305.81 437.6,305.73 438.5,305.75 439.4,305.86 440.3,306.09 441.2,306.42 442.1,306.84 443,307.31 443.9,307.81 444.8,308.3 445.7,308.76 446.6,309.17 447.5,309.51 448.4,309.79 449.3,310 450.2,310.17 451.1,310.28 452,310.36 452.9,310.42 453.8,310.45 454.7,310.47 455.6,310.47 456.5,310.47 457.4,310.44 458.3,310.4 459.2,310.31 460.1,310.16 461,309.92 461.9,309.54 462.8,308.97 463.7,308.17 464.6,307.1 465.5,305.72 466.4,304.05 467.3,302.12 468.2,300.03 469.1,297.93 470,295.98 470.9,294.36 471.8,293.23 472.7,292.7 473.6,292.78 474.5,293.41 475.4,294.42 476.3,295.58 477.2,296.64 478.1,297.36 479,297.53 479.9,297.05 480.8,295.94 481.7,294.31 482.6,292.38 483.5,290.42 484.4,288.75 485.3,287.63 486.2,287.31 487.1,287.88 488,289.38 488.9,291.71 489.8,294.68 490.7,298.07 491.6,301.62 492.5,305.09 493.4,308.31 494.3,311.13 495.2,313.49 496.1,315.38 497,316.83 497.9,317.82 498.8,318.66 499.7,319.44 500.6,319.34 501.5,319.57 502.4,320.61 503.3,320.96 504.2,320.14 505.1,320.42 506,320.63 506.9,319.85 507.8,319.54 508.7,318.95 509.6,319.64 510.5,321.3 511.4,319.48 512.3,319.03 513.2,319.87 514.1,320.23 515,320.34 515.9,319.32 516.8,320.37 517.7,319.66 518.6,319.72 519.5,319.86 520.4,319.31 521.3,319.59 522.2,320.58 523.1,319.19 524,319.74 524.9,320.42 525.8,320.21 526.7,320.22 527.6,319.11 528.5,319.02" fill="none" stroke="#ff0000" stroke-width="1.9" stroke-linejoin="round" stroke-linecap="round"/>
<polyline points="299,362.05 299.9,362.09 300.8,362.13 301.7,362.17 302.6,362.21 303.5,362.25 304.4,362.29 305.3,362.33 306.2,362.38 307.1,362.42 308,362.46 308.9,362.5 309.8,362.54 310.7,362.58 311.6,362.62 312.5,362.66 313.4,362.71 314.3,362.75 315.2,362.79 316.1,362.83 317,362.87 317.9,362.91 318.8,362.95 319.7,362.99 320.6,363.04 321.5,363.08 322.4,363.12 323.3,363.16 324.2,363.2 325.1,363.24 326,363.28 326.9,363.32 327.8,363.37 328.7,363.41 329.6,363.45 330.5,363.49 331.4,363.53 332.3,363.57 333.2,363.61 334.1,363.65 335,363.7 335.9,363.74 336.8,363.78 337.7,363.82 338.6,363.86 339.5,363.9 340.4,363.94 341.3,363.98 342.2,364.03 343.1,364.07 344,364.11 344.9,364.15 345.8,364.19 346.7,364.23 347.6,364.27 348.5,364.31 349.4,364.36 350.3,364.4 351.2,364.44 352.1,364.48 353,364.52 353.9,364.56 354.8,364.6 355.7,364.64 356.6,364.69 357.5,364.73 358.4,364.77 359.3,364.81 360.2,364.85 361.1,364.89 362,364.93 362.9,364.97 363.8,365.02 364.7,365.06 365.6,365.1 366.5,365.14 367.4,365.18 368.3,365.22 369.2,365.26 370.1,365.3 371,365.35 371.9,365.39 372.8,365.43 373.7,365.47 374.6,365.51 375.5,365.55 376.4,365.59 377.3,365.63 378.2,365.68 379.1,365.72 380,365.76 380.9,365.8 381.8,365.84 382.7,365.88 383.6,365.92 384.5,365.96 385.4,366.01 386.3,366.05 387.2,366.09 388.1,366.13 389,366.17 389.9,366.21 390.8,366.25 391.7,366.29 392.6,366.34 393.5,366.38 394.4,366.42 395.3,366.46 396.2,366.5 397.1,366.54 398,366.58 398.9,366.62 399.8,366.67 400.7,366.71 401.6,366.75 402.5,366.79 403.4,366.83 404.3,366.87 405.2,366.91 406.1,366.95 407,367 407.9,367.04 408.8,367.08 409.7,367.12 410.6,367.16 411.5,367.2 412.4,367.24 413.3,367.28 414.2,367.33 415.1,367.37 416,367.41 416.9,367.45 417.8,367.49 418.7,367.51 419.6,367.53 420.5,367.55 421.4,367.57 422.3,367.59 423.2,367.61 424.1,367.62 425,367.64 425.9,367.66 426.8,367.68 427.7,367.7 428.6,367.72 429.5,367.74 430.4,367.75 431.3,367.77 432.2,367.79 433.1,367.81 434,367.83 434.9,367.85 435.8,367.86 436.7,367.88 437.6,367.9 438.5,367.92 439.4,367.94 440.3,367.96 441.2,367.97 442.1,367.99 443,368.01 443.9,368.03 444.8,368.05 445.7,368.07 446.6,368.09 447.5,368.1 448.4,368.12 449.3,368.14 450.2,368.16 451.1,368.18 452,368.2 452.9,368.22 453.8,368.24 454.7,368.26 455.6,368.28 456.5,368.3 457.4,368.33 458.3,368.36 459.2,368.39 460.1,368.43 461,368.47 461.9,368.52 462.8,368.56 463.7,368.61 464.6,368.67 465.5,368.75 466.4,368.85 467.3,368.96 468.2,369.1 469.1,369.27 470,369.46 470.9,369.68 471.8,369.93 472.7,370.21 473.6,370.52 474.5,370.86 475.4,371.23 476.3,371.62 477.2,372.03 478.1,372.46 479,372.9 479.9,373.35 480.8,373.8 481.7,374.24 482.6,374.67 483.5,375.09 484.4,375.49 485.3,375.86 486.2,376.21 487.1,376.53 488,376.81 488.9,377.07 489.8,377.3 490.7,377.49 491.6,377.66 492.5,377.81 493.4,377.93 494.3,378.03 495.2,378.11 496.1,378.18 497,378.23 497.9,378.27 498.8,378.31 499.7,378.33" fill="none" stroke="#2222b4" stroke-width="1.5" stroke-linejoin="round" stroke-linecap="round"/>
<polyline points="346.7,363.95 347.6,363.86 348.5,363.74 349.4,363.57 350.3,363.35 351.2,363.06 352.1,362.72 353,362.32 353.9,361.87 354.8,361.39 355.7,360.88 356.6,360.39 357.5,359.92 358.4,359.52 359.3,359.2 360.2,358.99 361.1,358.91 362,358.95 362.9,359.14 363.8,359.44 364.7,359.85 365.6,360.35 366.5,360.9 367.4,361.48 368.3,362.07 369.2,362.63 370.1,363.16 371,363.63 371.9,364.05 372.8,364.41 373.7,364.71 374.6,364.96 375.5,365.16 376.4,365.32" fill="none" stroke="#15907f" stroke-width="1.3" stroke-linejoin="round" stroke-linecap="round"/>
<polyline points="352.1,364.19 353,364.09 353.9,363.94 354.8,363.73 355.7,363.45 356.6,363.07 357.5,362.61 358.4,362.04 359.3,361.38 360.2,360.64 361.1,359.83 362,358.99 362.9,358.15 363.8,357.35 364.7,356.63 365.6,356.05 366.5,355.64 367.4,355.43 368.3,355.43 369.2,355.66 370.1,356.09 371,356.7 371.9,357.45 372.8,358.31 373.7,359.23 374.6,360.16 375.5,361.07 376.4,361.92 377.3,362.69 378.2,363.37 379.1,363.95 380,364.43 380.9,364.83 381.8,365.14 382.7,365.39 383.6,365.59 384.5,365.74" fill="none" stroke="#f7931e" stroke-width="1.3" stroke-linejoin="round" stroke-linecap="round"/>
<polyline points="408.8,366.8 409.7,366.68 410.6,366.48 411.5,366.19 412.4,365.78 413.3,365.23 414.2,364.55 415.1,363.72 416,362.77 416.9,361.75 417.8,360.7 418.7,359.69 419.6,358.8 420.5,358.11 421.4,357.7 422.3,357.59 423.2,357.8 424.1,358.32 425,359.09 425.9,360.06 426.8,361.13 427.7,362.24 428.6,363.31 429.5,364.29 430.4,365.15 431.3,365.86 432.2,366.44 433.1,366.88 434,367.21 434.9,367.45 435.8,367.62" fill="none" stroke="#33e6ff" stroke-width="1.3" stroke-linejoin="round" stroke-linecap="round"/>
<polyline points="424.1,367.39 425,367.27 425.9,367.08 426.8,366.8 427.7,366.41 428.6,365.9 429.5,365.26 430.4,364.48 431.3,363.58 432.2,362.6 433.1,361.59 434,360.6 434.9,359.72 435.8,359.03 436.7,358.57 437.6,358.4 438.5,358.54 439.4,358.97 440.3,359.66 441.2,360.54 442.1,361.54 443,362.59 443.9,363.63 444.8,364.58 445.7,365.43 446.6,366.14 447.5,366.71 448.4,367.16 449.3,367.5 450.2,367.74 451.1,367.92" fill="none" stroke="#0000ff" stroke-width="1.3" stroke-linejoin="round" stroke-linecap="round"/>
<polyline points="455.6,367.98 456.5,367.86 457.4,367.68 458.3,367.43 459.2,367.1 460.1,366.67 461,366.12 461.9,365.45 462.8,364.65 463.7,363.73 464.6,362.72 465.5,361.65 466.4,360.57 467.3,359.52 468.2,358.58 469.1,357.79 470,357.23 470.9,356.93 471.8,356.94 472.7,357.27 473.6,357.92 474.5,358.86 475.4,360.05 476.3,361.44 477.2,362.97 478.1,364.58 479,366.19 479.9,367.77 480.8,369.25 481.7,370.63 482.6,371.86 483.5,372.95 484.4,373.9 485.3,374.71 486.2,375.39 487.1,375.95 488,376.43 488.9,376.81" fill="none" stroke="#15907f" stroke-width="1.3" stroke-linejoin="round" stroke-linecap="round"/>
<polyline points="461.9,368.21 462.8,368.1 463.7,367.93 464.6,367.7 465.5,367.37 466.4,366.93 467.3,366.35 468.2,365.6 469.1,364.68 470,363.55 470.9,362.22 471.8,360.69 472.7,358.98 473.6,357.13 474.5,355.2 475.4,353.27 476.3,351.4 477.2,349.71 478.1,348.29 479,347.21 479.9,346.57 480.8,346.42 481.7,346.77 482.6,347.64 483.5,348.99 484.4,350.77 485.3,352.89 486.2,355.27 487.1,357.8 488,360.39 488.9,362.94 489.8,365.37 490.7,367.61 491.6,369.64 492.5,371.41 493.4,372.93 494.3,374.19 495.2,375.23 496.1,376.05 497,376.69 497.9,377.18 498.8,377.54 499.7,377.81 500.6,378 501.5,378.13" fill="none" stroke="#f7931e" stroke-width="1.3" stroke-linejoin="round" stroke-linecap="round"/>
<polyline points="299,362.64 299.9,361.23 300.8,362.99 301.7,362.19 302.6,359.78 303.5,363.62 304.4,361.93 305.3,362.91 306.2,364.57 307.1,361.96 308,359.58 308.9,359.67 309.8,361.56 310.7,357.04 311.6,358.66 312.5,357.74 313.4,354.31 314.3,355.14 315.2,354.66 316.1,351.77 317,351.57 317.9,352.78 318.8,350.04 319.7,351.04 320.6,354.48 321.5,354.13 322.4,353.01 323.3,356.37 324.2,360.5 325.1,356.49 326,361.04 326.9,361.87 327.8,361.22 328.7,363 329.6,361.54 330.5,365.22 331.4,365.74 332.3,362.02 333.2,363.16 334.1,363.77 335,362.71 335.9,364.24 336.8,362.21 337.7,364.68 338.6,363.4 339.5,363.82 340.4,364.64 341.3,365.35 342.2,362.52 343.1,365.19 344,365.34 344.9,363.84 345.8,366.29 346.7,362.78 347.6,363.02 348.5,364.26 349.4,362.47 350.3,365.31 351.2,363.17 352.1,365.01 353,360.31 353.9,359.83 354.8,362.52 355.7,358.12 356.6,360.39 357.5,356.6 358.4,357.2 359.3,357.53 360.2,354.7 361.1,352.14 362,352.29 362.9,354.03 363.8,352.08 364.7,352.52 365.6,351.47 366.5,351.88 367.4,351.5 368.3,350.82 369.2,353.92 370.1,354.31 371,352.12 371.9,356.26 372.8,358.91 373.7,361.55 374.6,357.79 375.5,361.09 376.4,362.77 377.3,363.98 378.2,362.58 379.1,365.08 380,364.26 380.9,365.3 381.8,364.96 382.7,366.56 383.6,365.79 384.5,367.06 385.4,366.69 386.3,368.37 387.2,369.69 388.1,367.2 389,366.37 389.9,367.26 390.8,366.94 391.7,365.38 392.6,368.03 393.5,367.37 394.4,369.57 395.3,368.12 396.2,369.8 397.1,369.64 398,367.81 398.9,368.13 399.8,367.88 400.7,368.02 401.6,369.96 402.5,367.96 403.4,368.11 404.3,367.52 405.2,370.8 406.1,368.11 407,368.35 407.9,367.17 408.8,368.67 409.7,366.93 410.6,366.82 411.5,364.38 412.4,364.46 413.3,366.57 414.2,366.65 415.1,362.1 416,363.81 416.9,362.74 417.8,365.9 418.7,358.75 419.6,358.27 420.5,356.94 421.4,359.26 422.3,359.39 423.2,357.53 424.1,360.59 425,362.06 425.9,358.93 426.8,361.21 427.7,360.77 428.6,360.63 429.5,361.19 430.4,361.57 431.3,359.79 432.2,361.15 433.1,361.88 434,358.59 434.9,358.55 435.8,357.42 436.7,358.99 437.6,358.16 438.5,359.88 439.4,358.47 440.3,357.43 441.2,361.37 442.1,361.08 443,364.3 443.9,364.69 444.8,360.63 445.7,362.45 446.6,366.17 447.5,365.57 448.4,363.78 449.3,366.67 450.2,369.65 451.1,368.83 452,366.65 452.9,368.46 453.8,369.56 454.7,367.74 455.6,370.6 456.5,366.76 457.4,370.79 458.3,369.67 459.2,367.79 460.1,366.86 461,365.96 461.9,363.73 462.8,365.65 463.7,364.95 464.6,362.91 465.5,360.68 466.4,358.8 467.3,355.5 468.2,354.09 469.1,351.03 470,352.04 470.9,348.11 471.8,348.95 472.7,345.04 473.6,346.66 474.5,345.55 475.4,344.38 476.3,342.94 477.2,340.19 478.1,339.92 479,339.39 479.9,341.47 480.8,344.38 481.7,341.51 482.6,348.45 483.5,345.99 484.4,347.42 485.3,352.24 486.2,356.06 487.1,356.69 488,358.46 488.9,365.3 489.8,363.54 490.7,368.99 491.6,369.79 492.5,370.8 493.4,372.97 494.3,372.54 495.2,373.54 496.1,376.5 497,375.12 497.9,376.01 498.8,379.71 499.7,380.5 500.6,379.65 501.5,379.47 502.4,377.84 503.3,378.42 504.2,377.21 505.1,374.14 506,378.66 506.9,378.71 507.8,379.86 508.7,376.59 509.6,380.11 510.5,377.58 511.4,376.53 512.3,378 513.2,379.78 514.1,378.37 515,379.04 515.9,377.06 516.8,379.1 517.7,379.86 518.6,377.05 519.5,379.01 520.4,376.36 521.3,378.72 522.2,376.14 523.1,378.99 524,378.37 524.9,376.7 525.8,378.92 526.7,376.9 527.6,378.51 528.5,377.01" fill="none" stroke="#000" stroke-width="1.2" stroke-linejoin="round" stroke-linecap="round"/>
<polyline points="299,362.04 299.9,362.08 300.8,362.11 301.7,362.13 302.6,362.14 303.5,362.12 304.4,362.08 305.3,361.98 306.2,361.82 307.1,361.56 308,361.19 308.9,360.69 309.8,360.03 310.7,359.22 311.6,358.26 312.5,357.18 313.4,356.03 314.3,354.89 315.2,353.83 316.1,352.93 317,352.29 317.9,351.97 318.8,351.99 319.7,352.36 320.6,353.05 321.5,354 322.4,355.13 323.3,356.35 324.2,357.59 325.1,358.76 326,359.82 326.9,360.73 327.8,361.49 328.7,362.09 329.6,362.55 330.5,362.9 331.4,363.16 332.3,363.34 333.2,363.48 334.1,363.57 335,363.65 335.9,363.71 336.8,363.76 337.7,363.81 338.6,363.85 339.5,363.89 340.4,363.93 341.3,363.96 342.2,363.99 343.1,364.01 344,364.02 344.9,364.01 345.8,363.98 346.7,363.93 347.6,363.83 348.5,363.69 349.4,363.49 350.3,363.22 351.2,362.87 352.1,362.43 353,361.89 353.9,361.25 354.8,360.52 355.7,359.69 356.6,358.78 357.5,357.8 358.4,356.79 359.3,355.77 360.2,354.78 361.1,353.85 362,353.01 362.9,352.31 363.8,351.77 364.7,351.43 365.6,351.3 366.5,351.4 367.4,351.73 368.3,352.28 369.2,353.02 370.1,353.94 371,354.98 371.9,356.12 372.8,357.29 373.7,358.47 374.6,359.61 375.5,360.67 376.4,361.64 377.3,362.5 378.2,363.24 379.1,363.87 380,364.38 380.9,364.8 381.8,365.13 382.7,365.38 383.6,365.58 384.5,365.74 385.4,365.86 386.3,365.95 387.2,366.03 388.1,366.09 389,366.15 389.9,366.2 390.8,366.25 391.7,366.29 392.6,366.33 393.5,366.38 394.4,366.42 395.3,366.46 396.2,366.5 397.1,366.54 398,366.58 398.9,366.62 399.8,366.67 400.7,366.71 401.6,366.75 402.5,366.79 403.4,366.82 404.3,366.86 405.2,366.88 406.1,366.9 407,366.9 407.9,366.87 408.8,366.8 409.7,366.68 410.6,366.48 411.5,366.19 412.4,365.78 413.3,365.23 414.2,364.55 415.1,363.72 416,362.77 416.9,361.75 417.8,360.7 418.7,359.68 419.6,358.78 420.5,358.09 421.4,357.65 422.3,357.51 423.2,357.66 424.1,358.09 425,358.72 425.9,359.47 426.8,360.25 427.7,360.95 428.6,361.5 429.5,361.82 430.4,361.88 431.3,361.68 432.2,361.25 433.1,360.66 434,359.99 434.9,359.33 435.8,358.78 436.7,358.42 437.6,358.32 438.5,358.49 439.4,358.94 440.3,359.64 441.2,360.53 442.1,361.54 443,362.59 443.9,363.62 444.8,364.58 445.7,365.42 446.6,366.13 447.5,366.71 448.4,367.15 449.3,367.49 450.2,367.73 451.1,367.89 452,367.99 452.9,368.04 453.8,368.06 454.7,368.03 455.6,367.96 456.5,367.84 457.4,367.65 458.3,367.38 459.2,367.02 460.1,366.54 461,365.92 461.9,365.15 462.8,364.19 463.7,363.05 464.6,361.74 465.5,360.27 466.4,358.65 467.3,356.91 468.2,355.08 469.1,353.2 470,351.32 470.9,349.47 471.8,347.7 472.7,346.04 473.6,344.53 474.5,343.2 475.4,342.09 476.3,341.23 477.2,340.65 478.1,340.4 479,340.5 479.9,340.99 480.8,341.87 481.7,343.16 482.6,344.83 483.5,346.85 484.4,349.18 485.3,351.74 486.2,354.45 487.1,357.23 488,360 488.9,362.68 489.8,365.2 490.7,367.51 491.6,369.57 492.5,371.37 493.4,372.9 494.3,374.18 495.2,375.22 496.1,376.04 497,376.69 497.9,377.25 498.8,377.81 499.7,377.24 500.6,379.16 501.5,379.69 502.4,378.69 503.3,378.39 504.2,377.86 505.1,378.25 506,378.23 506.9,378.96 507.8,378.42 508.7,378.98 509.6,378.88 510.5,378.05 511.4,377.39 512.3,377.51 513.2,377.6 514.1,378.42 515,379.37 515.9,377.71 516.8,378.95 517.7,378.3 518.6,379.43 519.5,380.21 520.4,379.28 521.3,378.71 522.2,378.84 523.1,379.48 524,378.22 524.9,377.84 525.8,378.59 526.7,379.72 527.6,377.9 528.5,379.33" fill="none" stroke="#ff0000" stroke-width="1.9" stroke-linejoin="round" stroke-linecap="round"/>
<text x="300.2" y="222" font-size="9.5" fill="#000" text-anchor="start">CuO@NC-900</text>
<text x="303.5" y="272.8" font-size="9.5" fill="#000" text-anchor="start">Cu@NC-900</text>
<text x="303.5" y="332" font-size="9.5" fill="#000" text-anchor="start">Cu/CuO@NC-900</text>
<text x="313.1" y="236.4" font-size="8.9" fill="#2020e0" text-anchor="start">Sat.</text>
<text x="423.3" y="240.8" font-size="8.9" fill="#2020e0" text-anchor="start">Sat.</text>
<text x="334.6" y="230.9" font-size="8.9" fill="#15907f" text-anchor="start">954.45</text>
<text x="340.1" y="242" font-size="9" fill="#15907f">Cu<tspan font-size="4.6" dy="-3.6">2+</tspan></text>
<text x="381.9" y="236" font-size="8.9" fill="#f7931e" text-anchor="start">953.37</text>
<text x="387.8" y="248" font-size="9" fill="#f7931e">Cu<tspan font-size="4.6" dy="-3.6">+</tspan></text>
<text x="360.6" y="228" font-size="9" fill="#000">2p<tspan font-size="4.3" dy="1.8">1/2</tspan></text>
<text x="445" y="229.7" font-size="8.9" fill="#15907f" text-anchor="start">934.58</text>
<text x="452.1" y="242" font-size="9" fill="#15907f">Cu<tspan font-size="4.6" dy="-3.6">2+</tspan></text>
<text x="493.2" y="238.6" font-size="8.9" fill="#f7931e" text-anchor="start">932.68</text>
<text x="502" y="249.7" font-size="9" fill="#f7931e">Cu<tspan font-size="4.6" dy="-3.6">+</tspan></text>
<text x="474.3" y="223" font-size="9" fill="#000">2p<tspan font-size="4.3" dy="1.8">3/2</tspan></text>
<line x1="361" y1="224.5" x2="359" y2="226" stroke="#000" stroke-width="0.9"/>
<polygon points="357,227.5 358.32,224.26 360.48,227.14" fill="#000"/>
<line x1="372" y1="227.5" x2="377.76" y2="230.38" stroke="#000" stroke-width="0.9"/>
<polygon points="380,231.5 376.51,231.77 378.12,228.55" fill="#000"/>
<line x1="474" y1="220.5" x2="468.45" y2="224.94" stroke="#000" stroke-width="0.9"/>
<polygon points="466.5,226.5 467.72,223.22 469.97,226.03" fill="#000"/>
<line x1="487" y1="223" x2="492.23" y2="228.23" stroke="#000" stroke-width="0.9"/>
<polygon points="494,230 490.61,229.15 493.15,226.61" fill="#000"/>
<text x="309.1" y="289" font-size="8.9" fill="#2020e0" text-anchor="start">Sat.</text>
<text x="425.5" y="299.4" font-size="8.9" fill="#2020e0" text-anchor="start">Sat.</text>
<text x="331.3" y="285.4" font-size="8.9" fill="#15907f" text-anchor="start">954.89</text>
<text x="336.8" y="298.3" font-size="9" fill="#15907f">Cu<tspan font-size="4.6" dy="-3.6">2+</tspan></text>
<text x="384.5" y="290.5" font-size="8.9" fill="#f7931e" text-anchor="start">952.62</text>
<text x="389" y="303.2" font-size="9" fill="#f7931e">Cu<tspan font-size="4.6" dy="-3.6">+</tspan></text>
<text x="362.3" y="284" font-size="9" fill="#000">2p<tspan font-size="4.3" dy="1.8">1/2</tspan></text>
<text x="447.3" y="285.4" font-size="8.9" fill="#15907f" text-anchor="start">934.89</text>
<text x="452.1" y="298.3" font-size="9" fill="#15907f">Cu<tspan font-size="4.6" dy="-3.6">2+</tspan></text>
<text x="493.2" y="295.6" font-size="8.9" fill="#f7931e" text-anchor="start">932.63</text>
<text x="498.7" y="306" font-size="9" fill="#f7931e">Cu<tspan font-size="4.6" dy="-3.6">+</tspan></text>
<text x="474.3" y="278" font-size="9" fill="#000">2p<tspan font-size="4.3" dy="1.8">3/2</tspan></text>
<line x1="362" y1="280" x2="358.37" y2="281.21" stroke="#000" stroke-width="0.9"/>
<polygon points="356,282 358.28,279.34 359.42,282.76" fill="#000"/>
<line x1="375" y1="281" x2="381.72" y2="283.98" stroke="#000" stroke-width="0.9"/>
<polygon points="384,285 380.53,285.43 381.99,282.14" fill="#000"/>
<line x1="474" y1="275" x2="471.66" y2="277.63" stroke="#000" stroke-width="0.9"/>
<polygon points="470,279.5 470.65,276.06 473.34,278.45" fill="#000"/>
<line x1="488" y1="276" x2="492.37" y2="281.1" stroke="#000" stroke-width="0.9"/>
<polygon points="494,283 490.68,281.89 493.41,279.55" fill="#000"/>
<text x="310.2" y="346.4" font-size="8.9" fill="#2020e0" text-anchor="start">Sat.</text>
<text x="424.4" y="353" font-size="8.9" fill="#2020e0" text-anchor="start">Sat.</text>
<text x="329" y="346" font-size="8.9" fill="#15907f" text-anchor="start">955.23</text>
<text x="333.5" y="359.3" font-size="9" fill="#15907f">Cu<tspan font-size="4.6" dy="-3.6">2+</tspan></text>
<text x="380.1" y="353" font-size="8.9" fill="#f7931e" text-anchor="start">953.44</text>
<text x="383.4" y="365.3" font-size="9" fill="#f7931e">Cu<tspan font-size="4.6" dy="-3.6">+</tspan></text>
<text x="360.6" y="343.5" font-size="9" fill="#000">2p<tspan font-size="4.3" dy="1.8">1/2</tspan></text>
<text x="445.5" y="347.5" font-size="8.9" fill="#15907f" text-anchor="start">935.06</text>
<text x="450" y="359.7" font-size="9" fill="#15907f">Cu<tspan font-size="4.6" dy="-3.6">2+</tspan></text>
<text x="493.2" y="347.5" font-size="8.9" fill="#f7931e" text-anchor="start">933.33</text>
<text x="497.6" y="359.7" font-size="9" fill="#f7931e">Cu<tspan font-size="4.6" dy="-3.6">+</tspan></text>
<text x="472" y="334.5" font-size="9" fill="#000">2p<tspan font-size="4.3" dy="1.8">3/2</tspan></text>
<line x1="360" y1="340" x2="356.24" y2="341.88" stroke="#000" stroke-width="0.9"/>
<polygon points="354,343 355.88,340.05 357.49,343.27" fill="#000"/>
<line x1="374" y1="341" x2="378.97" y2="344.55" stroke="#000" stroke-width="0.9"/>
<polygon points="381,346 377.51,345.72 379.61,342.79" fill="#000"/>
<line x1="471" y1="331" x2="466.09" y2="335.76" stroke="#000" stroke-width="0.9"/>
<polygon points="464.3,337.5 465.2,334.12 467.71,336.7" fill="#000"/>
<line x1="487" y1="331" x2="493.42" y2="335.97" stroke="#000" stroke-width="0.9"/>
<polygon points="495.4,337.5 491.93,337.09 494.13,334.24" fill="#000"/>
<defs>
<radialGradient id="lobeT" cx="0.55" cy="0.5" r="0.6"><stop offset="0" stop-color="#3fe3cf"/><stop offset="0.8" stop-color="#3ddccb"/><stop offset="1" stop-color="#2cc3b2"/></radialGradient>
<radialGradient id="lobeP" cx="0.55" cy="0.5" r="0.6"><stop offset="0" stop-color="#e0b0ec"/><stop offset="0.8" stop-color="#daa8e6"/><stop offset="1" stop-color="#c690d4"/></radialGradient>
<linearGradient id="lobeO" x1="0" y1="0" x2="1" y2="0"><stop offset="0" stop-color="#fdd27c"/><stop offset="0.5" stop-color="#fddb8e"/><stop offset="1" stop-color="#f5c468"/></linearGradient>
</defs>
<line x1="79" y1="460.6" x2="187" y2="460.6" stroke="#000" stroke-width="1.2"/>
<path d="M 4,0 L 28,-13.6 C 33,-16.3 40.5,-16 43,-11 C 45.5,-6 45.5,6 43,11 C 40.5,16 33,16.3 28,13.6 Z" transform="translate(72.9 460.3) rotate(225) scale(0.95)" fill="url(#lobeT)" stroke="#14756b" stroke-width="1.35"/>
<polyline points="37.87,441.82 37.8,441.31 37.79,440.8 37.82,440.3 37.91,439.79 38.05,439.27 38.26,438.71 38.55,438.09 38.9,437.43 39.3,436.74 39.77,436.03 40.29,435.3 40.85,434.55 41.45,433.8 42.09,433.05 42.76,432.31 43.46,431.58 44.18,430.86 44.91,430.16 45.65,429.49 46.4,428.85 47.15,428.25 47.9,427.69 48.63,427.17 49.34,426.7 50.03,426.3 50.69,425.95 51.31,425.66 51.87,425.45 52.39,425.31 52.9,425.22 53.4,425.19 53.91,425.2 54.42,425.27" fill="none" stroke="#ffffff" stroke-opacity="0.5" stroke-width="1.4" stroke-linecap="round" stroke-linejoin="round"/>
<path d="M 4,0 L 28,-13.6 C 33,-16.3 40.5,-16 43,-11 C 45.5,-6 45.5,6 43,11 C 40.5,16 33,16.3 28,13.6 Z" transform="translate(72.9 460.3) rotate(315) scale(0.95)" fill="url(#lobeT)" stroke="#14756b" stroke-width="1.35"/>
<polyline points="78.93,451.39 79.24,450.29 79.54,449.19 79.85,448.09 80.15,447 80.45,445.9 80.75,444.81 81.05,443.71 81.35,442.62 81.65,441.53 81.94,440.43 82.24,439.34 82.54,438.24 82.83,437.15 83.13,436.05 83.43,434.95 83.72,433.85 84.01,432.78 84.21,432.19 84.44,431.61 84.7,431.02 85,430.45 85.34,429.89 85.7,429.35 86.08,428.82 86.49,428.32 86.93,427.85 87.38,427.41 87.85,427 88.33,426.63 88.83,426.29 89.33,426 89.84,425.75 90.35,425.54 90.87,425.38 91.38,425.27 91.89,425.2 92.4,425.19 92.9,425.22" fill="none" stroke="#ffffff" stroke-opacity="0.5" stroke-width="1.4" stroke-linecap="round" stroke-linejoin="round"/>
<path d="M 4,0 L 28,-13.6 C 33,-16.3 40.5,-16 43,-11 C 45.5,-6 45.5,6 43,11 C 40.5,16 33,16.3 28,13.6 Z" transform="translate(72.9 460.3) rotate(135) scale(0.95)" fill="url(#lobeT)" stroke="#14756b" stroke-width="1.35"/>
<polyline points="37.82,480.3 37.79,479.8 37.8,479.29 37.87,478.78 37.98,478.27 38.14,477.75 38.35,477.24 38.6,476.73 38.89,476.23 39.23,475.73 39.6,475.25 40.01,474.78 40.45,474.33 40.92,473.89 41.42,473.48 41.95,473.1 42.49,472.74 43.05,472.4 43.62,472.1 44.21,471.84 44.79,471.61 45.38,471.41 46.45,471.12 47.55,470.83 48.65,470.53 49.75,470.23 50.84,469.94 51.94,469.64 53.03,469.34 54.13,469.05 55.22,468.75 56.31,468.45 57.41,468.15 58.5,467.85 59.6,467.55 60.69,467.25 61.79,466.94 62.89,466.64 63.99,466.33" fill="none" stroke="#ffffff" stroke-opacity="0.5" stroke-width="1.4" stroke-linecap="round" stroke-linejoin="round"/>
<path d="M 4,0 L 28,-13.6 C 33,-16.3 40.5,-16 43,-11 C 45.5,-6 45.5,6 43,11 C 40.5,16 33,16.3 28,13.6 Z" transform="translate(72.9 460.3) rotate(45) scale(0.95)" fill="url(#lobeT)" stroke="#14756b" stroke-width="1.35"/>
<rect x="66.1" y="456.1" width="13.6" height="9" fill="#fff"/>
<text x="72.9" y="464.2" font-size="10" fill="#000" text-anchor="middle">Cu</text>
<path d="M 0,0 C -4,-6 -9,-14 -10.6,-21 C -11.8,-26 -10,-28.3 -6,-28.4 C -2,-28.9 2,-28.9 6,-28.4 C 10,-28.3 11.8,-26 10.6,-21 C 9,-14 4,-6 0,0 Z" transform="translate(198.4 454.5)" fill="url(#lobeO)" stroke="#c9921e" stroke-width="1.2"/>
<path d="M 0,0 C -4,-6 -9,-14 -10.6,-21 C -11.8,-26 -10,-28.3 -6,-28.4 C -2,-28.9 2,-28.9 6,-28.4 C 10,-28.3 11.8,-26 10.6,-21 C 9,-14 4,-6 0,0 Z" transform="translate(198.4 465.5) rotate(180)" fill="url(#lobeO)" stroke="#c9921e" stroke-width="1.2"/>
<text x="197.6" y="464.4" font-size="10" fill="#000" text-anchor="middle">O</text>
<defs><linearGradient id="ga1" gradientUnits="userSpaceOnUse" x1="111.7" y1="0" x2="144.4" y2="0"><stop offset="0" stop-color="#66dcc0"/><stop offset="1" stop-color="#ffd07a"/></linearGradient></defs>
<rect x="111.7" y="444.1" width="28.2" height="2.8" fill="url(#ga1)"/>
<polygon points="144.4,445.5 136.9,441.5 139.9,445.5 136.9,449.5" fill="url(#ga1)"/>
<defs><linearGradient id="ga2" gradientUnits="userSpaceOnUse" x1="180.4" y1="0" x2="147.8" y2="0"><stop offset="0" stop-color="#ffe49a"/><stop offset="1" stop-color="#5ed8b0"/></linearGradient></defs>
<rect x="152.3" y="444.1" width="28.1" height="2.8" fill="url(#ga2)"/>
<polygon points="147.8,445.5 155.3,441.5 152.3,445.5 155.3,449.5" fill="url(#ga2)"/>
<text x="148.2" y="440" font-size="11.5" text-anchor="middle">e<tspan font-size="6" dy="-4.5">-</tspan><tspan dy="4.5">-e</tspan><tspan font-size="6" dy="-4.5">-</tspan></text>
<text x="147.2" y="456.8" font-size="9.2" fill="#000" text-anchor="middle">Repulsion</text>
<text x="73.4" y="512.8" font-size="10.9" fill="#000" text-anchor="middle">CuO@NC-900</text>
<line x1="289" y1="460.6" x2="377" y2="460.6" stroke="#000" stroke-width="1.2"/>
<line x1="398.5" y1="460.6" x2="486" y2="460.6" stroke="#000" stroke-width="1.2" stroke-dasharray="4.2 2.8"/>
<path d="M 4,0 L 28,-13.6 C 33,-16.3 40.5,-16 43,-11 C 45.5,-6 45.5,6 43,11 C 40.5,16 33,16.3 28,13.6 Z" transform="translate(282.6 460.3) rotate(225) scale(0.95)" fill="url(#lobeT)" stroke="#14756b" stroke-width="1.35"/>
<polyline points="247.57,441.82 247.5,441.31 247.49,440.8 247.52,440.3 247.61,439.79 247.75,439.27 247.96,438.71 248.25,438.09 248.6,437.43 249,436.74 249.47,436.03 249.99,435.3 250.55,434.55 251.15,433.8 251.79,433.05 252.46,432.31 253.16,431.58 253.88,430.86 254.61,430.16 255.35,429.49 256.1,428.85 256.85,428.25 257.6,427.69 258.33,427.17 259.04,426.7 259.73,426.3 260.39,425.95 261.01,425.66 261.57,425.45 262.09,425.31 262.6,425.22 263.1,425.19 263.61,425.2 264.12,425.27" fill="none" stroke="#ffffff" stroke-opacity="0.5" stroke-width="1.4" stroke-linecap="round" stroke-linejoin="round"/>
<path d="M 4,0 L 28,-13.6 C 33,-16.3 40.5,-16 43,-11 C 45.5,-6 45.5,6 43,11 C 40.5,16 33,16.3 28,13.6 Z" transform="translate(282.6 460.3) rotate(315) scale(0.95)" fill="url(#lobeT)" stroke="#14756b" stroke-width="1.35"/>
<polyline points="288.63,451.39 288.94,450.29 289.24,449.19 289.55,448.09 289.85,447 290.15,445.9 290.45,444.81 290.75,443.71 291.05,442.62 291.35,441.53 291.64,440.43 291.94,439.34 292.24,438.24 292.53,437.15 292.83,436.05 293.13,434.95 293.42,433.85 293.71,432.78 293.91,432.19 294.14,431.61 294.4,431.02 294.7,430.45 295.04,429.89 295.4,429.35 295.78,428.82 296.19,428.32 296.63,427.85 297.08,427.41 297.55,427 298.03,426.63 298.53,426.29 299.03,426 299.54,425.75 300.05,425.54 300.57,425.38 301.08,425.27 301.59,425.2 302.1,425.19 302.6,425.22" fill="none" stroke="#ffffff" stroke-opacity="0.5" stroke-width="1.4" stroke-linecap="round" stroke-linejoin="round"/>
<path d="M 4,0 L 28,-13.6 C 33,-16.3 40.5,-16 43,-11 C 45.5,-6 45.5,6 43,11 C 40.5,16 33,16.3 28,13.6 Z" transform="translate(282.6 460.3) rotate(135) scale(0.95)" fill="url(#lobeT)" stroke="#14756b" stroke-width="1.35"/>
<polyline points="247.52,480.3 247.49,479.8 247.5,479.29 247.57,478.78 247.68,478.27 247.84,477.75 248.05,477.24 248.3,476.73 248.59,476.23 248.93,475.73 249.3,475.25 249.71,474.78 250.15,474.33 250.62,473.89 251.12,473.48 251.65,473.1 252.19,472.74 252.75,472.4 253.32,472.1 253.91,471.84 254.49,471.61 255.08,471.41 256.15,471.12 257.25,470.83 258.35,470.53 259.45,470.23 260.54,469.94 261.64,469.64 262.73,469.34 263.83,469.05 264.92,468.75 266.01,468.45 267.11,468.15 268.2,467.85 269.3,467.55 270.39,467.25 271.49,466.94 272.59,466.64 273.69,466.33" fill="none" stroke="#ffffff" stroke-opacity="0.5" stroke-width="1.4" stroke-linecap="round" stroke-linejoin="round"/>
<path d="M 4,0 L 28,-13.6 C 33,-16.3 40.5,-16 43,-11 C 45.5,-6 45.5,6 43,11 C 40.5,16 33,16.3 28,13.6 Z" transform="translate(282.6 460.3) rotate(45) scale(0.95)" fill="url(#lobeT)" stroke="#14756b" stroke-width="1.35"/>
<rect x="275.8" y="456.1" width="13.6" height="9" fill="#fff"/>
<text x="282.6" y="464.2" font-size="10" fill="#000" text-anchor="middle">Cu</text>
<path d="M 4,0 L 28,-13.6 C 33,-16.3 40.5,-16 43,-11 C 45.5,-6 45.5,6 43,11 C 40.5,16 33,16.3 28,13.6 Z" transform="translate(493.4 460.4) rotate(225) scale(0.95)" fill="url(#lobeP)" stroke="#5e2e6a" stroke-width="1.35"/>
<polyline points="458.37,441.92 458.3,441.41 458.29,440.9 458.32,440.4 458.41,439.89 458.55,439.37 458.76,438.81 459.05,438.19 459.4,437.53 459.8,436.84 460.27,436.13 460.79,435.4 461.35,434.65 461.95,433.9 462.59,433.15 463.26,432.41 463.96,431.68 464.68,430.96 465.41,430.26 466.15,429.59 466.9,428.95 467.65,428.35 468.4,427.79 469.13,427.27 469.84,426.8 470.53,426.4 471.19,426.05 471.81,425.76 472.37,425.55 472.89,425.41 473.4,425.32 473.9,425.29 474.41,425.3 474.92,425.37" fill="none" stroke="#ffffff" stroke-opacity="0.5" stroke-width="1.4" stroke-linecap="round" stroke-linejoin="round"/>
<path d="M 4,0 L 28,-13.6 C 33,-16.3 40.5,-16 43,-11 C 45.5,-6 45.5,6 43,11 C 40.5,16 33,16.3 28,13.6 Z" transform="translate(493.4 460.4) rotate(315) scale(0.95)" fill="url(#lobeP)" stroke="#5e2e6a" stroke-width="1.35"/>
<polyline points="499.43,451.49 499.74,450.39 500.04,449.29 500.35,448.19 500.65,447.1 500.95,446 501.25,444.91 501.55,443.81 501.85,442.72 502.15,441.63 502.44,440.53 502.74,439.44 503.04,438.34 503.33,437.25 503.63,436.15 503.93,435.05 504.22,433.95 504.51,432.88 504.71,432.29 504.94,431.71 505.2,431.12 505.5,430.55 505.84,429.99 506.2,429.45 506.58,428.92 506.99,428.42 507.43,427.95 507.88,427.51 508.35,427.1 508.83,426.73 509.33,426.39 509.83,426.1 510.34,425.85 510.85,425.64 511.37,425.48 511.88,425.37 512.39,425.3 512.9,425.29 513.4,425.32" fill="none" stroke="#ffffff" stroke-opacity="0.5" stroke-width="1.4" stroke-linecap="round" stroke-linejoin="round"/>
<path d="M 4,0 L 28,-13.6 C 33,-16.3 40.5,-16 43,-11 C 45.5,-6 45.5,6 43,11 C 40.5,16 33,16.3 28,13.6 Z" transform="translate(493.4 460.4) rotate(135) scale(0.95)" fill="url(#lobeP)" stroke="#5e2e6a" stroke-width="1.35"/>
<polyline points="458.32,480.4 458.29,479.9 458.3,479.39 458.37,478.88 458.48,478.37 458.64,477.85 458.85,477.34 459.1,476.83 459.39,476.33 459.73,475.83 460.1,475.35 460.51,474.88 460.95,474.43 461.42,473.99 461.92,473.58 462.45,473.2 462.99,472.84 463.55,472.5 464.12,472.2 464.71,471.94 465.29,471.71 465.88,471.51 466.95,471.22 468.05,470.93 469.15,470.63 470.25,470.33 471.34,470.04 472.44,469.74 473.53,469.44 474.63,469.15 475.72,468.85 476.81,468.55 477.91,468.25 479,467.95 480.1,467.65 481.19,467.35 482.29,467.04 483.39,466.74 484.49,466.43" fill="none" stroke="#ffffff" stroke-opacity="0.5" stroke-width="1.4" stroke-linecap="round" stroke-linejoin="round"/>
<path d="M 4,0 L 28,-13.6 C 33,-16.3 40.5,-16 43,-11 C 45.5,-6 45.5,6 43,11 C 40.5,16 33,16.3 28,13.6 Z" transform="translate(493.4 460.4) rotate(45) scale(0.95)" fill="url(#lobeP)" stroke="#5e2e6a" stroke-width="1.35"/>
<rect x="486.4" y="456.1" width="13.6" height="9" fill="#fff"/>
<text x="493.2" y="464.2" font-size="10" fill="#000" text-anchor="middle">Cu</text>
<path d="M 0,0 C -4,-6 -9,-14 -10.6,-21 C -11.8,-26 -10,-28.3 -6,-28.4 C -2,-28.9 2,-28.9 6,-28.4 C 10,-28.3 11.8,-26 10.6,-21 C 9,-14 4,-6 0,0 Z" transform="translate(387.5 454.5)" fill="url(#lobeO)" stroke="#c9921e" stroke-width="1.2"/>
<path d="M 0,0 C -4,-6 -9,-14 -10.6,-21 C -11.8,-26 -10,-28.3 -6,-28.4 C -2,-28.9 2,-28.9 6,-28.4 C 10,-28.3 11.8,-26 10.6,-21 C 9,-14 4,-6 0,0 Z" transform="translate(387.5 465.5) rotate(180)" fill="url(#lobeO)" stroke="#c9921e" stroke-width="1.2"/>
<text x="386.9" y="464.6" font-size="10" fill="#000" text-anchor="middle">O</text>
<defs><linearGradient id="ga3" gradientUnits="userSpaceOnUse" x1="321.8" y1="0" x2="345.5" y2="0"><stop offset="0" stop-color="#66dcc0"/><stop offset="1" stop-color="#ffd07a"/></linearGradient></defs>
<rect x="321.8" y="442.8" width="19.2" height="2.8" fill="url(#ga3)"/>
<polygon points="345.5,444.2 338,440.2 341,444.2 338,448.2" fill="url(#ga3)"/>
<defs><linearGradient id="ga4" gradientUnits="userSpaceOnUse" x1="373.6" y1="0" x2="348.5" y2="0"><stop offset="0" stop-color="#ffe49a"/><stop offset="1" stop-color="#5ed8b0"/></linearGradient></defs>
<rect x="353" y="442.8" width="20.6" height="2.8" fill="url(#ga4)"/>
<polygon points="348.5,444.2 356,440.2 353,444.2 356,448.2" fill="url(#ga4)"/>
<text x="349.9" y="438.6" font-size="11.5" text-anchor="middle">e<tspan font-size="6" dy="-4.5">-</tspan><tspan dy="4.5">-e</tspan><tspan font-size="6" dy="-4.5">-</tspan></text>
<text x="347.7" y="456" font-size="9.2" fill="#000" text-anchor="middle">Repulsion</text>
<defs><linearGradient id="ga5" gradientUnits="userSpaceOnUse" x1="455" y1="0" x2="397.5" y2="0"><stop offset="0" stop-color="#d8a2e6"/><stop offset="1" stop-color="#ffc870"/></linearGradient></defs>
<rect x="402" y="442.8" width="53" height="2.8" fill="url(#ga5)"/>
<polygon points="397.5,444.2 405,440.2 402,444.2 405,448.2" fill="url(#ga5)"/>
<text x="429.4" y="438.6" font-size="11.5" text-anchor="middle">e<tspan font-size="6" dy="-4.5">-</tspan></text>
<text x="431.3" y="457" font-size="9.3" fill="#000" text-anchor="middle">Electron-donator</text>
<text x="289" y="512.8" font-size="10.7" fill="#000" text-anchor="middle">Cu/CuO@NC-900</text>
<text x="40.2" y="537.8" font-size="13.6" fill="#000" text-anchor="start">Cu:</text>
<circle cx="81.7" cy="533" r="12.4" fill="#a8dc8c"/>
<text x="81.7" y="537.2" font-size="12" text-anchor="middle">1s<tspan font-size="7.8" dy="-4.6">2</tspan></text>
<circle cx="111.1" cy="533" r="12.4" fill="#fbd78c"/>
<text x="111.1" y="537.2" font-size="12" text-anchor="middle">2s<tspan font-size="7.8" dy="-4.6">2</tspan></text>
<circle cx="140.5" cy="533" r="12.4" fill="#fbd78c"/>
<text x="140.5" y="537.2" font-size="12" text-anchor="middle">2p<tspan font-size="7.8" dy="-4.6">6</tspan></text>
<circle cx="169.9" cy="533" r="12.4" fill="#f8877a"/>
<text x="169.9" y="537.2" font-size="12" text-anchor="middle">3s<tspan font-size="7.8" dy="-4.6">2</tspan></text>
<circle cx="199.3" cy="533" r="12.4" fill="#f8877a"/>
<text x="199.3" y="537.2" font-size="12" text-anchor="middle">3p<tspan font-size="7.8" dy="-4.6">6</tspan></text>
<circle cx="228.7" cy="533" r="12.4" fill="#f8877a"/>
<text x="228.7" y="537.2" font-size="12" text-anchor="middle">3d<tspan font-size="7.8" dy="-4.6">10</tspan></text>
<circle cx="258.1" cy="533" r="12.4" fill="#d8a8e6"/>
<text x="258.1" y="537.2" font-size="12" text-anchor="middle">4s<tspan font-size="7.8" dy="-4.6">1</tspan></text>
</g>
</svg>
</body></html>
